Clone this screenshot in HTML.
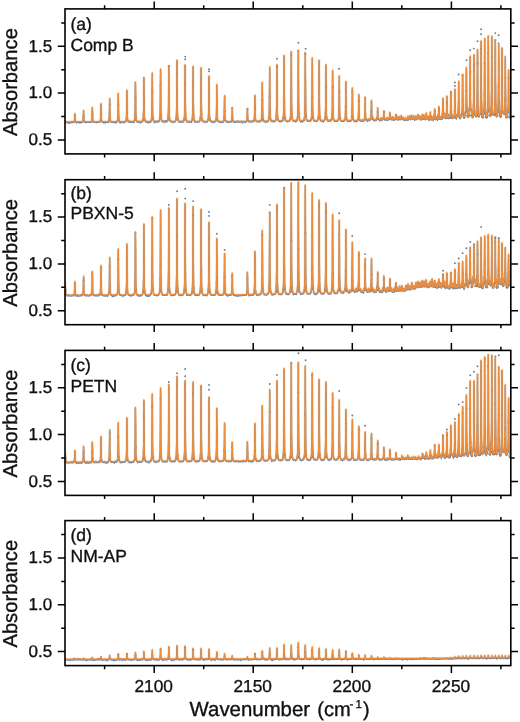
<!DOCTYPE html><html><head><meta charset="utf-8"><style>html,body{margin:0;padding:0;background:#fff;}svg{display:block;}text{font-family:"Liberation Sans",Arial,sans-serif;fill:#111;stroke:#111;stroke-width:0.35px;text-rendering:geometricPrecision;}</style></head><body>
<svg width="520" height="722" viewBox="0 0 520 722">
<defs>
<clipPath id="c0"><rect x="65" y="8.9" width="445.8" height="145"/></clipPath>
<clipPath id="c1"><rect x="65" y="179.7" width="445.8" height="145"/></clipPath>
<clipPath id="c2"><rect x="65" y="350.4" width="445.8" height="145"/></clipPath>
<clipPath id="c3"><rect x="65" y="520.6" width="445.8" height="145"/></clipPath>
</defs>
<g clip-path="url(#c0)" fill="none" stroke-linejoin="round">
<defs><path id="p0" d="M63 121.8L64.3 121.8L65.6 121.8L66.9 121.8L68.2 121.8L69.5 121.8L70.8 121.8L72.1 121.8L72.9 121.7L73.4 121.7L73.5 121.6L74 121.4L74.4 120.9L74.6 119.4L74.7 118L74.8 115.9L74.9 113.7L75 116.3L75.1 119.5L75.4 120.9L75.8 121.4L76 121.5L76.3 121.6L76.9 121.7L77.3 121.7L78.6 121.7L79.9 121.7L81.2 121.7L81.6 121.7L82.2 121.6L82.5 121.4L82.7 121.3L83.1 120.6L83.3 118.6L83.5 113.9L83.6 110.4L83.7 113.6L83.8 117.9L83.8 118.5L84.1 120.5L84.5 121.3L85 121.5L85.1 121.6L85.6 121.7L86.4 121.7L87.7 121.7L89 121.7L90.3 121.6L90.3 121.6L91 121.5L91.5 121.1L91.6 120.9L91.8 120.2L92.1 117.7L92.2 111.8L92.3 107.5L92.5 111.7L92.6 117.7L92.8 120.2L92.9 120.4L93.2 121.1L93.8 121.5L94.2 121.6L94.3 121.6L95.5 121.7L96.8 121.7L98.1 121.7L99 121.6L99.4 121.5L99.5 121.4L100 120.9L100.5 119.8L100.7 116.6L100.8 109.1L101 103.7L101 109.1L101.2 116.6L101.5 119.8L101.8 120.9L102 121.1L102.3 121.4L103 121.6L103.3 121.6L104.6 121.7L105.9 121.6L107.2 121.6L107.7 121.5L108.3 121.3L108.5 121.1L108.8 120.7L109.2 119.2L109.4 115L109.6 105.2L109.7 98.5L109.8 105.6L109.8 107.5L109.9 115.1L110.2 119.3L110.6 120.7L111.1 121.3L111.1 121.3L111.7 121.5L112.4 121.6L113.7 121.6L115 121.6L116.3 121.5L116.3 121.5L116.9 121.2L117.4 120.5L117.6 120L117.8 118.7L118.1 113.5L118.2 101.5L118.3 93.5L118.4 102.3L118.6 113.8L118.8 118.7L118.9 119.2L119.2 120.5L119.7 121.2L120.2 121.4L120.3 121.5L121.5 121.6L122.8 121.6L124.1 121.5L124.9 121.4L125.4 121.2L125.5 121.1L126 120.3L126.4 118.3L126.7 112.5L126.7 111.4L126.8 99L126.9 90.2L127 100.1L127.2 112.9L127.4 118.4L127.8 120.3L128 120.7L128.3 121.1L128.9 121.4L129.3 121.5L130.6 121.5L131.9 121.5L133.2 121.4L133.4 121.3L134.1 120.9L134.5 120.1L134.6 119.9L134.9 117.4L135.2 110.1L135.3 93.2L135.4 82.1L135.6 94.6L135.7 110.6L135.8 114.7L135.9 117.5L136.3 120L136.8 120.9L137.1 121.1L137.4 121.3L138.4 121.5L139.7 121.5L141 121.5L141.9 121.3L142.3 121L142.5 120.8L143 119.7L143.4 116.9L143.6 111.6L143.7 108.7L143.8 89.8L143.9 77.3L144 91.2L144.2 109.2L144.4 117L144.8 119.7L144.9 120L145.3 120.8L145.9 121.3L146.2 121.4L147.5 121.5L148.8 121.5L150.1 121.3L150.3 121.2L150.9 120.7L151.4 119.5L151.4 119.4L151.8 116.4L152 107.5L152.2 86.9L152.3 72.9L152.4 87.9L152.5 107.9L152.7 115L152.8 116.5L153.2 119.5L153.7 120.7L154 121.1L154.3 121.2L155.3 121.4L156.6 121.4L157.9 121.4L158.6 121.2L159.2 120.6L159.2 120.6L159.7 119.3L160.1 116L160.3 106.6L160.5 84.7L160.5 82.5L160.6 69.2L160.7 85L160.8 106.6L161.1 116.1L161.5 119.3L161.8 120.3L162 120.6L162.6 121.2L163.1 121.3L164.4 121.4L165.7 121.4L166.8 121.1L167 121L167.4 120.5L167.9 119.2L168.3 116.2L168.3 115.7L168.6 105.8L168.7 82.9L168.8 65.8L168.9 82L169.1 105.4L169.3 115.6L169.6 118.5L169.7 119.2L170.2 120.5L170.8 121.1L170.9 121.2L172.2 121.4L173.5 121.4L174.8 121.2L175 121.1L175.6 120.4L176.1 118.9L176.1 118.9L176.5 115L176.8 103.5L176.9 77.1L177 60.1L177.1 79.6L177.3 104.4L177.4 112.3L177.5 115.1L177.9 118.9L178.4 120.4L178.7 120.8L179 121.1L180 121.3L181.3 121.4L182.6 121.3L183.1 121.1L183.7 120.5L183.9 120.1L184.2 119.1L184.6 115.5L184.9 105.2L185 81.5L185.1 64.8L185.2 79.6L185.2 82L185.4 105.4L185.6 115.6L186 119.1L186.5 120.5L186.5 120.5L187.1 121.1L187.8 121.3L189.1 121.3L190.4 121.3L191.1 121.1L191.7 120.6L191.7 120.5L192.2 119.2L192.6 115.7L192.9 106L193 92L193 83.6L193.1 66.4L193.2 82L193.4 105.4L193.6 115.6L194 119.1L194.3 120L194.5 120.5L195.1 121.1L195.6 121.2L196.9 121.3L198.2 121.3L199.1 121.1L199.5 120.8L199.7 120.5L200.2 119.2L200.6 115.8L200.8 110L200.9 106L201 83.5L201.1 67.7L201.2 84L201.4 106.2L201.6 115.8L202 119.2L202.1 119.5L202.5 120.5L203.1 121.1L203.4 121.2L204.7 121.3L206 121.3L207 121.1L207.3 120.9L207.6 120.6L208.1 119.5L208.5 116.7L208.6 114.9L208.8 108.8L208.9 90.4L209 76L209.1 88.7L209.2 108.2L209.5 116.6L209.9 119.5L210.4 120.6L211 121.1L211.2 121.2L212.5 121.3L213.8 121.3L214.8 121.2L215.1 121L215.4 120.8L215.9 119.9L216.3 117.6L216.4 116.6L216.6 111L216.7 95.7L216.8 84.6L216.9 95.5L217.1 110.9L217.3 117.6L217.7 119.8L217.7 119.9L218.2 120.8L218.8 121.2L219 121.2L220.3 121.3L221.6 121.3L222.6 121.2L222.9 121.1L223.2 121L223.7 120.3L224.1 118.7L224.2 117.5L224.3 114L224.5 103.1L224.6 95.6L224.7 103.5L224.8 114.1L225.1 118.7L225.5 120.3L225.5 120.3L226 121L226.6 121.2L226.8 121.3L228.1 121.4L229.4 121.4L230.3 121.3L230.7 121.2L230.9 121.2L231.4 120.8L231.8 120L232 118.1L232 117.5L232.2 111.8L232.3 108.1L232.4 112.3L232.5 117.7L232.8 120L233.2 120.8L233.3 121L233.7 121.2L234.3 121.3L234.6 121.3L235.9 121.4L237.2 121.4L238.5 121.4L239.8 121.4L241.1 121.4L242.4 121.4L243.7 121.3L245 121.3L245.4 121.3L246 121.1L246.3 121L246.5 120.8L246.9 120L247.2 117.8L247.3 112.6L247.4 108.6L247.5 112.2L247.6 115L247.7 117.6L247.9 120L248.3 120.8L248.8 121.1L248.9 121.1L249.4 121.2L250.2 121.3L251.5 121.2L252.8 121.1L252.9 121.1L253.5 120.8L254 120.2L254.1 120L254.4 118.6L254.7 114L254.8 103.3L254.9 95.2L255 102.7L255.2 113.7L255.4 118.3L255.4 118.5L255.8 120.2L256.3 120.8L256.7 121L256.9 121.1L258 121.2L259.3 121.1L260.3 121L260.6 120.8L260.9 120.5L261.4 119.6L261.8 117.2L261.9 116.2L262.1 110.3L262.2 94.5L262.3 82.3L262.4 93.4L262.6 109.9L262.8 117.1L263.2 119.5L263.2 119.5L263.7 120.5L264.3 120.9L264.5 121L265.8 121.1L267.1 121L267.7 120.8L268.3 120.2L268.4 120L268.8 118.9L269.2 115.6L269.4 106.1L269.6 84.2L269.7 67L269.7 68.5L269.8 82.2L269.9 105.3L270.2 115.4L270.6 118.8L271 120.1L271.1 120.2L271.7 120.8L272.3 120.9L273.6 121L274.9 120.7L274.9 120.7L275.6 120.1L276.1 118.7L276.2 117.9L276.4 115.1L276.7 104.6L276.9 80.6L276.9 64.6L277.1 82.4L277.2 105.3L277.4 115.2L277.5 116L277.9 118.7L278.4 120.1L278.8 120.6L278.9 120.7L280.1 120.9L281.4 120.8L282.1 120.6L282.7 120L282.8 119.9L283.2 118.3L283.6 114.1L283.9 102.2L284 87L284.1 74.6L284.1 55.4L284.2 75.4L284.4 102.4L284.6 114.2L285.1 118.3L285.3 119.3L285.6 119.9L286.1 120.6L286.6 120.7L287.9 120.8L289.2 120.6L289.3 120.5L289.9 119.8L290.4 118.1L290.5 117.3L290.8 113.7L291 101.3L291.2 72.8L291.3 51.6L291.4 71.9L291.5 101L291.8 113.7L291.8 114.1L292.2 118L292.7 119.7L293.1 120.3L293.3 120.5L294.4 120.7L295.7 120.7L296.4 120.4L296.9 119.7L297 119.6L297.4 117.9L297.9 113.5L298.1 100.3L298.2 70.2L298.3 56.3L298.4 50.7L298.4 73L298.6 101.4L298.9 113.7L299.2 118L299.6 119.3L299.8 119.7L300.4 120.4L300.9 120.6L302.2 120.7L303.3 120.4L303.5 120.3L303.9 119.7L304.4 118L304.8 114.5L304.8 113.7L305.1 101.3L305.2 72.8L305.3 52.5L305.4 73.1L305.6 101.4L305.8 113.7L306.1 117.1L306.2 118L306.7 119.7L307.3 120.4L307.4 120.4L308.7 120.7L310 120.5L310.3 120.4L310.9 119.7L311.3 118.5L311.4 118.2L311.8 114.3L312 103.2L312.2 77.7L312.3 57.8L312.4 75.4L312.5 102.4L312.6 108.9L312.8 114.1L313.2 118.1L313.7 119.7L313.9 120.1L314.3 120.4L315.2 120.6L316.5 120.6L317.1 120.4L317.7 119.7L317.8 119.6L318.2 118.2L318.6 114.5L318.9 103.5L319 78.3L319.1 61.2L319.1 60.2L319.2 78.3L319.4 103.5L319.6 114.4L320 118.2L320.4 119.5L320.5 119.7L321.1 120.4L321.7 120.5L323 120.6L323.9 120.4L324.3 120.1L324.5 119.8L325 118.4L325.4 114.8L325.6 108.7L325.7 104.4L325.8 80.5L325.9 64.6L326 82.2L326.2 105L326.4 114.9L326.8 118.4L326.9 118.8L327.3 119.8L327.9 120.4L328.2 120.5L329.5 120.6L330.6 120.4L330.8 120.3L331.2 119.9L331.7 118.6L332.1 115.8L332.1 115.5L332.4 106.7L332.5 86.2L332.6 70.5L332.7 84.8L332.9 106.2L333.1 115.4L333.4 118.1L333.5 118.6L334 119.9L334.6 120.4L334.7 120.4L336 120.6L337.3 120.5L337.3 120.4L337.9 120L338.4 118.9L338.6 117.8L338.8 116.1L339 108L339.2 89.4L339.3 75.8L339.4 89.1L339.5 107.9L339.8 116.1L339.9 117.5L340.2 118.9L340.7 120L341.2 120.5L341.3 120.5L342.5 120.7L343.8 120.6L343.9 120.5L344.4 120.1L344.9 119.2L345.1 118.6L345.4 116.7L345.6 109.6L345.8 93.2L345.9 81.6L345.9 93.5L346.1 109.7L346.4 116.7L346.4 117.3L346.8 119.2L347.2 120.1L347.7 120.5L347.9 120.6L349 120.7L350.3 120.6L350.4 120.6L351 120.2L351.5 119.4L351.6 119L351.9 117.3L352.1 111.3L352.3 97.4L352.4 87.9L352.5 97.9L352.6 109.1L352.6 111.3L352.9 117.2L352.9 117.6L353.2 119.1L353.3 119.3L353.7 120L353.8 120.1L354.1 120.3L354.2 120.3L354.3 120.3L354.4 120.3L354.5 120.3L354.6 120.3L354.6 120.3L354.7 120.3L354.8 120.4L355.1 120.5L355.2 120.5L355.5 120.6L355.5 120.6L355.7 120.6L356 120.6L356.1 120.5L356.3 120.4L356.5 120.3L356.6 120.3L356.6 120.3L356.6 120.3L356.7 120.3L356.8 120.3L356.8 120.3L357.1 120.4L357.2 120.3L357.4 120.2L357.5 120.2L357.7 119.9L357.9 119.6L358 119.4L358.1 118.9L358.1 118.8L358.3 117.7L358.4 116.9L358.5 113.6L358.6 112.8L358.6 111.4L358.6 108.3L358.7 105.8L358.7 101.8L358.7 98.5L358.8 94.3L358.9 100.2L358.9 102.4L359.1 113.2L359.1 115.6L359.3 117.5L359.3 117.9L359.4 118.6L359.5 119.1L359.7 119.5L359.8 119.7L360 120L360.2 120L360.2 120L360.4 120L360.6 120L360.6 120L360.6 120L360.7 120L360.7 120L360.8 120L360.8 120.1L360.9 120.2L361.2 120.3L361.2 120.4L361.6 120.4L361.7 120.4L362 120.3L362.1 120.2L362.1 120.2L362.3 119.9L362.5 119.8L362.6 119.7L362.7 119.7L362.7 119.7L362.7 119.8L362.8 119.9L363.1 120.1L363.2 120.2L363.3 120.2L363.3 120.2L363.5 120.2L363.8 120.1L363.8 120L364 119.9L364.2 119.4L364.3 119.3L364.5 118.6L364.6 118L364.6 117.9L364.6 117.7L364.7 117.4L364.7 117.2L364.7 116.9L364.8 115.6L364.9 113.3L365 110.6L365.1 103.6L365.2 97L365.2 100.4L365.3 104.2L365.3 107L365.4 113.8L365.6 117.6L365.7 117.9L365.8 118.6L365.9 118.9L366.1 119.2L366.1 119.2L366.2 119.2L366.4 119L366.6 118.9L366.6 118.9L366.7 118.9L366.7 118.9L366.8 119L366.9 119.2L366.9 119.3L367.2 119.7L367.2 119.8L367.5 120.1L367.6 120.2L368 120.1L368.1 120.1L368.4 119.8L368.5 119.6L368.6 119.3L368.7 119.1L368.8 119L368.9 118.9L368.9 118.9L369 119L369.1 119.2L369.4 119.6L369.5 119.7L369.5 119.7L369.8 119.8L369.8 119.8L370 119.7L370.1 119.6L370.3 119.2L370.4 118.8L370.6 118.2L370.6 117.8L370.8 117.1L370.8 117L370.9 116.6L370.9 116.6L371 116.3L371 116.1L371.1 115.4L371.1 114.8L371.2 113.4L371.4 105.8L371.4 103.5L371.4 102.1L371.5 100.4L371.6 106.4L371.7 114.4L371.8 116.1L371.9 117.5L372 117.8L372.3 118.5L372.3 118.5L372.4 118.4L372.4 118.4L372.6 118.1L372.7 117.9L372.8 117.8L372.8 117.8L372.9 117.9L372.9 118L372.9 118L373.1 118.5L373.3 119.3L373.4 119.5L373.5 119.6L373.7 119.9L373.7 119.9L373.9 120L374.2 119.8L374.3 119.7L374.6 119.4L374.7 119.1L374.7 119.1L374.8 119.1L374.8 119.1L374.9 119.2L375 119.3L375.1 119.4L375.3 119.8L375.3 119.8L375.7 120L375.7 120L375.8 120L376.2 119.6L376.2 119.5L376.3 119.4L376.5 118.9L376.6 118.5L376.7 118.3L376.8 118.3L376.8 118.3L376.8 118.3L376.9 118.3L377 118.4L377.2 118.3L377.2 118.2L377.4 116.5L377.5 115.6L377.6 111.4L377.6 109.3L377.7 107.7L377.8 111.4L377.9 116.6L378 117.2L378.1 118.5L378.2 118.7L378.4 118.9L378.6 118.8L378.6 118.7L378.7 118.6L378.8 118.6L378.9 118.5L378.9 118.6L379 118.6L379 118.7L379.1 118.9L379.1 119L379.4 119.6L379.6 119.8L379.7 119.9L379.8 119.9L380.1 119.8L380.2 119.7L380.3 119.6L380.5 119.2L380.7 118.4L380.9 117.9L380.9 117.9L381 117.8L381 117.8L381.1 117.9L381.2 118.3L381.5 119.1L381.5 119.2L381.6 119.4L381.9 119.7L382.1 119.6L382.4 119.3L382.5 119.1L382.5 119L382.7 118.2L382.8 117.9L382.9 117.7L382.9 117.6L383 117.5L383 117.5L383.1 117.5L383.2 117.8L383.4 118L383.5 117.9L383.5 117.8L383.6 117L383.8 113.6L383.9 111L383.9 111L384 113.6L384 114.6L384.1 117.2L384.1 117.3L384.4 118.7L384.4 118.7L384.4 118.7L384.6 118.6L384.8 118.5L384.8 118.5L384.9 118.5L384.9 118.5L385 118.6L385 118.6L385.1 118.9L385.3 119.2L385.4 119.4L385.4 119.5L385.4 119.5L385.8 119.7L385.9 119.7L385.9 119.7L386.3 119.1L386.4 119L386.6 118L386.7 117.7L386.8 117.5L386.9 117.4L386.9 117.4L386.9 117.4L386.9 117.5L387.1 118L387.4 118.9L387.5 119.3L387.8 119.6L387.9 119.7L388 119.7L388 119.7L388.2 119.4L388.4 119.2L388.6 118.7L388.6 118.4L388.8 118L388.9 117.9L388.9 117.8L389 117.9L389 117.9L389.1 118L389.1 118.2L389.3 118.6L389.4 118.6L389.4 118.6L389.6 118.5L389.7 117.6L389.8 116.5L389.9 114.7L389.9 112.3L390.1 114.3L390.1 114.6L390.2 117.4L390.3 118L390.4 118.3L390.5 118.3L390.6 118.1L390.7 117.8L390.9 117.5L390.9 117.4L390.9 117.4L390.9 117.4L391 117.4L391.1 117.5L391.2 118L391.4 118.5L391.5 118.9L391.6 119.1L391.9 119.4L391.9 119.4L391.9 119.4L392.1 119.4L392.4 118.8L392.4 118.6L392.7 117.4L392.9 116.8L392.9 116.7L393 116.7L393.1 116.9L393.1 116.9L393.2 117.5L393.4 118.6L393.7 119.2L393.9 119.5L394 119.6L394.2 119.6L394.4 119.5L394.5 119.2L394.6 119.1L394.6 119L394.8 118.3L394.9 117.9L395 117.9L395.1 117.7L395.1 117.7L395.1 117.8L395.2 117.8L395.3 118.1L395.5 118.4L395.6 118.5L395.7 118L395.8 117.3L395.9 116L396 114.6L396 114.5L396.1 116.1L396.2 118.1L396.5 118.7L396.5 118.7L396.6 118.5L396.9 117.6L397 117.1L397.1 117.1L397.1 117L397.1 117L397.2 117.2L397.3 117.4L397.4 117.7L397.6 118.7L397.9 119.3L398 119.4L398 119.4L398.4 119.4L398.4 119.4L398.5 119.2L398.8 118.4L399 117.2L399.1 116.8L399.2 116.6L399.3 116.4L399.3 116.4L399.4 116.5L399.5 117.2L399.7 117.9L399.8 118.3L399.9 118.6L399.9 118.7L400.2 119L400.4 119L400.5 118.7L400.7 118.3L400.8 117.9L401 116.7L401 116.5L401.2 115.7L401.2 115.6L401.3 115.5L401.3 115.5L401.4 115.7L401.4 115.9L401.5 116.4L401.7 117.1L401.8 117.3L401.8 117.2L401.8 117.2L401.9 117.1L402 117.8L402.2 118.6L402.3 118.9L402.3 118.9L402.4 118.9L402.7 118.6L402.7 118.5L402.8 118.2L403 117.7L403.1 117.2L403.2 117.1L403.3 117.1L403.3 117.2L403.3 117.3L403.3 117.3L403.5 117.8L403.6 118.4L403.7 118.8L403.9 119.4L403.9 119.4L404.1 119.6L404.4 119.7L404.6 119.6L404.8 119.2L404.9 119L405.1 118.4L405.2 118.1L405.2 118L405.3 117.9L405.4 117.9L405.4 118L405.6 118.4L405.8 119.2L405.8 119.2L406 119.5L406.2 119.7L406.2 119.8L406.4 119.8L406.5 119.8L406.7 119.5L406.9 119.2L406.9 119.1L407.1 118.4L407.3 117.9L407.3 117.9L407.3 117.8L407.4 117.7L407.5 117.7L407.5 117.7L407.6 117.6L407.6 117.4L407.7 116.8L407.8 116.3L407.9 117L407.9 117.4L408.1 118.7L408.1 118.8L408.3 119.3L408.3 119.3L408.6 119.2L408.7 119L408.8 118.8L408.8 118.8L409 118.1L409.2 116.8L409.2 116.7L409.4 115.9L409.5 115.7L409.6 115.8L409.6 115.9L409.7 116.7L409.8 117.1L410 118L410.1 118.4L410.2 118.6L410.4 118.9L410.7 118.9L410.9 118.4L411.1 117.7L411.3 116.2L411.4 115.7L411.5 115.4L411.5 115.3L411.6 115.2L411.6 115.2L411.7 115.4L411.8 116.2L412.1 117.7L412.1 118.1L412.5 118.8L412.6 118.8L412.7 118.8L413 118.2L413.1 117.9L413.3 116.6L413.4 115.8L413.6 115.6L413.6 115.6L413.6 115.7L413.6 115.8L413.8 116.6L414 117.7L414.1 117.9L414.2 118.6L414.4 119L414.7 119L414.9 118.7L415.1 118.1L415.3 117.2L415.4 116.8L415.5 116.1L415.6 116L415.6 115.9L415.7 115.9L415.7 116L415.9 116.7L416.1 118L416.3 118.5L416.5 118.9L416.6 118.9L416.8 118.8L417 118.2L417.2 117.5L417.2 117.4L417.4 115.9L417.6 114.9L417.6 114.7L417.7 114.7L417.7 114.7L417.8 114.8L417.9 115.2L417.9 115.5L417.9 115.6L418.1 116.7L418.2 117L418.4 117.1L418.4 116.5L418.5 115.8L418.6 114.9L418.6 114.8L418.7 116.1L418.9 117.8L418.9 118.2L419.1 118.3L419.1 118.3L419.2 118.2L419.4 117.9L419.5 117.2L419.6 116.8L419.7 116.4L419.8 116.1L419.9 116L419.9 116.2L420 116.4L420.1 117L420.4 118.3L420.5 118.8L420.6 118.9L420.6 119.1L420.8 119.3L421.1 119.4L421.1 119.3L421.2 119.2L421.4 118.7L421.6 118.1L421.7 117.7L421.8 117.3L421.9 117.1L421.9 116.9L422 116.8L422.1 116.8L422.1 116.8L422.2 116.8L422.2 116.7L422.4 115.4L422.4 114.6L422.5 114.3L422.6 115.8L422.7 116.9L422.8 117.8L422.9 118.4L423 118.7L423.1 118.7L423.2 118.7L423.4 118.4L423.4 118.3L423.6 117.7L423.8 116.3L423.9 115.8L423.9 115.6L424 115.5L424.1 115.3L424.2 115.5L424.3 116L424.3 116.4L424.4 116.9L424.5 117.5L424.6 117.9L424.9 118.8L425 118.9L425 119L425.4 118.8L425.5 118.6L425.5 118.5L425.7 117.7L425.8 117.3L425.9 116.4L426 115.4L426.1 115L426.1 114.3L426.2 114.2L426.2 113.7L426.3 113.5L426.3 113.3L426.4 113L426.4 113.1L426.5 114.3L426.5 114.5L426.6 116.2L426.8 117.1L426.8 117.6L426.9 117.9L427 118.3L427.2 118.6L427.3 118.8L427.3 118.8L427.7 118.4L427.7 118.2L427.8 117.9L428 117L428.1 116.4L428.2 116.2L428.3 116.2L428.3 116.3L428.3 116.4L428.4 116.4L428.4 116.6L428.5 117.1L428.7 118.3L428.9 119L429 119L429.1 119.2L429.4 119.2L429.5 119.1L429.6 119L429.6 118.9L429.9 118.2L429.9 118L430.1 116.6L430.1 116.1L430.2 114.8L430.2 114.6L430.3 113.5L430.4 112.4L430.4 112L430.4 111.9L430.4 112.5L430.5 113.7L430.6 115.8L430.6 116.5L430.9 118.1L430.9 118.3L431 118.6L431.2 119.2L431.3 119.2L431.5 119.3L431.8 119L431.8 118.9L431.9 118.7L432.1 117.7L432.2 117.4L432.3 117.2L432.3 117.1L432.4 117L432.4 117L432.4 117L432.5 117.2L432.6 117.7L432.7 118L432.9 118.7L432.9 118.8L433.3 119.2L433.3 119.2L433.4 119.2L433.5 119.1L433.8 118.4L433.8 118.3L433.8 118.2L434.1 116.9L434.2 116.1L434.2 116L434.3 115.4L434.4 115L434.4 114.7L434.4 114.4L434.6 112.1L434.6 111.1L434.7 108.8L434.8 111.9L434.8 112.7L434.9 116.1L435.1 117.3L435.2 118.2L435.2 118.2L435.6 118.9L435.6 118.9L435.7 118.8L435.9 118.5L436.1 118L436.2 117.6L436.3 117.1L436.4 117.1L436.4 117L436.4 117L436.6 117.1L436.7 117.7L436.9 118.5L436.9 118.6L437 118.8L437.4 119.1L437.4 119L437.5 118.9L437.5 118.9L437.9 117.9L437.9 117.5L438 117L438.2 115.8L438.3 114.7L438.4 114.2L438.4 114.1L438.4 114L438.5 113.7L438.6 113.5L438.6 112.9L438.7 112.7L438.7 112.2L438.8 109.2L438.9 106.4L438.9 106.7L439 110.1L439.1 115.2L439.2 115.7L439.3 117.2L439.4 117.6L439.7 118.4L439.8 118.5L439.8 118.5L440 118.4L440.1 118.2L440.3 117.6L440.3 117.5L440.4 117.1L440.5 117L440.6 116.9L440.6 116.9L440.7 117L440.8 117.5L440.9 117.8L441 118.2L441.1 118.4L441.2 118.7L441.3 118.8L441.5 118.8L441.6 118.6L441.7 118.3L442 117.3L442.1 116.5L442.1 116.3L442.4 114L442.5 112.5L442.5 112.3L442.6 111.6L442.6 111.4L442.6 111.2L442.7 109.8L442.8 109.2L442.8 108.4L442.9 104.6L442.9 102.8L443 98.2L443.1 104L443.1 105.5L443.2 112L443.4 114.7L443.5 115.9L443.5 116L443.9 117.2L443.9 117.2L444 117.2L444.3 116.5L444.4 115.7L444.5 114.8L444.6 114.1L444.7 113.8L444.8 113.6L444.9 113.8L444.9 113.9L444.9 114.2L445 114.6L445 114.9L445.2 116.2L445.3 116.7L445.5 117.6L445.5 117.7L445.7 117.9L446 117.5L446 117.4L446.2 116.8L446.4 115.2L446.4 114.7L446.5 113.9L446.6 110.5L446.7 108.9L446.8 103.5L446.8 101.9L446.8 98.7L446.9 96.1L446.9 97.3L447 99.3L447 101.7L447 104.6L447.1 110L447.2 111.2L447.4 114.9L447.4 115.3L447.6 116.3L447.8 117.5L447.8 117.6L448.1 118L448.3 117.9L448.3 117.9L448.5 117.5L448.7 116.2L448.9 115.5L448.9 115.4L448.9 115.3L449 115.3L449.1 115.4L449.1 115.5L449.1 115.7L449.2 116.1L449.5 117.2L449.5 117.3L449.7 117.5L449.9 117.4L450 117.1L450.2 116L450.4 114.8L450.4 114.5L450.6 109.8L450.6 109.1L450.8 98.9L450.9 92.1L450.9 91.6L451 94.7L451 97.1L451 99.4L451.1 102.5L451.1 104.8L451.1 105.5L451.2 107.8L451.4 110.8L451.4 111.2L451.6 114.4L451.7 114.9L451.7 115.1L451.8 115.9L452 117.2L452.2 117.7L452.3 117.8L452.5 117.7L452.6 117.6L452.8 116.6L452.9 116.3L453 116L453 115.9L453.1 115.8L453.1 115.8L453.1 115.8L453.2 115.9L453.3 116.5L453.5 117.1L453.6 117.3L453.6 117.4L454 117L454 117L454.1 116.4L454.3 115.4L454.4 114.4L454.5 113.3L454.6 111.9L454.6 108.7L454.8 97.2L454.9 89.1L454.9 91.4L455 96.4L455.1 101.1L455.1 103.4L455.1 104L455.1 107.2L455.3 111.5L455.4 113.2L455.6 115L455.6 115.4L455.7 116.1L455.8 116.7L455.9 117.3L456.2 117.7L456.3 117.7L456.4 117.4L456.6 116.9L456.7 116.2L456.8 115.2L456.9 114.7L457 114.2L457.1 113.9L457.1 113.8L457.1 113.8L457.2 113.9L457.3 114.3L457.3 114.5L457.6 115.5L457.7 115.7L457.8 115.6L458 115L458.2 113.6L458.2 113.3L458.4 106.5L458.5 104L458.6 96L458.6 91.8L458.7 81.2L458.8 91.1L458.8 93.8L458.9 104.9L459 105.9L459.1 109.1L459.1 109.5L459.1 109.7L459.2 111L459.2 111.5L459.3 113.1L459.5 115L459.6 115.6L459.6 115.8L459.7 116.5L460 117.7L460.1 117.9L460.2 118L460.5 117.7L460.6 117.2L460.7 116.7L460.8 116L460.9 115.6L461 114.6L461.1 114.3L461.1 114.3L461.2 114.2L461.2 114.2L461.4 114.5L461.6 114.9L461.7 114.8L461.8 114.6L462 113.1L462.1 111.9L462.3 107.8L462.4 103.8L462.5 86.6L462.6 74.1L462.7 80.6L462.7 85.3L462.9 100.7L462.9 103.4L463.1 106L463.1 106.3L463.2 107L463.3 108.3L463.3 108.4L463.4 110.3L463.4 110.6L463.5 111.8L463.7 114L463.9 115.9L464 116.6L464.1 116.9L464.4 117.4L464.4 117.4L464.6 117.1L464.6 117L464.7 116.6L464.8 116.1L465 114.2L465 113.9L465.2 112.6L465.2 112.5L465.3 111.9L465.4 111.6L465.4 111.6L465.5 111.6L465.5 111.6L465.8 111L465.9 109.9L466 108.9L466 108L466.1 101.4L466.2 99L466.3 81.6L466.4 67.4L466.5 73.7L466.5 81.5L466.6 100.9L466.7 102.8L466.9 108.3L466.9 108.8L467.1 109.7L467.3 109.8L467.3 109.9L467.3 109.9L467.4 110.2L467.5 111L467.6 112.6L467.8 114.6L467.9 115.2L467.9 115.3L468.2 116.7L468.3 116.7L468.4 116.6L468.4 116.6L468.6 115.8L468.8 114.5L468.8 114.3L468.8 114.1L469 111.2L469.2 109.1L469.3 108.2L469.3 108L469.4 107.7L469.4 107.7L469.4 107.6L469.5 107.3L469.7 106.2L469.8 104.8L469.9 100.3L469.9 96.8L470 90.3L470.1 73.2L470.2 57.1L470.2 56.2L470.3 73.5L470.4 97.5L470.5 101.8L470.7 107.6L470.7 108L470.9 110L471.1 110.2L471.2 110.1L471.2 110L471.3 109.9L471.3 109.9L471.4 110.2L471.5 110.9L471.6 111.3L471.6 111.9L471.7 112.6L471.9 115.3L472 116L472.1 116.7L472.2 116.8L472.3 117L472.5 116.8L472.6 116.5L472.6 116.3L472.8 115.4L473.1 113.2L473.1 112.5L473.3 109.5L473.4 107.4L473.4 106.6L473.5 105.5L473.6 104.2L473.6 103.7L473.6 101L473.8 95L473.8 89.8L473.9 71.5L474 54.6L474.1 60.5L474.1 72.6L474.2 87.4L474.2 97.6L474.4 107.9L474.5 109.2L474.7 111.9L474.9 113.9L474.9 114.2L475.1 114.6L475.1 114.7L475.3 114.7L475.4 114.6L475.5 114.6L475.5 114.6L475.6 114.6L475.6 114.6L475.7 114.9L475.7 114.9L475.8 115.5L476 116.1L476.1 116.2L476.1 116.2L476.3 116L476.4 115.5L476.5 115.1L476.6 114.2L476.8 112.6L477 109.2L477 108.5L477.2 102.5L477.2 95.7L477.4 68.7L477.4 66.1L477.5 49.5L477.6 57.7L477.6 60.2L477.6 62.8L477.6 68L477.7 81.7L477.7 88.4L477.8 94.4L477.8 95.3L477.9 104.4L478 107.3L478.2 110.7L478.2 111L478.4 113.8L478.6 115.1L478.7 115.7L478.9 116.4L479 116.4L479.1 116.3L479.1 116.3L479.1 116.2L479.3 115.2L479.5 114.3L479.5 114.2L479.5 114.1L479.6 113.9L479.7 113.8L479.7 113.8L479.7 113.8L479.8 113.9L480.1 113.5L480.1 113.3L480.2 112.9L480.3 112.2L480.5 109.9L480.6 107.5L480.6 106.6L480.9 93.5L481 68.7L481 62.8L481 53.7L481.1 40.8L481.2 61.8L481.3 81.1L481.4 91L481.4 97.4L481.4 98.5L481.5 101.9L481.6 103.6L481.6 104.1L481.6 105L481.8 108.4L482 112.2L482 112.6L482.1 112.9L482.4 116.2L482.5 116.5L482.6 116.7L482.7 117L482.9 116.8L482.9 116.8L482.9 116.7L483.1 116L483.2 115.4L483.3 114.7L483.4 114.3L483.4 114.1L483.4 113.8L483.5 113.4L483.6 113.3L483.7 112.9L483.8 112.4L483.9 111.4L484 111L484.2 107.4L484.4 101.6L484.4 93.2L484.5 87.7L484.6 61.2L484.7 38.3L484.8 60.8L484.9 74.9L484.9 83.4L484.9 92.1L485.1 103.8L485.2 105.3L485.3 107L485.4 108.5L485.4 108.6L485.4 109.4L485.5 109.9L485.5 110.1L485.6 111.5L485.6 112L485.9 114.9L486 115.8L486.1 116.5L486.3 117.2L486.3 117.3L486.5 117.5L486.7 117.1L486.8 116.7L486.8 116.6L486.9 116L487.1 113.7L487.3 112.1L487.4 111.2L487.4 111.1L487.5 110.2L487.6 109.7L487.6 108.7L487.8 106.2L487.9 103L488.1 92.1L488.1 84.8L488.2 71.4L488.2 59.3L488.3 35.8L488.4 59.4L488.6 92.2L488.7 101.3L488.8 106.5L489.1 110.1L489.2 110.6L489.3 110.7L489.4 110.6L489.5 110.6L489.5 110.7L489.6 110.9L489.7 111.6L489.7 111.9L489.8 112.9L489.8 113L490.1 115.1L490.1 115.4L490.3 115.8L490.4 115.7L490.5 115.6L490.6 115L490.7 114.4L490.9 112.5L491 111.7L491 111L491.3 105.7L491.3 104.5L491.4 100.2L491.5 93.6L491.6 89.6L491.6 88.4L491.6 80.8L491.7 58.4L491.8 40.9L491.8 36.2L491.9 59.5L492 84.6L492 86.3L492.1 92L492.1 97.9L492.3 106.9L492.4 109.4L492.6 112.1L492.7 112.9L492.9 114L493 114.2L493.2 113.9L493.3 113.7L493.3 113.5L493.4 113.2L493.4 113.1L493.5 113.1L493.6 113.2L493.8 113.8L493.8 114L493.9 114.3L494 114.4L494.1 114.4L494.4 112.7L494.4 112.6L494.6 111.1L494.6 110.4L494.8 106.2L494.9 102.1L494.9 99.9L495.1 91.5L495.2 61.3L495.3 39.9L495.4 46.3L495.4 60L495.4 72.8L495.5 83.9L495.6 89L495.6 97.4L495.7 100.2L495.8 104.2L495.9 107.2L495.9 108.3L496.2 112.5L496.2 113L496.4 114L496.7 116L496.8 116.1L496.9 116.1L497.1 115.1L497.2 114.7L497.3 113.9L497.4 112.8L497.4 112.2L497.6 111.2L497.6 110.4L497.7 110.1L497.8 109.9L497.8 109.7L497.9 109.4L498.1 107.5L498.2 106.6L498.3 104.2L498.4 94.3L498.5 87.9L498.6 78.4L498.6 65.5L498.7 44.8L498.8 62.7L498.8 65.6L498.9 94.5L499.1 102L499.2 106.8L499.2 107L499.4 110L499.6 110.9L499.6 111L499.6 111.1L499.6 111.3L499.7 111.6L499.8 112.4L499.8 112.5L499.9 113.8L500 114.4L500.1 115.2L500.2 115.7L500.2 115.9L500.6 116.2L500.6 116.2L500.7 115.8L500.7 115.7L501.1 112.6L501.1 112.5L501.1 112.2L501.4 107.9L501.5 104.8L501.5 104.2L501.6 101.5L501.6 100.7L501.7 97.2L501.7 95.1L501.8 92.5L501.9 73.9L501.9 66.4L502 47.8L502.1 67.6L502.1 72.8L502.2 88.9L502.2 95.1L502.4 104.7L502.5 107.7L502.5 108.2L502.7 110.9L502.9 112.4L503 112.8L503.1 112.8L503.3 112.1L503.4 111.8L503.4 111.5L503.5 111L503.6 110.9L503.6 110.9L503.6 110.9L503.7 111.2L503.9 112.3L503.9 112.7L504 113.3L504.1 113.8L504.1 113.9L504.4 113.5L504.5 113L504.6 111.6L504.8 109.3L505 101.9L505.1 98.1L505.2 73.9L505.3 56.5L505.4 73.1L505.4 83.5L505.6 96.5L505.6 100.3L505.6 103L505.7 106.1L505.8 108.1L506.1 112.6L506.2 114.3L506.3 115.2L506.3 115.4L506.4 116.2L506.6 116.8L506.7 117.1L506.8 117.2L506.9 117L507.2 115.9L507.2 115.7L507.3 115.1L507.5 113.2L507.6 112.3L507.6 111.8L507.6 111.5L507.7 111L507.7 110.9L507.7 110.7L507.8 110.2L508 109.8L508.1 109.1L508.2 107L508.3 105.4L508.4 101.8L508.5 83.2L508.6 69.8L508.6 71.5L508.7 83.5L508.8 96L508.9 102.4L508.9 105.3L509.1 110.4L509.1 110.7L509.2 111.1L509.4 111.7L509.5 111.6L509.6 111.6L509.6 111.6L509.7 111.9L509.7 112.2L509.8 112.6L509.9 114.2L510 115L510.2 116.6L510.2 116.7L510.2 116.8L510.6 118.4L510.6 118.5L510.7 118.6L511.1 117.7L511.1 117.7L511.3 116.1L511.5 115.2L511.5 115.2L511.6 115.1L511.7 115.3L511.7 115.4L511.8 116.5L512.1 118.4L512.5 120.1L513 120.9L513.6 121.3"/></defs>
<use href="#p0" stroke="#f9cf9f" stroke-width="2.8" stroke-opacity="0.55"/>
<use href="#p0" stroke="#7587a6" stroke-width="1.4" stroke-opacity="1" transform="translate(0 0.7)"/>
<path d="M74.8 115.3h0M83.5 116.5h0M92.4 114.1h0M100.7 118.5h0M101.1 115h0M109.4 118.9h0M109.7 104.6h0M118.3 104.8h0M118.6 117.9h0M126.8 113h0M127.1 114.4h0M135 119h0M135.4 97.3h0M135.7 116.4h0M143.7 114.3h0M144 102.8h0M144.3 119h0M152 115.1h0M152.4 91.8h0M152.7 118.3h0M160.2 117.9h0M160.5 85.6h0M160.9 115h0M168.5 116.6h0M168.8 66h0M169.2 116.3h0M176.6 117h0M177 73.5h0M177.3 114.4h0M184.7 117.5h0M185 83.3h0M185.4 114.4h0M192.8 117.6h0M193.1 82.8h0M193.4 114.7h0M200.7 118h0M201 92.6h0M201.4 113.8h0M208.7 115.4h0M209.1 94h0M209.4 118.4h0M216.7 111.7h0M217 112.6h0M224.4 116.9h0M224.7 111.4h0M232.3 108.2h0M247.5 108.7h0M254.7 117.4h0M255 108.2h0M262.1 115.7h0M262.4 100.2h0M262.7 118.7h0M269.2 117.9h0M269.6 96.4h0M269.9 112.6h0M276.6 116.3h0M276.9 66h0M277.3 115.6h0M283.6 118h0M284 106.7h0M284.3 101.9h0M284.6 117.6h0M290.9 115.2h0M291.3 55h0M291.6 114h0M298 114.7h0M298.3 50.7h0M298.7 114.4h0M305 115.1h0M305.3 54.3h0M305.7 114.2h0M311.7 118.2h0M312.1 109.6h0M312.4 97h0M312.7 117.3h0M318.9 112.8h0M319.2 83.4h0M319.5 116.7h0M325.7 113.3h0M326 86.9h0M326.3 117h0M332.4 114.4h0M332.7 87.2h0M333 117.3h0M339 115h0M339.3 91.5h0M339.7 117.7h0M345.7 106.6h0M346.1 113.7h0M352 118.2h0M352.3 91.7h0M352.7 117.1h0M358.7 100.7h0M359.1 117.5h0M365 114.4h0M365.3 114.2h0M371 117.4h0M371.4 111.4h0M371.7 116.5h0M372 118.4h0M372.3 118h0M377.3 118.4h0M377.6 111.9h0M378 118.5h0M383.2 117.9h0M383.6 118h0M383.9 111.8h0M389.2 118.3h0M389.5 118.4h0M389.8 116.7h0M390.2 118.1h0M390.5 117.4h0M395.3 118.2h0M395.6 118.3h0M395.9 115h0M396.6 117.1h0M396.9 118.6h0M417.9 116.1h0M418.2 115.7h0M418.5 116.1h0M418.9 118.3h0M419.2 116.9h0M419.5 117.1h0M422.1 117.3h0M422.4 115.9h0M422.7 118.5h0M423.1 118.1h0M423.4 115.4h0M423.7 117.9h0M430.2 116.5h0M430.6 116.7h0M431.5 117.1h0M434.1 118.6h0M434.4 115.8h0M434.8 111.8h0M435.1 118.6h0M435.4 118.6h0M435.7 117h0M438.2 118.5h0M438.5 115.3h0M438.8 109.8h0M439.2 117.3h0M439.5 118.5h0M439.8 117.1h0M440.2 118.1h0M442.1 118.7h0M442.4 116.6h0M442.8 111h0M443.1 109.4h0M443.4 117h0M443.8 116.4h0M444.1 113.6h0M446.2 117.9h0M446.5 116.5h0M446.8 102.7h0M447.2 114.1h0M447.5 117.7h0M447.8 117.6h0M448.2 115.3h0M450.2 117.5h0M450.6 115.2h0M450.9 92h0M451.2 111.7h0M451.6 117h0M451.9 117.7h0M452.2 115.8h0M454 117h0M454.4 116.9h0M454.7 111.5h0M455 105.6h0M455.4 115.9h0M455.7 117.7h0M456 115.8h0M457.8 114.2h0M458.2 115.6h0M458.5 109.9h0M458.8 103.3h0M459.2 114.8h0M459.5 117.8h0M459.8 117.3h0M461.9 114.8h0M462.3 112.9h0M462.6 75.7h0M462.9 106.5h0M463.2 114h0M463.6 117.3h0M463.9 116.1h0M465.6 112.7h0M466 111.4h0M466.3 90.7h0M466.6 107.1h0M467 110.1h0M467.3 115.4h0M467.6 116.5h0M469.3 115.5h0M469.6 109h0M469.9 105.5h0M470.3 71.9h0M470.6 109.6h0M470.9 110.1h0M471.2 115.6h0M473.1 117h0M473.4 114h0M473.7 105h0M474 65.1h0M474.4 111.3h0M474.7 114.8h0M475 115.1h0M476.6 115.9h0M476.9 115h0M477.2 107.6h0M477.5 63.6h0M477.9 110.3h0M478.2 115.7h0M478.5 115.7h0M480.4 113.8h0M480.7 109.6h0M481.1 48.7h0M481.4 104.1h0M481.7 114h0M482.1 117h0M482.4 115h0M484 113.6h0M484.3 110.3h0M484.6 63.2h0M485 103.9h0M485.3 112.7h0M485.6 117.1h0M486 116.6h0M487.4 116.9h0M487.7 112.3h0M488 105.4h0M488.3 52.9h0M488.7 108.9h0M489 110.7h0M489.3 114.9h0M491.1 115h0M491.4 108.3h0M491.7 56.9h0M492.1 105.5h0M492.4 113.6h0M492.7 113.3h0M493.1 114.3h0M494.6 114.1h0M495 107.8h0M495.3 40.3h0M495.6 105.5h0M496 114.4h0M496.3 116h0M496.6 111.8h0M497.9 112.7h0M498.3 109.2h0M498.6 86h0M498.9 102.6h0M499.2 111.1h0M499.6 115.6h0M499.9 115.8h0M501.1 116.3h0M501.5 112.6h0M501.8 99.7h0M502.1 87.7h0M502.4 111.4h0M502.8 112.1h0M503.1 112.2h0M504.5 113h0M504.8 113h0M505.2 98h0M505.5 100.4h0M505.8 113.8h0M506.1 117.1h0M506.5 115.5h0M507.7 116.8h0M508 112.1h0M508.3 108.9h0M508.6 78.1h0M509 111.3h0M509.3 112.6h0M509.6 117.6h0" stroke="#6c788a" stroke-width="2" stroke-linecap="round"/>
<path d="M65.5 121.2h0M67.3 122.6h0M68.7 123.2h0M70 123.1h0M71.7 121.6h0M72.9 121.8h0M74.1 122h0M75.3 121.1h0M76.4 123.1h0M77.7 122.1h0M79.2 123.1h0M80.5 123.1h0M81.9 122.2h0M83.3 118.2h0M84.7 121.2h0M85.7 122.8h0M86.8 122.2h0M88.4 122.3h0M89.7 122.2h0M91.1 122.5h0M92.2 115.9h0M93.4 121.3h0M95 122.2h0M96.4 122.8h0M98.2 122h0M99.7 121.8h0M101.1 112h0M102.4 122h0M103.8 123.1h0M105.4 123h0M107.1 121.6h0M108.6 122.5h0M110.3 119.4h0M111.4 121.8h0M112.4 121.5h0M113.5 122.5h0M115.1 123h0M116.2 122.5h0M117.7 119.1h0M119.5 122.4h0M120.6 123h0M121.9 122.1h0M123.7 122.8h0M124.9 121.8h0M126.3 119.5h0M127.4 118.6h0M129 120.9h0M130.5 121.9h0M131.5 121.7h0M133 122h0M134 122.5h0M135.7 109h0M136.7 120.8h0M137.8 122.5h0M139 121.2h0M140.3 122.9h0M142 121.2h0M143.1 120.7h0M144.6 119.5h0M145.6 120.7h0M147.2 121.8h0M148.2 122.9h0M149.7 122.5h0M150.8 122.1h0M151.9 116.1h0M153.2 119.8h0M154.7 122.8h0M155.9 121.1h0M157.3 121.3h0M158.4 121h0M159.4 120h0M160.7 83.3h0M162.3 121h0M163.7 121.2h0M165 120.8h0M166.2 120.8h0M167.8 120.4h0M168.9 76.8h0M170.7 120.6h0M172.3 121.7h0M173.7 122.6h0M175 121.6h0M176.6 115.1h0M177.8 119.8h0M179.4 122h0M180.7 121.5h0M181.8 121h0M182.8 122.2h0M184 119.5h0M185.1 66.1h0M186.8 121.7h0M188 121.2h0M189.3 121.8h0M190.4 121.7h0M191.6 122.2h0M193.4 104.8h0M194.6 122.1h0M195.8 121.4h0M196.8 121.6h0M198.2 121.8h0M199.4 121.4h0M200.4 118.3h0M201.4 111.2h0M202.5 119.9h0M203.7 121.2h0M205.2 121.9h0M206.8 122h0M208.4 119.6h0M209.7 118.4h0M211.5 121h0M213 122.1h0M214.1 122.5h0M215.8 121h0M217.4 119.1h0M218.5 121.5h0M219.9 122.6h0M221.5 122.6h0M223 122.4h0M224.5 98.7h0M225.7 120.2h0M226.8 121.5h0M227.9 122.6h0M229.4 122.1h0M230.9 122.1h0M232.3 107.8h0M233.9 122.3h0M235.3 121.9h0M236.8 120.9h0M238.4 121.3h0M239.5 121.4h0M241.1 121.2h0M242.6 122.9h0M244 121.6h0M245.4 122.2h0M247 120.3h0M248.6 120.5h0M249.7 121.2h0M251.3 121.3h0M252.7 120.6h0M253.8 120.6h0M255.3 118.1h0M256.8 121.1h0M258.3 121.6h0M259.6 120.8h0M261.3 119.7h0M263.1 120.7h0M264.1 121.2h0M265.8 122.6h0M267.2 121h0M268.3 121.6h0M269.5 98.4h0M270.6 119.6h0M272.4 120.6h0M274 121.5h0M275.7 120.7h0M276.9 67.3h0M278.3 119.5h0M279.3 121.3h0M280.7 121h0M281.8 120.9h0M283 120.4h0M284 77.8h0M285.7 119.8h0M287.5 121.8h0M289.2 120.6h0M290.5 117.8h0M292.3 119.2h0M293.6 121h0M294.8 120.3h0M295.9 121.9h0M297.1 120.8h0M298.3 58.6h0M299.7 119.4h0M301 122.2h0M302.7 121.8h0M304.2 120.4h0M306 116.3h0M307.5 120h0M309.1 121h0M310.7 120.8h0M312 106.9h0M313.7 119.5h0M315.1 120.8h0M316.3 121.6h0M318.1 118.7h0M319.6 114.5h0M321.1 120.6h0M322.2 120.3h0M323.4 121.9h0M324.8 119.1h0M326.5 117.6h0M327.8 120h0M329 120.2h0M330.3 120.1h0M331.5 119.4h0M332.9 110.9h0M334.5 120.7h0M335.9 121.2h0M337.2 120.6h0M338.2 119.4h0M340 117.7h0M341.4 121.3h0M343.1 120.5h0M344.3 120.2h0M345.6 109.5h0M347.4 121.5h0M349.1 120.2h0M350.1 121.6h0M351.8 118.2h0M353.3 118.8h0M354.6 121.7h0M356.3 121.7h0M358 119.1h0M359.1 115.1h0M360.5 120.9h0M362.3 121h0M363.8 121.1h0M365.2 97.7h0M366.2 120.3h0M367.4 121.4h0M368.9 119h0M370 119.6h0M371.5 103.4h0M372.6 117.6h0M374 120.6h0M375.3 119.7h0M376.8 117.7h0M378.1 118.4h0M379.8 120.7h0M381.5 119.7h0M382.7 118.1h0M384.5 119.7h0M385.7 119.2h0M387.1 119h0M388.5 118.9h0M390 114.5h0M391.2 117.4h0M392.5 118.9h0M394 119.4h0M395.6 119.4h0M397 116.9h0M398.8 118.4h0M400.5 118.7h0M401.7 118.1h0M402.9 119.4h0M404.3 119.5h0M405.5 118.4h0M407 120.4h0M408.1 119.2h0M409.3 118h0M410.4 118.5h0M411.4 115.7h0M413.2 118.7h0M414.8 120.6h0M416.5 119h0M417.6 116.2h0M419.2 117.6h0M420.8 119.6h0M422.1 117h0M423.2 118.1h0M424.4 117.3h0M426.2 113.6h0M428 117h0M429.3 120.5h0M430.9 118.7h0M432 118.9h0M433.2 120.7h0M434.4 115.1h0M436.1 117.4h0M437.5 120.2h0M439.1 112.3h0M440.1 117.8h0M441.8 118h0M443.4 116.6h0M444.7 113.7h0M446.5 115.2h0M447.7 117.9h0M448.9 115.3h0M449.9 118.3h0M451.7 115.5h0M453.4 116.3h0M454.6 110.9h0M456.4 119.1h0M457.7 115.6h0M459 108.2h0M460.8 116h0M462.4 100.3h0M464.1 118h0M465.6 111.7h0M466.8 107.5h0M468.4 116.1h0M469.6 108.2h0M470.8 108.7h0M471.8 115h0M473.1 114.4h0M474.8 114.6h0M476 115.7h0M477.1 106.9h0M478.6 115.9h0M479.8 114.2h0M481.3 88.7h0M482.9 118h0M484.5 92.5h0M486.1 116.7h0M487.6 109.7h0M489.2 110.4h0M490.4 115.7h0M491.5 96.6h0M493 114.2h0M494.3 115.3h0M495.7 98.8h0M497.3 114.5h0M499.1 104.4h0M500.5 117.6h0M502.2 84.7h0M503.2 112.6h0M504.3 113.7h0M506.1 113.6h0M507.8 110.4h0M509.5 112h0M510.7 119.7h0" stroke="#6d85aa" stroke-width="1.5" stroke-linecap="round"/>
<use href="#p0" stroke="#eb8d3e" stroke-width="1.3" stroke-opacity="1"/>
<path d="M185.2 56.6h0M185.2 59.3h0M209 69.3h0M209 71.4h0M276.9 58.8h0M298.5 42.8h0M305.6 48.8h0M339 68.8h0M454.9 82.5h0M454.9 86h0M458.7 74.5h0M466.5 60.2h0M470.2 50.3h0M473.9 48.6h0M477.5 41.3h0M481.1 29.3h0M481.1 34.2h0M495.3 33.1h0M498.6 35.2h0M498.6 43.5h0" stroke="#6b7a90" stroke-width="1.9" stroke-linecap="round"/>
</g>
<rect x="65" y="8.9" width="445.8" height="145" fill="none" stroke="#000" stroke-width="1.6"/>
<path d="M104.6 153.9v3.6M104.6 8.9v-3.6M154.2 153.9v7.4M154.2 8.9v-7.4M203.7 153.9v3.6M203.7 8.9v-3.6M253.2 153.9v7.4M253.2 8.9v-7.4M302.8 153.9v3.6M302.8 8.9v-3.6M352.3 153.9v7.4M352.3 8.9v-7.4M401.8 153.9v3.6M401.8 8.9v-3.6M451.4 153.9v7.4M451.4 8.9v-7.4M500.9 153.9v3.6M500.9 8.9v-3.6M65 139.9h-7.2M510.8 139.9h7.2M65 116.5h-3.8M510.8 116.5h3.8M65 93.1h-7.2M510.8 93.1h7.2M65 69.7h-3.8M510.8 69.7h3.8M65 46.3h-7.2M510.8 46.3h7.2M65 22.9h-3.8M510.8 22.9h3.8" stroke="#000" stroke-width="1.5" fill="none"/>
<text x="52.1" y="145.1" font-size="17" text-anchor="end">0.5</text>
<text x="52.1" y="98.3" font-size="17" text-anchor="end">1.0</text>
<text x="52.1" y="51.5" font-size="17" text-anchor="end">1.5</text>
<text transform="translate(16.8 82) rotate(-90)" font-size="20.2" text-anchor="middle">Absorbance</text>
<text x="70.5" y="29.9" font-size="17.5">(a)</text>
<text x="70.5" y="50.5" font-size="17.5">Comp B</text>
<g clip-path="url(#c1)" fill="none" stroke-linejoin="round">
<defs><path id="p1" d="M63 295.1L63.3 295.1L63.9 295L64.3 294.8L64.4 294.7L64.8 294L65.1 292L65.2 287.4L65.3 283.8L65.4 287L65.6 291.9L65.6 292L65.8 294L66.2 294.7L66.7 295L66.9 295L67.3 295.1L68.2 295.2L69.5 295.2L70.8 295.2L72.1 295.1L72.9 295.1L73.4 295L73.5 294.9L74 294.6L74.4 293.7L74.6 291.2L74.7 288.8L74.8 285.4L74.9 281.6L75 285.9L75.1 291.4L75.4 293.8L75.8 294.6L76 294.8L76.3 294.9L76.9 295.1L77.3 295.1L78.6 295.1L79.9 295.1L81.2 295.1L81.6 295L82.2 294.8L82.5 294.6L82.7 294.4L83.1 293.2L83.3 289.8L83.5 282.1L83.6 276.2L83.7 281.6L83.8 288.6L83.8 289.6L84.1 293.1L84.5 294.3L85 294.8L85.1 294.9L85.6 295L86.4 295.1L87.7 295.1L89 295.1L90.3 295L90.3 295L91 294.7L91.5 294.1L91.6 293.8L91.8 292.6L92.1 288.4L92.2 278.6L92.3 271.4L92.5 278.4L92.6 288.3L92.8 292.6L92.9 293L93.2 294.1L93.8 294.7L94.2 294.9L94.3 294.9L95.5 295L96.8 295.1L98.1 295L99 294.9L99.4 294.7L99.5 294.6L100 293.9L100.5 292L100.7 286.7L100.8 274.4L101 265.6L101 274.4L101.2 286.7L101.5 292L101.8 293.8L102 294.1L102.3 294.6L103 294.9L103.3 295L104.6 295L105.9 295L107.2 294.9L107.7 294.8L108.3 294.4L108.5 294.1L108.8 293.5L109.2 291.1L109.4 284.2L109.6 268.2L109.7 257.3L109.8 268.9L109.8 271.9L109.9 284.4L110.2 291.1L110.6 293.5L111.1 294.4L111.1 294.4L111.7 294.8L112.4 294.9L113.7 295L115 295L116.3 294.8L116.3 294.7L116.9 294.2L117.4 293.1L117.6 292.4L117.8 290.2L118.1 281.6L118.2 262L118.3 248.9L118.4 263.3L118.6 282.1L118.8 290.3L118.9 291L119.2 293.1L119.7 294.2L120.2 294.7L120.3 294.7L121.5 294.9L122.8 294.9L124.1 294.9L124.9 294.7L125.4 294.3L125.5 294.1L126 292.8L126.4 289.6L126.7 280.1L126.7 278.4L126.8 258.3L126.9 243.9L127 260.1L127.2 280.8L127.4 289.7L127.8 292.9L128 293.4L128.3 294.1L128.9 294.7L129.3 294.8L130.6 294.9L131.9 294.9L133.2 294.7L133.4 294.6L134.1 293.9L134.5 292.6L134.6 292.3L134.9 288.3L135.2 276.7L135.3 249.9L135.4 232.3L135.6 252.1L135.7 277.5L135.8 284L135.9 288.5L136.3 292.4L136.8 293.9L137.1 294.3L137.4 294.6L138.4 294.8L139.7 294.8L141 294.8L141.9 294.5L142.3 294.1L142.5 293.7L143 291.9L143.4 287.4L143.6 278.9L143.7 274.3L143.8 244L143.9 223.9L144 246.2L144.2 275.1L144.4 287.6L144.8 292L144.9 292.5L145.3 293.7L145.9 294.5L146.2 294.6L147.5 294.8L148.8 294.8L150.1 294.5L150.3 294.4L150.9 293.6L151.4 291.6L151.4 291.5L151.8 286.7L152 272.4L152.2 239.5L152.3 217L152.4 241.1L152.5 273L152.7 284.4L152.8 286.8L153.2 291.7L153.7 293.6L154 294.1L154.3 294.4L155.3 294.7L156.6 294.8L157.9 294.6L158.6 294.3L159.2 293.4L159.2 293.4L159.7 291.3L160.1 286L160.3 270.6L160.5 235.2L160.5 231.6L160.6 210L160.7 235.6L160.8 270.8L161.1 286L161.5 291.3L161.8 292.8L162 293.4L162.6 294.3L163.1 294.6L164.4 294.7L165.7 294.7L166.8 294.3L167 294.1L167.4 293.4L167.9 291.2L168.3 286.6L168.3 285.8L168.6 270.3L168.7 234.5L168.8 207.7L168.9 233L169.1 269.7L169.3 285.7L169.6 290.1L169.7 291.2L170.2 293.3L170.8 294.3L170.9 294.3L172.2 294.7L173.5 294.7L174.8 294.4L175 294.2L175.6 293.2L176.1 290.8L176.1 290.8L176.5 284.6L176.8 266.6L176.9 225.3L177 198.6L177.1 229.2L177.3 268.1L177.4 280.5L177.5 284.9L177.9 290.8L178.4 293.2L178.7 293.8L179 294.2L180 294.6L181.3 294.6L182.6 294.5L183.1 294.2L183.7 293.2L183.9 292.6L184.2 291L184.6 285.2L184.9 268.6L185 230.3L185.1 203.3L185.2 227.2L185.2 231L185.4 268.9L185.6 285.3L186 291L186.5 293.2L186.5 293.2L187.1 294.2L187.8 294.5L189.1 294.6L190.4 294.5L191.1 294.2L191.7 293.4L191.7 293.3L192.2 291.1L192.6 285.7L192.9 270.1L193 247.4L193 234.1L193.1 206.4L193.2 231.5L193.4 269.1L193.6 285.5L194 291.1L194.3 292.5L194.5 293.3L195.1 294.2L195.6 294.5L196.9 294.6L198.2 294.6L199.1 294.2L199.5 293.8L199.7 293.3L200.2 291.2L200.6 285.8L200.8 276.5L200.9 270.2L201 234.2L201.1 209.1L201.2 235.2L201.4 270.5L201.6 285.9L202 291.2L202.1 291.8L202.5 293.3L203.1 294.2L203.4 294.4L204.7 294.6L206 294.6L207 294.3L207.3 294L207.6 293.5L208.1 291.8L208.5 287.3L208.6 284.4L208.8 274.5L208.9 245.2L209 222.2L209.1 242.5L209.2 273.6L209.5 287.1L209.9 291.7L210.4 293.5L211 294.3L211.2 294.4L212.5 294.6L213.8 294.6L214.8 294.4L215.1 294.2L215.4 293.8L215.9 292.4L216.3 288.9L216.4 287.4L216.6 278.8L216.7 255.5L216.8 238.5L216.9 255.1L217.1 278.7L217.3 288.9L217.7 292.3L217.7 292.4L218.2 293.8L218.8 294.4L219 294.5L220.3 294.7L221.6 294.7L222.6 294.5L222.9 294.3L223.2 294.1L223.7 293L224.1 290.4L224.2 288.5L224.3 282.9L224.5 265.5L224.6 253.5L224.7 266.2L224.8 283.1L225.1 290.5L225.5 293.1L225.5 293.1L226 294.1L226.6 294.5L226.8 294.6L228.1 294.7L229.4 294.7L230.3 294.6L230.7 294.5L230.9 294.4L231.4 293.9L231.8 292.5L232 289.4L232 288.5L232.2 279.2L232.3 273.1L232.4 279.9L232.5 288.7L232.8 292.5L233.2 293.9L233.3 294.1L233.7 294.4L234.3 294.6L234.6 294.7L235.9 294.8L237.2 294.8L238.5 294.8L239.8 294.8L241.1 294.8L242.4 294.7L243.7 294.7L245 294.6L245.4 294.6L246 294.3L246.3 294.1L246.5 293.7L246.9 292.3L247.2 288.4L247.3 279.2L247.4 272.1L247.5 278.5L247.6 283.5L247.7 288.1L247.9 292.3L248.3 293.7L248.8 294.2L248.9 294.3L249.4 294.5L250.2 294.5L251.5 294.5L252.8 294.3L252.9 294.3L253.5 293.8L254 292.8L254.1 292.5L254.4 290.1L254.7 282.4L254.8 264.8L254.9 251.3L255 263.7L255.2 282L255.4 289.7L255.4 290L255.8 292.7L256.3 293.8L256.7 294.1L256.9 294.2L258 294.4L259.3 294.3L260.3 294L260.6 293.8L260.9 293.4L261.4 291.8L261.8 287.8L261.9 286.2L262.1 276.5L262.2 250.4L262.3 230.4L262.4 248.6L262.6 275.8L262.8 287.7L263.2 291.6L263.2 291.7L263.7 293.3L264.3 294L264.5 294L265.8 294.2L267.1 294.1L267.7 293.8L268.3 292.9L268.4 292.6L268.8 290.9L269.2 285.9L269.4 271.5L269.6 238.5L269.7 212.6L269.7 214.7L269.8 235.4L269.9 270.4L270.2 285.6L270.6 290.8L271 292.7L271.1 292.9L271.7 293.7L272.3 294L273.6 294L274.9 293.7L274.9 293.6L275.6 292.7L276.1 290.4L276.2 289.1L276.4 284.7L276.7 268L276.9 229.7L276.9 204.4L277.1 232.6L277.2 269.1L277.4 284.9L277.5 286.1L277.9 290.4L278.4 292.6L278.8 293.4L278.9 293.6L280.1 293.9L281.4 293.8L282.1 293.4L282.7 292.4L282.8 292.3L283.2 289.7L283.6 283L283.9 263.7L284 239.3L284.1 219.4L284.1 188.5L284.2 220.7L284.4 264.2L284.6 283.1L285.1 289.7L285.3 291.3L285.6 292.2L286.1 293.3L286.6 293.6L287.9 293.8L289.2 293.3L289.3 293.3L289.9 292.1L290.4 289.3L290.5 288.1L290.8 282.4L291 262.5L291.2 216.7L291.3 182.8L291.4 215.3L291.5 262L291.8 282.3L291.8 283L292.2 289.3L292.7 292L293.1 293L293.3 293.2L294.4 293.6L295.7 293.5L296.4 293.2L296.9 291.9L297 291.8L297.4 289.2L297.9 282L298.1 261.1L298.2 213L298.3 190.9L298.4 181.9L298.4 217.5L298.6 262.7L298.9 282.3L299.2 289.2L299.6 291.4L299.8 291.9L300.4 293.1L300.9 293.4L302.2 293.5L303.3 293.1L303.5 292.9L303.9 291.9L304.4 289.2L304.8 283.7L304.8 282.4L305.1 262.7L305.2 217.4L305.3 185.1L305.4 217.8L305.6 262.9L305.8 282.4L306.1 287.8L306.2 289.2L306.7 291.9L307.3 293L307.4 293.1L308.7 293.5L310 293.2L310.3 293.1L310.9 292L311.3 290L311.4 289.5L311.8 283.3L312 265.6L312.2 224.8L312.3 192.9L312.4 221.1L312.5 264.2L312.6 274.7L312.8 283L313.2 289.4L313.7 291.9L313.9 292.5L314.3 293L315.2 293.4L316.5 293.3L317.1 293L317.7 292L317.8 291.8L318.2 289.7L318.6 283.8L318.9 266.9L319 228L319.1 201.6L319.1 200L319.2 227.9L319.4 266.9L319.6 283.8L320 289.7L320.4 291.6L320.5 292L321.1 293L321.7 293.2L323 293.3L323.9 293L324.3 292.4L324.5 292L325 289.7L325.4 284L325.6 274L325.7 267.2L325.8 228.6L325.9 203L326 231.4L326.2 268.2L326.4 284.2L326.8 289.8L326.9 290.3L327.3 292L327.9 292.9L328.2 293.1L329.5 293.2L330.6 292.9L330.8 292.8L331.2 292.1L331.7 290.2L332.1 285.7L332.1 285.3L332.4 271.3L332.5 239.1L332.6 214.5L332.7 237L332.9 270.5L333.1 285L333.4 289.1L333.5 289.9L333.8 291.3L334 291.9L334.4 292.6L334.6 292.8L334.7 292.8L334.9 292.9L335.3 292.9L335.6 292.8L335.7 292.7L335.8 292.7L335.9 292.7L336 292.8L336.1 292.8L336.3 292.9L336.5 292.9L336.7 292.9L337 292.7L337.2 292.6L337.3 292.5L337.3 292.5L337.4 292.3L337.7 291.7L337.8 291.3L337.9 291.2L337.9 291L338 290.9L338 290.8L338.2 290.4L338.4 289.7L338.4 289.4L338.6 288.1L338.6 288L338.8 285.4L338.8 283.8L339 272.3L339.1 262.1L339.2 242.1L339.3 220.1L339.3 229.6L339.4 241.5L339.5 268.1L339.5 271.8L339.7 284L339.8 284.7L339.9 286.7L339.9 286.8L339.9 287.1L340 287.7L340 287.8L340.1 288.6L340.2 289.2L340.2 289.6L340.5 290.9L340.6 291.3L340.7 291.5L340.9 291.9L341.1 292.1L341.2 292.2L341.3 292.2L341.4 292.1L341.5 292L341.8 291.6L341.9 291.4L342 291.4L342 291.4L342 291.4L342.1 291.4L342.2 291.7L342.5 292.2L342.6 292.3L342.9 292.5L343.1 292.5L343.4 292.3L343.5 292.1L343.8 291.6L343.8 291.5L343.9 291.4L343.9 291.3L344 291.2L344 291.2L344 291.2L344.1 291.1L344.3 291.2L344.4 291.2L344.5 291.1L344.6 291L344.9 290.1L344.9 289.9L345.1 289.1L345.1 288.9L345.4 285.6L345.4 284.1L345.5 282.1L345.6 273.8L345.7 255L345.8 247.6L345.9 229.3L345.9 230.4L345.9 233.3L345.9 247.7L346 252.5L346 260.9L346.1 269.9L346.1 273.1L346.2 280.9L346.4 284.9L346.4 285.9L346.5 287L346.5 287.3L346.8 289.5L346.9 290.1L347 290.5L347.2 291L347.4 291L347.4 291L347.6 290.6L347.7 290.5L347.8 290.4L347.9 290.4L347.9 290.4L348 290.5L348 290.5L348 290.5L348.1 290.9L348.4 291.6L348.6 292L348.8 292.1L349 292.1L349.1 292.1L349.3 291.9L349.5 291.4L349.8 290.5L349.9 290.1L349.9 290.1L350 289.9L350 289.9L350.1 290L350.3 290.4L350.3 290.6L350.4 290.7L350.5 291.1L350.6 291.3L350.9 291.3L351 291.3L351.1 291L351.4 289.9L351.5 289.6L351.5 289.3L351.6 288.6L351.8 286.9L351.9 285.3L351.9 284.5L352 281.8L352 281.4L352.1 276.9L352.1 276.2L352.1 272.7L352.2 258L352.3 256L352.4 242.1L352.5 257.5L352.5 265.1L352.6 278L352.8 284.7L352.9 287.1L352.9 287.7L353.2 290.1L353.3 290.2L353.4 290.5L353.6 290.7L353.8 290.6L353.9 290.3L354 290.2L354.1 290.1L354.1 290.1L354.2 290.1L354.2 290.2L354.2 290.2L354.4 290.5L354.4 290.6L354.6 291.3L354.8 291.7L355.1 291.8L355.3 291.6L355.5 291.3L355.6 291.2L355.7 290.5L356 289.1L356.1 288.3L356.1 288.3L356.2 288.2L356.2 288.1L356.3 288.3L356.5 289L356.7 290.2L356.8 290.5L356.8 290.5L357.1 291L357.3 291L357.4 290.8L357.6 290.1L357.7 289.8L357.9 288.6L358 288.2L358.1 287L358.1 286.9L358.2 286.1L358.2 285.9L358.3 285.4L358.3 285.2L358.3 284.9L358.5 282.7L358.6 279.1L358.7 262.9L358.7 261.3L358.8 251.8L358.9 264.2L358.9 270.3L359.1 280.6L359.1 283.5L359.3 287.7L359.4 288.7L359.4 288.9L359.6 289.6L359.7 289.7L359.8 289.6L360.1 288.9L360.2 288.5L360.2 288.5L360.2 288.4L360.3 288.4L360.4 288.4L360.4 288.6L360.6 289.3L360.7 290L360.8 290.5L360.8 290.6L360.9 291L361.2 291.7L361.4 291.8L361.7 291.6L361.9 291.5L362 291.1L362.1 290.8L362.2 290.4L362.3 290.4L362.4 290.4L362.4 290.4L362.4 290.4L362.6 290.8L362.9 291.4L363 291.7L363.2 291.8L363.2 291.8L363.3 291.8L363.5 291.6L363.8 291L363.8 291L363.9 290.5L364.1 289.1L364.3 288.3L364.3 288.2L364.4 287.9L364.4 287.8L364.5 287.5L364.5 287.5L364.6 287.2L364.6 287L364.7 286.9L364.9 283L364.9 281.7L365.1 268L365.1 263.9L365.2 258.5L365.3 268.9L365.3 271.5L365.4 282.6L365.6 287.6L365.7 288.4L365.8 289.2L365.9 289.6L366 289.6L366.1 289.6L366.2 289.3L366.4 289L366.4 289L366.5 289L366.5 289L366.6 289.1L366.6 289.2L366.8 289.8L367 290.9L367.1 291.2L367.2 291.3L367.2 291.3L367.4 291.5L367.6 291.5L367.9 291L368 290.6L368.3 289.3L368.4 288.6L368.5 288.5L368.5 288.5L368.6 288.6L368.7 288.8L368.8 289.3L369 290.5L369.3 291.3L369.4 291.5L369.5 291.5L369.8 291.4L369.8 291.4L369.9 291.1L370.1 290.7L370.2 290.3L370.4 289L370.5 288.4L370.6 288.1L370.7 287.7L370.7 287.6L370.8 287.4L370.9 287L371 286.8L371.1 285.3L371.2 283.6L371.2 281.6L371.3 277.9L371.4 268.1L371.5 258.5L371.6 268.7L371.7 282.3L371.8 284.7L372 287.9L372.1 288.5L372.2 288.7L372.4 288.5L372.4 288.4L372.4 288.3L372.6 287.9L372.7 287.9L372.7 287.9L372.8 288.2L372.9 288.6L372.9 288.6L372.9 289L373.2 290.4L373.5 291.4L373.5 291.4L373.6 291.6L373.7 291.7L374 291.8L374.1 291.7L374.4 291.2L374.6 290.3L374.7 290.1L374.8 289.8L374.9 289.7L375 289.8L375 289.9L375.1 290.1L375.1 290.3L375.4 291.1L375.6 291.6L375.7 291.7L375.8 291.7L376.1 291.4L376.3 291.1L376.3 291L376.6 290L376.8 288.3L376.9 287.8L376.9 287.2L377.1 286.8L377.1 286.7L377.1 286.5L377.2 286.5L377.3 286.2L377.4 284.5L377.6 280.6L377.6 277.3L377.7 273.1L377.7 272L377.8 277.9L377.9 285.9L378.2 289.1L378.2 289.3L378.4 289.7L378.6 289.5L378.6 289.4L378.8 288.5L378.9 288.1L379 287.9L379.1 287.8L379.1 287.8L379.1 287.9L379.2 288.1L379.3 288.9L379.6 290.3L379.7 290.7L379.7 290.9L380 291.5L380.2 291.6L380.2 291.6L380.5 291.4L380.6 291.2L380.8 290.5L381 290.1L381.1 290L381.2 290.1L381.2 290.2L381.3 290.5L381.5 291.1L381.6 291.3L381.8 291.7L381.9 291.8L382 291.8L382.3 291.6L382.5 291.3L382.7 290.6L382.8 290L382.9 289.2L383 289.1L383.1 288.5L383.1 288.4L383.2 288L383.2 287.9L383.3 287.9L383.4 287.8L383.4 287.7L383.6 286.2L383.7 284L383.8 280.5L383.9 276.1L383.9 276L384 280.6L384.1 286.7L384.1 286.9L384.1 287.2L384.4 289.9L384.4 289.9L384.6 290.2L384.8 290L384.8 289.9L385 289L385.1 288.4L385.2 288.3L385.2 288.3L385.3 288.3L385.4 288.5L385.4 288.7L385.4 288.8L385.5 289.2L385.8 290.5L385.9 290.9L386 291.2L386.1 291.4L386.5 291.3L386.6 291L386.7 290.9L386.9 290.1L387.2 288.5L387.2 288L387.3 287.7L387.4 287.5L387.5 287.7L387.7 288.5L387.9 289.9L387.9 290.1L388 290.2L388.3 290.8L388.4 290.8L388.6 290.7L388.8 289.9L389.1 288.5L389.1 288.4L389.2 287.5L389.3 287.2L389.3 287.1L389.4 287L389.4 287L389.4 287L389.6 287L389.7 286.3L389.8 283.4L389.9 282.1L389.9 278.6L390 278.6L390.1 282.2L390.2 287.7L390.2 288.1L390.4 290L390.5 290.1L390.6 290.3L390.7 290.3L390.9 290L390.9 290L391.1 289L391.3 288.4L391.3 288.3L391.4 288.3L391.4 288.3L391.5 288.5L391.5 288.7L391.6 289.2L391.9 290.5L391.9 290.6L391.9 290.8L392.1 291.2L392.3 291.4L392.6 291.5L392.8 291.3L393 290.6L393.2 289.7L393.3 289.4L393.4 288.9L393.4 288.7L393.5 288.5L393.6 288.5L393.6 288.6L393.8 289.2L394 290.3L394 290.4L394.2 290.8L394.4 291.1L394.5 291.1L394.6 291L394.7 290.9L394.9 290.2L395.1 289.4L395.1 289.3L395.3 287.5L395.5 286.4L395.5 286.2L395.5 286.1L395.6 285.9L395.6 285.8L395.7 285.7L395.7 285.6L395.8 285.3L395.8 285.2L395.9 284.2L396 283.2L396.1 285L396.1 285.6L396.2 288.1L396.2 288.7L396.5 290.2L396.5 290.2L396.7 290.5L396.9 290.4L397 290.2L397.1 289.8L397.1 289.7L397.3 288.5L397.4 288.3L397.5 287.8L397.6 287.6L397.6 287.6L397.6 287.6L397.7 287.8L397.8 288.5L398 289.3L398.1 289.9L398.2 290.4L398.4 290.7L398.5 290.7L398.7 290.6L399 289.9L399.1 289.2L399.4 287.3L399.5 286.3L399.6 286.1L399.6 286L399.7 286.1L399.7 286.3L399.9 287.3L399.9 287.6L400.1 289.1L400.3 289.9L400.5 290.3L400.5 290.4L400.8 290.3L401 290L401 289.9L401 289.9L401.2 288.9L401.4 287.6L401.5 287.1L401.6 286L401.7 285.8L401.7 285.6L401.8 285.6L401.8 285.7L401.8 285.7L401.9 286.1L402 286.6L402 287L402.2 288.4L402.2 288.8L402.3 289.2L402.4 289.5L402.4 289.8L402.6 290.3L402.8 290.5L402.9 290.5L403.1 290.2L403.3 289.9L403.3 289.7L403.5 289L403.6 288.6L403.7 288.4L403.7 288.2L403.8 288.2L403.9 288.4L403.9 288.4L403.9 288.6L404 288.9L404.3 289.8L404.5 290.3L404.7 290.4L404.9 290.2L405 290.1L405.2 289.6L405.4 288.6L405.6 286.8L405.8 285.8L405.8 285.8L405.9 285.5L406 285.7L406 285.9L406.1 286.6L406.2 287.2L406.4 288.3L406.6 289.2L406.8 289.4L407.1 289.3L407.3 288.8L407.5 287.5L407.8 285.3L407.9 284.3L407.9 284.1L407.9 284L408 283.8L408.1 284.1L408.2 285.2L408.5 287.3L408.5 287.5L408.8 288.6L408.9 288.8L409 288.9L409.4 288.2L409.4 288.1L409.7 286.7L409.8 285.9L409.9 285.8L409.9 285.7L410 285.8L410 285.9L410.1 286.1L410.2 286.6L410.4 287.9L410.5 288L410.8 288.5L411 288.3L411.3 286.7L411.4 286.5L411.4 286.1L411.6 284L411.8 282.7L411.8 282.6L411.9 282.4L411.9 282.6L412 282.7L412.1 284L412.4 286.4L412.4 286.6L412.7 288L412.8 288.1L412.9 288.3L413.3 287.7L413.3 287.6L413.5 286.3L413.7 285.6L413.8 285.5L413.9 285.6L413.9 285.7L413.9 285.8L414 286.2L414 286.4L414.3 287.7L414.5 288.3L414.7 288.5L415 288.2L415.2 287.6L415.3 287.1L415.4 286.4L415.7 284.2L415.8 283.1L415.8 282.9L415.8 282.8L415.9 282.6L416 282.8L416.2 283.9L416.4 285.9L416.4 286L416.6 286.7L416.8 287.1L416.9 287L417.2 286.2L417.3 285.5L417.3 285.4L417.6 283L417.7 281.9L417.7 281.7L417.8 281.4L417.9 281.5L417.9 281.6L417.9 281.7L417.9 281.7L418.1 282.9L418.1 283.1L418.3 285L418.4 285.1L418.5 285.3L418.5 285.3L418.6 285.3L418.7 286L418.7 286.2L418.9 286.8L419 286.9L419.1 286.9L419.2 286.6L419.2 286.6L419.4 285.6L419.5 285.2L419.7 283.6L419.8 282.5L419.8 282.4L419.9 282.3L419.9 282.1L420 282.2L420 282.3L420.2 283.4L420.4 285.3L420.5 285.4L420.5 285.6L420.6 286.1L420.8 286.5L421 286.4L421.1 286.1L421.3 284.8L421.4 284.7L421.6 282.4L421.6 282.3L421.8 280.9L421.8 280.7L421.9 280.6L421.9 280.6L421.9 280.8L422 280.9L422 281.2L422.1 282.1L422.2 283.5L422.4 284.2L422.4 284.4L422.5 284.8L422.5 284.8L422.6 285.4L422.8 286L422.8 286.1L423 286.2L423 286.2L423.1 286L423.3 285.4L423.4 284.6L423.4 284.6L423.6 282.4L423.8 281.2L423.9 281L423.9 281L423.9 281L424 281.3L424.1 281.9L424.1 282.5L424.4 284.7L424.4 284.8L424.5 285.4L424.7 286.1L424.8 286.3L425.2 286.2L425.3 285.8L425.6 284.1L425.7 283L425.8 281.5L425.9 280.8L426 280L426.1 279.7L426.2 280L426.2 280.6L426.3 281.5L426.6 284.2L426.9 286L427 286.5L427 286.5L427.4 286.9L427.5 286.7L427.8 285.9L428 284.4L428.1 283.9L428.1 283.6L428.2 283.4L428.3 283.5L428.4 283.7L428.5 284.5L428.8 286L428.9 286.4L429.1 286.9L429.4 286.7L429.6 285.9L429.6 285.7L429.8 285L430 282.8L430.1 281.6L430.2 281.3L430.4 281.5L430.5 282.7L430.8 284.7L430.9 285.5L431.1 285.9L431.2 285.8L431.6 283.7L431.9 280.8L432.1 279.2L432.1 278.9L432.1 278.9L432.2 279L432.2 279.3L432.4 280.9L432.6 283.9L432.7 284.4L432.7 284.6L433.1 286.2L433.2 286.5L433.3 286.4L433.5 286.1L433.6 285.9L433.6 285.5L433.8 284.4L433.9 283.8L434 282.8L434.1 282.5L434.1 282.5L434.1 282.4L434.2 282.5L434.2 282.5L434.4 283L434.4 283.1L434.6 281.9L434.6 281.4L434.7 280.8L434.7 281L434.8 282.8L434.9 285.4L435 286L435.2 286.6L435.2 286.6L435.5 286.3L435.6 286.1L435.6 286L435.9 284.5L436 283.7L436.1 283.5L436.1 283.5L436.1 283.5L436.2 283.7L436.3 284.1L436.4 284.7L436.6 286.4L436.7 286.8L436.9 287.4L436.9 287.4L437 287.6L437.4 287.4L437.4 287.3L437.5 287.1L437.5 287L437.8 285.5L438 283.5L438 283.2L438.1 282.3L438.2 281.8L438.3 281.4L438.3 281.4L438.4 281.5L438.4 281.5L438.5 282.1L438.6 282.3L438.7 282.1L438.8 281L438.8 280.5L438.9 279L438.9 279.6L439 281.5L439.1 284.9L439.2 285.2L439.4 286.4L439.4 286.5L439.7 286.3L439.8 285.9L439.8 285.7L440 284.7L440.1 284L440.2 283.1L440.2 283.1L440.3 283L440.3 282.9L440.3 282.9L440.4 283.2L440.6 284.3L440.8 286.2L440.9 286.3L440.9 286.5L441 286.9L441.2 287.4L441.3 287.4L441.4 287.4L441.6 286.8L441.7 286.1L441.8 286.1L442 284.1L442.1 283.3L442.1 283L442.2 282.6L442.3 282.5L442.4 282.6L442.4 282.7L442.5 283L442.6 283.1L442.8 282.3L442.9 277.8L443 274.4L443 274.5L443.1 278.3L443.1 280.6L443.2 283.5L443.5 285.6L443.5 285.6L443.6 285.7L443.9 284.7L443.9 284.7L444.2 282.5L444.2 281.7L444.3 281.3L444.4 281L444.4 281L444.5 281.4L444.6 281.9L444.7 282.9L444.9 285.4L444.9 285.5L445 286.2L445.2 287.1L445.2 287.2L445.3 287.5L445.5 287.7L445.7 287.5L445.8 287.2L446 286.4L446.1 285.9L446.3 283.7L446.4 282.9L446.4 282.8L446.5 282.2L446.5 281.9L446.5 281.6L446.6 281.2L446.6 280.1L446.7 279.8L446.8 275.7L446.8 274.8L446.9 272.7L447 277.1L447.1 280.6L447.1 282.6L447.1 283.2L447.4 286.3L447.5 286.6L447.6 287.2L447.8 287.4L448 287.2L448 287.1L448.3 286.1L448.3 286L448.4 285.5L448.5 285.4L448.6 285.5L448.6 285.5L448.6 285.6L448.8 286.4L448.9 287L449 287.6L449.1 287.9L449.2 288.1L449.4 288.3L449.5 288.3L449.7 288L449.9 287L450 286.6L450.1 286L450.3 283.5L450.4 282.8L450.5 281.8L450.5 281.3L450.6 280.6L450.6 280.1L450.6 279.8L450.7 279L450.8 275.4L450.8 273.7L450.9 272.5L451 276.9L451.1 281.2L451.1 283L451.2 284.5L451.4 286.1L451.5 286.6L451.7 287.1L451.7 287.1L451.8 287.1L452 286.8L452.1 286.2L452.3 285.1L452.4 284.5L452.5 283.5L452.6 283.3L452.6 283.3L452.7 283.4L452.7 283.5L452.9 284.7L452.9 284.8L453 285.7L453.1 286.6L453.3 287.4L453.5 287.8L453.5 287.9L453.8 287.6L454 286.9L454 286.7L454.2 285.6L454.3 284.6L454.4 283.4L454.4 282.7L454.6 280.2L454.6 279.5L454.6 279L454.7 277.6L454.8 273L454.8 270.7L454.9 269.1L454.9 270.9L455 274.3L455.1 281.7L455.2 283L455.4 285.8L455.4 286.1L455.6 287.1L455.8 287.7L455.9 287.9L456.1 287.9L456.3 287.5L456.3 287.3L456.6 286L456.7 285.3L456.7 285.1L456.8 284.9L456.9 284.9L456.9 285.1L457 285.4L457.1 285.8L457.3 286.9L457.3 287L457.6 287.5L457.7 287.4L457.8 287.2L458.1 285.8L458.2 285.1L458.2 284.6L458.4 280.1L458.5 276.6L458.6 270.3L458.7 263.2L458.8 266.2L458.8 268.5L458.8 271.3L458.9 275.2L458.9 275.8L458.9 276.1L459 277.8L459.1 279.5L459.2 280.7L459.3 281.8L459.5 284.7L459.5 284.9L459.5 285.1L459.6 285.6L459.9 287.3L460 287.6L460.1 287.6L460.4 287L460.4 286.9L460.6 286L460.7 285.3L460.7 285.2L460.8 284.6L460.8 284.4L460.9 284.1L461 284.1L461 284.2L461 284.3L461.2 285L461.2 285.1L461.4 286.3L461.6 286.6L461.7 286.6L461.8 286.3L462.1 284.8L462.3 280L462.4 279.7L462.5 269.1L462.6 261.4L462.7 267.6L462.8 271.6L462.9 276.3L462.9 277.5L462.9 278.3L463 279.2L463.1 280.1L463.1 280.5L463.2 282.5L463.4 284.4L463.5 285.4L463.7 286.6L463.9 287.7L464 287.9L464.2 288L464.4 287.6L464.6 286.8L464.6 286.6L464.7 285.9L464.8 284.8L465 283.7L465 283.5L465.1 283.3L465.1 283.2L465.2 283.2L465.3 283.8L465.5 284.4L465.6 284.5L465.6 284.5L465.9 283.2L466 282.4L466 281.9L466.1 277.4L466.3 264.7L466.4 255.4L466.5 260.1L466.5 263.6L466.6 268.7L466.6 274.6L466.8 277.2L466.9 277.5L466.9 277.6L467 277.9L467.1 278L467.1 278.2L467.1 278.9L467.3 281L467.6 284.3L467.6 285L467.8 286.2L467.9 286.8L468.1 286.9L468.2 286.8L468.4 286.1L468.4 285.8L468.5 285.2L468.6 284.6L468.8 282.5L468.8 282.2L468.9 280.7L469 280.1L469.1 280L469.1 280L469.2 280.2L469.3 280.7L469.3 280.8L469.5 281.5L469.7 280.9L469.8 279.9L469.9 276.8L469.9 275.5L469.9 274.4L470.1 258.6L470.2 247.2L470.3 255.3L470.3 258.5L470.4 272.8L470.4 274L470.7 279.7L470.7 279.9L470.9 280L471 279.7L471.1 279.7L471.1 279.7L471.2 279.9L471.2 280L471.2 280L471.3 280.6L471.4 282.3L471.6 284.3L471.7 285.1L471.8 286L472 286.8L472.1 286.9L472.2 286.9L472.3 286.6L472.5 285.7L472.6 285.1L472.6 284.9L472.7 283.8L473 280.1L473.1 277.9L473.1 277.8L473.2 277L473.2 276.8L473.2 276.6L473.3 276.4L473.5 276.5L473.5 276.5L473.7 273.5L473.8 271.7L473.8 268.4L473.9 263.4L473.9 256.3L474 245.1L474.1 257L474.1 258.6L474.2 273.5L474.4 277.7L474.5 280.4L474.6 281.2L474.8 281.3L474.9 280.6L475 279.9L475.1 279.3L475.1 279.1L475.2 279L475.2 279L475.2 279.1L475.4 279.7L475.4 280.2L475.5 281.5L475.8 284.4L475.8 284.5L476 285.8L476.1 285.9L476.1 285.9L476.3 285.7L476.4 285.1L476.6 283.5L476.6 283L476.7 282.9L476.9 279.1L477 277.2L477.1 275.9L477.2 273L477.2 269L477.3 268.4L477.4 252.7L477.4 251.1L477.5 241.2L477.6 254.5L477.7 264L477.7 268.6L477.8 272.8L477.9 277.9L478 281.7L478.1 282.6L478.4 285.3L478.4 285.5L478.6 286.1L478.8 286.3L478.9 285.9L479 285.6L479.1 285.2L479.1 285L479.2 285L479.2 284.9L479.4 285L479.4 285.3L479.5 285.7L479.7 286.4L479.8 286.5L480 286.4L480.1 285.9L480.2 285.6L480.3 285L480.5 282.9L480.6 281.5L480.6 280.5L480.9 272L480.9 266.2L481 251.7L481.1 237.2L481.2 243.1L481.2 250.5L481.2 259L481.3 266.1L481.4 269.4L481.4 272.8L481.5 275.9L481.5 276.5L481.6 278.8L481.7 280L481.9 283.8L482 284.8L482.1 285.6L482.3 286.9L482.5 287.5L482.6 287.7L482.7 287.6L482.8 287.5L482.9 287.1L483 286.7L483.1 285.9L483.2 284.7L483.3 284.2L483.4 283.4L483.4 283.3L483.5 282.8L483.6 282.6L483.7 282.6L483.7 282.6L483.8 282.6L484 282.3L484.2 280.4L484.3 279.1L484.4 275L484.4 271.4L484.6 250.7L484.7 235.8L484.8 244.2L484.8 250.3L484.9 264.9L484.9 270.5L485.2 278L485.2 278.4L485.4 279.1L485.5 279L485.5 279L485.6 279L485.6 279L485.7 279.3L485.8 280.2L485.8 280.6L485.9 282.1L486.1 284.4L486.2 285.1L486.3 286.1L486.4 286.7L486.6 287.1L486.7 287.1L486.8 287L486.9 286.6L486.9 286.6L487.1 285.7L487.3 283.3L487.4 282.1L487.6 279.4L487.7 277.4L487.7 276.7L487.8 275L487.8 274.9L487.9 272.8L488.1 267.2L488.1 266.5L488.1 263.1L488.2 248.2L488.3 234.5L488.3 234.8L488.4 249.6L488.5 266.9L488.6 270.6L488.7 278.2L488.8 280.2L489 282.7L489.2 283.6L489.2 283.6L489.4 283.5L489.4 283.4L489.7 281.9L489.7 281.6L489.8 280.9L489.8 280.9L489.9 280.7L489.9 280.7L490 281.1L490.2 282.4L490.3 283.7L490.4 284.5L490.4 284.5L490.5 284.9L490.7 285.2L490.8 284.9L490.9 284.6L491 283.9L491.3 280.2L491.3 280L491.4 277.7L491.6 270.1L491.6 258.7L491.7 249.8L491.8 235.4L491.9 249L491.9 250.9L492 264.3L492.1 268.9L492.1 274.7L492.3 279.5L492.4 281.5L492.6 284.7L492.7 285.1L492.8 285.9L493.1 287.3L493.2 287.4L493.3 287.4L493.6 286.7L493.8 284.9L493.9 284L493.9 283.7L494.1 283.1L494.1 282.9L494.2 283L494.3 283.1L494.4 283.2L494.6 283L494.6 282.8L494.8 280.9L494.8 280.4L494.9 277.3L495.1 272L495.2 251.8L495.3 237.2L495.3 239L495.4 251.5L495.4 260.5L495.6 271.4L495.7 278.4L495.8 279.4L495.9 280.1L496 280.4L496.1 280.5L496.1 280.7L496.2 280.8L496.2 281L496.2 281.2L496.3 281.9L496.5 283.6L496.7 285.7L496.7 285.9L496.8 286.2L497.1 287.3L497.2 287.3L497.3 287.1L497.3 287L497.6 285.1L497.7 284.9L497.8 283.3L497.9 281.9L498.1 279.8L498.2 278.4L498.2 277.8L498.2 277.4L498.3 276.9L498.3 276.3L498.4 272.6L498.4 270.4L498.5 266.4L498.6 252.1L498.7 241.7L498.7 238.9L498.8 252.9L498.9 266.8L498.9 272.3L499.1 277.7L499.2 280.9L499.4 282.8L499.6 283.3L499.6 283.3L499.8 282.7L499.8 282.7L500 280.9L500 280.4L500.1 279.8L500.2 279.2L500.2 279L500.3 278.7L500.3 278.7L500.4 279.1L500.5 280.6L500.6 281.3L500.7 282.4L500.8 283.2L500.9 283.8L501.1 284L501.2 283.7L501.4 282.1L501.5 281L501.7 275.9L501.8 272.6L501.8 266.7L501.9 255.4L502 242.9L502.1 248.8L502.1 253.3L502.2 266.3L502.2 268.1L502.3 270.1L502.3 271.2L502.4 273.7L502.4 274.3L502.5 276.3L502.6 277.8L502.8 282.2L502.9 283.1L502.9 283.2L503.2 285.5L503.3 285.7L503.4 285.8L503.4 285.8L503.7 284.7L503.7 284.5L503.8 283.9L503.9 282.6L504 281.1L504 280.5L504.2 278.5L504.3 277.7L504.3 277.6L504.4 277.6L504.4 277.7L504.5 278.5L504.8 279.3L504.8 279.3L505 276.1L505.1 273.9L505.2 260L505.2 258.5L505.3 247.3L505.4 258.8L505.5 271.3L505.6 274.8L505.7 279.9L505.8 281.6L505.9 282.3L506.1 282.5L506.2 282.5L506.3 282.4L506.3 282.4L506.3 282.4L506.4 282.6L506.5 283.1L506.6 283.9L506.6 284.4L506.7 284.8L506.9 286.2L506.9 286.3L507.2 287L507.3 286.9L507.4 286.6L507.6 285.6L507.7 284.7L507.8 283.6L507.8 283.3L508.1 279.2L508.1 278.5L508.2 275.8L508.2 275.6L508.3 273L508.4 271.9L508.4 269.6L508.4 268.3L508.5 261.5L508.6 255.1L508.6 254.4L508.7 263.7L508.8 274.8L508.8 275.4L508.9 276.5L508.9 278.6L509.1 282.9L509.2 284L509.3 284.6L509.5 284.9L509.7 284.3L509.7 284.2L510 282L510 281.8L510.1 280.7L510.2 280.5L510.2 280.5L510.2 280.5L510.3 280.9L510.3 281L510.5 282.8L510.6 284.4L510.7 285.9L510.8 286.7L511.1 288.4L511.3 288.7L511.5 288.6L511.6 288.2L511.7 287.8L512 286.3L512.1 285.4L512.2 285.2L512.2 285.2L512.3 285.5L512.5 286.7L512.7 288.7L513.1 290.4L513.6 291.3"/></defs>
<use href="#p1" stroke="#f9cf9f" stroke-width="2.8" stroke-opacity="0.55"/>
<use href="#p1" stroke="#7587a6" stroke-width="1.4" stroke-opacity="1" transform="translate(0 0.7)"/>
<path d="M65.4 290.2h0M74.7 291.1h0M75.1 292.3h0M83.6 280.6h0M92.3 273.6h0M100.7 290.3h0M101.1 282.4h0M109.3 292.3h0M109.6 266.6h0M110 290.6h0M118.1 289.7h0M118.4 259.5h0M118.7 291.7h0M126.5 291.5h0M126.9 261.3h0M127.2 288.5h0M135.1 289.5h0M135.4 232.6h0M135.8 289.1h0M143.4 291.9h0M143.7 281.5h0M144 270.4h0M144.4 291.1h0M152 287.5h0M152.3 218.1h0M152.6 288.2h0M160.1 291.3h0M160.4 279.2h0M160.7 264.4h0M161 290.2h0M168.4 289.9h0M168.7 261.4h0M169 279.5h0M169.4 291.2h0M176.4 291.3h0M176.7 282.1h0M177.1 236.1h0M177.4 288.4h0M184.6 290.2h0M185 268.7h0M185.3 274.5h0M185.6 290.6h0M192.5 292h0M192.8 285.5h0M193.2 215.4h0M193.5 287.8h0M200.6 290.8h0M200.9 275.3h0M201.3 271.1h0M201.6 290.5h0M208.6 290.2h0M208.9 257.3h0M209.2 284.2h0M209.6 292h0M216.3 292.3h0M216.6 283.1h0M217 277.5h0M217.3 291.8h0M224.2 292.3h0M224.5 276.8h0M224.8 288.1h0M232.3 276.2h0M247.4 278.3h0M247.7 291.9h0M254.6 289.8h0M255 258.3h0M255.3 291.2h0M262 289.2h0M262.3 235h0M262.6 287.9h0M269.3 287h0M269.7 212.5h0M270 286.8h0M270.3 291.9h0M276.3 291.7h0M276.6 286.7h0M276.9 208.4h0M277.3 285.2h0M277.6 291.4h0M283.7 288.8h0M284 265.6h0M284.3 269.5h0M284.7 289.1h0M290.7 289.7h0M291 277.2h0M291.4 240.3h0M291.7 287.1h0M292 291.5h0M297.8 289.3h0M298.1 274.7h0M298.5 249.3h0M298.8 287.4h0M299.1 291.5h0M304.6 291.3h0M304.9 286.8h0M305.3 233.2h0M305.6 278.7h0M305.9 289.7h0M311.8 288.9h0M312.1 268.7h0M312.4 268.2h0M312.8 288.8h0M318.4 291.1h0M318.8 286h0M319.1 205.6h0M319.4 284.2h0M319.8 290.7h0M325.3 290.7h0M325.6 284h0M325.9 212.1h0M326.3 286.4h0M326.6 291.1h0M332.1 289.7h0M332.5 274.5h0M332.8 272.8h0M333.1 289.4h0M338.6 290.6h0M338.9 287.5h0M339.2 234.2h0M339.6 284.1h0M339.9 290h0M345.4 289.1h0M345.7 270.8h0M346 278.8h0M346.4 289.4h0M346.7 291h0M347 290.4h0M351.9 288.9h0M352.2 276.5h0M352.5 280.9h0M352.9 290h0M353.2 290.6h0M353.5 290.3h0M357.8 291h0M358.2 289.6h0M358.5 285.4h0M358.8 255.6h0M359.2 288.6h0M359.5 289.4h0M359.8 288.8h0M364.6 289.1h0M364.9 286.7h0M365.2 265.3h0M365.5 289.2h0M365.9 289.1h0M366.2 290.5h0M370.6 291h0M370.9 288.4h0M371.2 285.8h0M371.6 274.6h0M371.9 288.7h0M372.2 288h0M372.5 290.8h0M377 290h0M377.3 286.6h0M377.7 274.3h0M378 289.3h0M378.3 288.9h0M378.7 288.8h0M383.2 290.6h0M383.5 288h0M383.8 279.4h0M384.1 289.8h0M384.5 289.5h0M384.8 288.8h0M389 290.8h0M389.4 289h0M389.7 287.1h0M390 283.8h0M390.4 290.3h0M390.7 288.7h0M391 289.8h0M395.3 290.5h0M395.6 286.9h0M396 283.3h0M396.3 290.3h0M396.6 290h0M396.9 287.6h0M397.3 290.1h0M433.7 286.3h0M434.1 285.6h0M434.4 282.4h0M434.7 281h0M435 286.7h0M435.4 284.9h0M435.7 284.7h0M438.1 286.7h0M438.4 282.2h0M438.8 282.2h0M439.1 285.7h0M439.4 286h0M439.8 282.9h0M440.1 286.4h0M442.3 285.1h0M442.7 282.8h0M443 274.5h0M443.3 285.7h0M443.6 283.3h0M444 282.6h0M444.3 287.1h0M446 287.6h0M446.4 286.4h0M446.7 281.5h0M447 281.4h0M447.3 287.2h0M447.7 286.5h0M448 286.1h0M450.2 287.7h0M450.6 283.7h0M450.9 272.7h0M451.2 286.2h0M451.5 286.9h0M451.9 283.5h0M452.2 286.2h0M454.1 287.9h0M454.5 285.9h0M454.8 277.2h0M455.1 284.2h0M455.4 287.8h0M455.8 287.2h0M456.1 285h0M457.7 285.7h0M458.1 287.5h0M458.4 285.3h0M458.7 263.6h0M459 281.9h0M459.4 287h0M459.7 287.2h0M461.7 284.7h0M462 286.6h0M462.4 282.9h0M462.7 273.6h0M463 283.6h0M463.4 287.6h0M463.7 287.5h0M465.6 283.5h0M465.9 284.5h0M466.2 279.5h0M466.5 274.5h0M466.9 279.5h0M467.2 285.9h0M467.5 286.6h0M469.3 283.6h0M469.6 280.4h0M470 279.8h0M470.3 263.7h0M470.6 280.1h0M470.9 282.4h0M471.3 286.7h0M473.3 283.2h0M473.6 276.4h0M473.9 262.3h0M474.2 279.1h0M474.6 280.2h0M474.9 281.6h0M475.2 285.9h0M476.6 285.6h0M476.9 284.4h0M477.2 276.1h0M477.6 254.2h0M477.9 283.7h0M478.2 286.3h0M478.5 284.9h0M480.4 286.6h0M480.7 283.8h0M481 255h0M481.4 277.1h0M481.7 285.5h0M482 287.7h0M482.3 285.2h0M483.8 285h0M484.1 282.6h0M484.5 277.9h0M484.8 261.6h0M485.1 279.1h0M485.5 282.7h0M485.8 287h0M487.3 287.1h0M487.7 284.2h0M488 275.3h0M488.3 237.6h0M488.7 281.5h0M489 283.3h0M489.3 280.9h0M491 284.8h0M491.3 283.9h0M491.7 269.5h0M492 272.6h0M492.3 284.7h0M492.6 287.4h0M493 285.2h0M494.3 285.7h0M494.7 283h0M495 280.9h0M495.3 242.3h0M495.7 280.1h0M496 283.2h0M496.3 287.2h0M497.9 286.9h0M498.2 282h0M498.6 270.1h0M498.9 275.4h0M499.2 283.3h0M499.5 279.7h0M499.9 281.9h0M501.3 283.1h0M501.6 282.9h0M501.9 258.1h0M502.3 274.6h0M502.6 284h0M502.9 285.6h0M503.3 279.9h0M504.5 281.5h0M504.8 278.4h0M505.2 272.2h0M505.5 278.3h0M505.8 282.5h0M506.2 285h0M506.5 286.9h0M507.8 287h0M508.1 284.1h0M508.4 273.6h0M508.8 276.6h0M509.1 284.8h0M509.4 282.2h0M509.7 283.1h0" stroke="#6c788a" stroke-width="2" stroke-linecap="round"/>
<path d="M65.5 289h0M66.9 294.7h0M68.4 294.8h0M69.9 295.3h0M71.2 296h0M72.3 294.9h0M74.1 294.6h0M75.7 295.9h0M77.1 294.8h0M78.2 296.5h0M79.3 295.6h0M80.7 294.8h0M82.1 294.6h0M83.5 278.6h0M84.8 294.5h0M86.1 294.9h0M87.3 295h0M88.9 295.6h0M90.7 294.3h0M92.4 275.5h0M94 295.5h0M95.6 295h0M97.2 294.8h0M98.4 294.5h0M99.7 294.9h0M101 267.1h0M102 294.9h0M103.2 295.6h0M104.8 296h0M105.9 295h0M107.4 296.5h0M108.4 295h0M110 287h0M111.2 295.7h0M112.6 296.4h0M113.6 296.4h0M114.9 295.2h0M116 294.8h0M117.6 293.3h0M118.7 287.9h0M119.8 294.2h0M121 295h0M122.8 296.5h0M124.4 295.3h0M125.8 294.7h0M127.5 292.2h0M129.1 294.5h0M130.6 296.1h0M132.2 294.5h0M133.8 294.5h0M134.9 291h0M136.4 293.7h0M137.5 295.8h0M139.3 296.2h0M140.9 296h0M142.5 294.4h0M143.9 227.7h0M145.5 295.4h0M146.7 296.2h0M148.2 296.3h0M149.3 296.3h0M150.9 293.5h0M152.6 275.3h0M153.7 294h0M154.9 295.1h0M156.6 295.7h0M158.2 294.8h0M159.8 291.4h0M161.4 291.8h0M163 294.8h0M164.1 295.5h0M165.8 294.8h0M167.2 295h0M168.9 214.2h0M170.3 292.9h0M171.4 295.7h0M172.7 295.4h0M174.1 294.7h0M175.2 294.1h0M176.9 228.3h0M178.1 291.8h0M179.4 295.4h0M180.7 295.5h0M182.4 294.2h0M183.9 292.1h0M185.6 283.4h0M186.8 295.3h0M188.1 294.5h0M189.8 295.4h0M191.5 294.1h0M192.9 271.2h0M194.3 294h0M195.4 295.6h0M196.6 295.2h0M197.6 294.4h0M199.3 294.4h0M201 243.2h0M202.3 292.2h0M203.7 295.8h0M205.1 294.9h0M206.9 295.8h0M208.4 288.7h0M209.9 292.1h0M211.7 294.8h0M213.2 295.4h0M214.5 295.1h0M216 293.3h0M217.4 290.5h0M219.2 294.1h0M220.9 295.6h0M222.3 295h0M223.9 293.3h0M225.5 294.2h0M226.5 294.6h0M227.6 296.2h0M229.4 294.4h0M230.8 295.1h0M231.9 292h0M233.5 295.1h0M234.7 295.8h0M235.9 295.4h0M237.3 296.3h0M238.8 295.9h0M240.3 295h0M242.1 295.7h0M243.6 294.7h0M244.8 295.3h0M246.4 295.1h0M247.7 288.5h0M249.1 295.7h0M250.3 295.6h0M251.4 294.6h0M252.4 294.5h0M253.7 295h0M255.5 290.8h0M256.8 295.6h0M257.9 294.5h0M259.3 294h0M260.5 294.2h0M261.8 290.2h0M263 289.9h0M264.7 294.5h0M266.4 295h0M268 293.5h0M269.1 287.8h0M270.5 291.1h0M272 295h0M273.3 294.2h0M275 294.1h0M276.2 289.5h0M277.4 285.7h0M278.5 294.1h0M279.9 294.1h0M281.7 293.7h0M282.9 291.4h0M284.3 245.3h0M285.9 293.3h0M287.5 293.4h0M288.7 294.4h0M290.5 288.7h0M292.1 289.3h0M293.4 294.8h0M295 293.8h0M296.3 294.4h0M297.6 287.6h0M299.3 290h0M300.7 294.2h0M302.4 293.2h0M303.7 292.1h0M305 272.8h0M306.7 292.6h0M308.2 293.7h0M309.6 293.4h0M311.3 291.2h0M313 287.1h0M314.5 294.2h0M315.9 294.8h0M317.6 293.3h0M319.3 248.4h0M321 292.5h0M322.5 294.3h0M324 292.8h0M325.1 289.8h0M326.7 289.3h0M327.9 292.8h0M329 294.1h0M330.8 294h0M332.1 287.5h0M333.1 286.2h0M334.4 292h0M335.9 292.4h0M337.1 292.2h0M338.5 289.9h0M340.1 288.2h0M341.8 291.3h0M342.9 293.3h0M344.2 291.3h0M345.7 264.4h0M347.3 290.9h0M349 293.3h0M350.4 290.3h0M352 280.1h0M353.4 290.9h0M354.5 291.7h0M356.1 289.4h0M357.4 291.4h0M358.9 256.8h0M360.5 290.7h0M362.2 292.1h0M363.5 293.2h0M364.5 287.9h0M365.6 288.3h0M367.2 292.2h0M368.5 288.6h0M369.7 291.8h0M370.9 286.9h0M372.5 288.6h0M373.8 291.6h0M375.4 291.1h0M376.6 290.2h0M378.2 290.8h0M379.8 292.6h0M381.5 292.2h0M383.1 287.9h0M384.3 288.8h0M385.9 292.1h0M387.5 287.5h0M388.7 290h0M390.2 290h0M391.5 288.1h0M392.6 291.6h0M394.3 292.2h0M395.7 285.3h0M396.8 290.2h0M398.4 291.1h0M400.2 290.8h0M401.8 286.2h0M403.5 288.7h0M404.6 291h0M406 285.7h0M407.2 288.4h0M408.9 289.8h0M410.7 290h0M412 284.3h0M413.3 288.6h0M415 287.9h0M416 282.7h0M417.5 284.2h0M418.5 286.6h0M420.1 283.3h0M421.2 287.2h0M422.6 284.9h0M423.8 281.8h0M425.6 284.8h0M427.1 286.5h0M428.3 284.8h0M429.6 285.7h0M431 285.5h0M432.2 279.4h0M433.7 286.1h0M435.2 287h0M436.3 285.1h0M437.3 287.9h0M438.7 283.2h0M440.2 283.1h0M441.7 287h0M443.1 279h0M444.8 285.7h0M445.9 286.8h0M447.7 287.2h0M449 288.7h0M450.7 280.4h0M452.3 284.9h0M453.3 289.1h0M455 271.8h0M456 287.9h0M457.8 287.2h0M459.3 283.6h0M460.8 286h0M462 285.2h0M463 280.6h0M464.1 289.5h0M465.7 284.2h0M467.3 281.1h0M468.7 282.7h0M470.4 268.5h0M472.1 286.3h0M473.8 270.6h0M475.4 281.2h0M476.9 279.4h0M478.6 285.7h0M479.6 286.8h0M480.8 272.5h0M481.9 284.2h0M482.9 288.5h0M484.5 264.5h0M485.6 279.9h0M486.8 287.3h0M487.9 275.2h0M489.3 283.8h0M490.4 285.4h0M492.1 271.3h0M493.1 287.5h0M494.4 284.2h0M495.5 268.4h0M497.3 288.2h0M498.3 275.7h0M499.4 283.7h0M500.9 284.1h0M502.2 267.2h0M503.7 285.3h0M505.5 267.2h0M507.1 288.3h0M508.8 271.1h0M509.8 284.7h0" stroke="#6d85aa" stroke-width="1.5" stroke-linecap="round"/>
<use href="#p1" stroke="#eb8d3e" stroke-width="1.3" stroke-opacity="1"/>
<path d="M168.8 204.9h0M177.1 191.3h0M185.2 188.8h0M185.2 198.6h0M193.1 201.1h0M209 212h0M209 215.9h0M216.9 233.8h0M224.6 249.9h0M269.8 204.9h0M284.2 187.8h0M339.2 213.3h0M352.3 235.9h0M365 254.1h0M443 270.8h0M454.9 263.3h0M458.7 258.5h0M462.6 253.3h0M466.4 248.3h0M470.3 241.9h0M474 244.3h0M481.2 226.9h0M495.4 237.5h0M498.8 238h0" stroke="#6b7a90" stroke-width="1.9" stroke-linecap="round"/>
</g>
<rect x="65" y="179.7" width="445.8" height="145" fill="none" stroke="#000" stroke-width="1.6"/>
<path d="M104.6 324.7v3.6M104.6 179.7v-3.6M154.2 324.7v7.4M154.2 179.7v-7.4M203.7 324.7v3.6M203.7 179.7v-3.6M253.2 324.7v7.4M253.2 179.7v-7.4M302.8 324.7v3.6M302.8 179.7v-3.6M352.3 324.7v7.4M352.3 179.7v-7.4M401.8 324.7v3.6M401.8 179.7v-3.6M451.4 324.7v7.4M451.4 179.7v-7.4M500.9 324.7v3.6M500.9 179.7v-3.6M65 310.7h-7.2M510.8 310.7h7.2M65 287.3h-3.8M510.8 287.3h3.8M65 263.9h-7.2M510.8 263.9h7.2M65 240.5h-3.8M510.8 240.5h3.8M65 217.1h-7.2M510.8 217.1h7.2M65 193.7h-3.8M510.8 193.7h3.8" stroke="#000" stroke-width="1.5" fill="none"/>
<text x="52.1" y="315.9" font-size="17" text-anchor="end">0.5</text>
<text x="52.1" y="269.1" font-size="17" text-anchor="end">1.0</text>
<text x="52.1" y="222.3" font-size="17" text-anchor="end">1.5</text>
<text transform="translate(16.8 252.8) rotate(-90)" font-size="20.2" text-anchor="middle">Absorbance</text>
<text x="70.5" y="198.9" font-size="17.5">(b)</text>
<text x="70.5" y="219.3" font-size="17.5">PBXN-5</text>
<g clip-path="url(#c2)" fill="none" stroke-linejoin="round">
<defs><path id="p2" d="M63 462.2L63.3 462.1L63.9 462.1L64.3 461.9L64.4 461.8L64.8 461.3L65.1 459.9L65.2 456.5L65.3 453.8L65.4 456.1L65.6 459.7L65.6 459.9L65.8 461.3L66.2 461.8L66.7 462L66.9 462.1L67.3 462.1L68.2 462.1L69.5 462.1L70.8 462.1L72.1 462.1L72.9 462.1L73.4 461.9L73.5 461.9L74 461.6L74.4 460.9L74.6 458.7L74.7 456.6L74.8 453.7L74.9 450.4L75 454.1L75.1 458.9L75.4 460.9L75.8 461.6L76 461.8L76.3 461.9L76.9 462L77.3 462L78.6 462.1L79.9 462L81.2 462L81.6 462L82.2 461.8L82.5 461.6L82.7 461.4L83.1 460.4L83.3 457.6L83.5 451.1L83.6 446.2L83.7 450.7L83.8 456.6L83.8 457.4L84.1 460.4L84.5 461.4L85 461.8L85.1 461.8L85.6 461.9L86.4 462L87.7 462L89 462L90.3 461.9L90.3 461.9L91 461.6L91.5 461.1L91.6 460.9L91.8 459.9L92.1 456.3L92.2 448L92.3 442L92.5 447.9L92.6 456.3L92.8 459.9L92.9 460.2L93.2 461.1L93.8 461.6L94.2 461.8L94.3 461.8L95.5 461.9L96.8 461.9L98.1 461.9L99 461.8L99.4 461.6L99.5 461.5L100 460.9L100.5 459.3L100.7 454.7L100.8 444.2L101 436.6L101 444.2L101.2 454.7L101.5 459.3L101.8 460.8L102 461.1L102.3 461.5L103 461.7L103.3 461.8L104.6 461.8L105.9 461.8L107.2 461.7L107.7 461.6L108.3 461.3L108.5 461L108.8 460.5L109.2 458.5L109.4 452.6L109.6 439.1L109.7 429.8L109.8 439.7L109.8 442.2L109.9 452.8L110.2 458.5L110.6 460.5L111.1 461.3L111.1 461.3L111.7 461.6L112.4 461.7L113.7 461.7L115 461.7L116.3 461.5L116.3 461.5L116.9 461.1L117.4 460.1L117.6 459.5L117.8 457.6L118.1 450.4L118.2 433.8L118.3 422.7L118.4 434.9L118.6 450.8L118.8 457.7L118.9 458.3L119.2 460.1L119.7 461.1L120.2 461.4L120.3 461.5L121.5 461.6L122.8 461.7L124.1 461.6L124.9 461.4L125.4 461.1L125.5 460.9L126 459.8L126.4 457L126.7 448.9L126.7 447.4L126.8 430.1L126.9 417.7L127 431.6L127.2 449.4L127.4 457.1L127.8 459.9L128 460.3L128.3 460.9L128.9 461.4L129.3 461.5L130.6 461.6L131.9 461.6L133.2 461.4L133.4 461.3L134.1 460.7L134.5 459.5L134.6 459.3L134.9 455.9L135.2 445.8L135.3 422.6L135.4 407.3L135.6 424.5L135.7 446.5L135.8 452.1L135.9 456L136.3 459.4L136.8 460.7L137.1 461L137.4 461.2L138.4 461.5L139.7 461.5L141 461.4L141.9 461.2L142.3 460.8L142.5 460.5L143 459L143.4 455L143.6 447.7L143.7 443.7L143.8 417.4L143.9 400L144 419.3L144.2 444.3L144.4 455.2L144.8 459L144.9 459.4L145.3 460.5L145.9 461.1L146.2 461.3L147.5 461.4L148.8 461.4L150.1 461.1L150.3 461L150.9 460.3L151.4 458.6L151.4 458.5L151.8 454.4L152 442L152.2 413.4L152.3 393.9L152.4 414.8L152.5 442.5L152.7 452.4L152.8 454.5L153.2 458.7L153.7 460.3L154 460.8L154.3 461L155.3 461.3L156.6 461.3L157.9 461.2L158.6 460.9L159.2 460.1L159.2 460.1L159.7 458.3L160.1 453.7L160.3 440.4L160.5 409.7L160.5 406.6L160.6 387.9L160.7 410L160.8 440.5L161.1 453.7L161.5 458.3L161.8 459.6L162 460.1L162.6 460.9L163.1 461.1L164.4 461.2L165.7 461.2L166.8 460.9L167 460.7L167.4 460L167.9 458.1L168.3 454L168.3 453.4L168.6 439.7L168.7 408.1L168.8 384.5L168.9 406.8L169.1 439.2L169.3 453.3L169.6 457.2L169.7 458.1L170.2 460L170.8 460.8L170.9 460.9L172.2 461.1L173.5 461.1L174.8 460.9L175 460.7L175.6 459.8L176.1 457.8L176.1 457.7L176.5 452.3L176.8 436.4L176.9 399.9L177 376.3L177.1 403.3L177.3 437.6L177.4 448.6L177.5 452.5L177.9 457.7L178.4 459.8L178.7 460.4L179 460.7L180 461L181.3 461.1L182.6 460.9L183.1 460.7L183.7 459.8L183.9 459.3L184.2 457.8L184.6 452.8L184.9 438.1L185 404.4L185.1 380.6L185.2 401.7L185.2 405L185.4 438.3L185.6 452.8L186 457.8L186.5 459.8L186.5 459.8L187.1 460.7L187.8 460.9L189.1 461L190.4 460.9L191.1 460.6L191.7 459.9L191.7 459.8L192.2 457.9L192.6 453L192.9 439L193 418.7L193 406.8L193.1 382L193.2 404.5L193.4 438.2L193.6 452.8L194 457.8L194.3 459.1L194.5 459.8L195.1 460.6L195.6 460.8L196.9 461L198.2 460.9L199.1 460.6L199.5 460.2L199.7 459.8L200.2 457.9L200.6 453.2L200.8 445L200.9 439.4L201 407.6L201.1 385.4L201.2 408.4L201.4 439.7L201.6 453.2L202 457.9L202.1 458.4L202.5 459.8L203.1 460.6L203.4 460.7L204.7 460.9L206 460.9L207 460.6L207.3 460.4L207.6 460L208.1 458.4L208.5 454.4L208.6 451.9L208.8 443.2L208.9 417.3L209 397.1L209.1 414.9L209.2 442.3L209.5 454.3L209.9 458.3L210.4 459.9L211 460.6L211.2 460.7L212.5 460.9L213.8 460.9L214.8 460.7L215.1 460.5L215.4 460.1L215.9 458.8L216.3 455.5L216.4 454.1L216.6 446L216.7 424.1L216.8 408.1L216.9 423.7L217.1 445.8L217.3 455.5L217.7 458.7L217.7 458.8L218.2 460.1L218.8 460.7L219 460.7L220.3 460.9L221.6 460.9L222.6 460.7L222.9 460.6L223.2 460.3L223.7 459.4L224.1 457L224.2 455.2L224.3 450L224.5 434L224.6 422.9L224.7 434.6L224.8 450.2L225.1 457L225.5 459.4L225.5 459.4L226 460.3L226.6 460.7L226.8 460.8L228.1 460.9L229.4 460.9L230.3 460.8L230.7 460.7L230.9 460.6L231.4 460.1L231.8 458.9L232 456.2L232 455.4L232.2 447.4L232.3 442.1L232.4 448L232.5 455.7L232.8 459L233.2 460.1L233.3 460.3L233.7 460.6L234.3 460.8L234.6 460.8L235.9 460.9L237.2 460.9L238.5 460.9L239.8 460.9L241.1 460.9L242.4 460.8L243.7 460.8L245 460.7L245.4 460.7L246 460.5L246.3 460.3L246.5 460L246.9 458.8L247.2 455.4L247.3 447.6L247.4 441.6L247.5 447.1L247.6 451.3L247.7 455.2L247.9 458.7L248.3 459.9L248.8 460.4L248.9 460.4L249.4 460.6L250.2 460.6L251.5 460.6L252.8 460.5L252.9 460.4L253.5 460L254 459.1L254.1 458.8L254.4 456.8L254.7 450.2L254.8 435.1L254.9 423.5L255 434.1L255.2 449.9L255.4 456.5L255.4 456.7L255.8 459L256.3 460L256.7 460.3L256.9 460.3L258 460.5L259.3 460.4L260.3 460.2L260.6 460L260.9 459.6L261.4 458.2L261.8 454.8L261.9 453.4L262.1 445.1L262.2 422.8L262.3 405.6L262.4 421.2L262.6 444.6L262.8 454.7L263.2 458L263.2 458.2L263.7 459.5L264.3 460.1L264.5 460.2L265.8 460.3L267.1 460.2L267.7 459.9L268.3 459.2L268.4 458.9L268.8 457.4L269.2 453.1L269.4 440.6L269.6 411.9L269.7 389.4L269.7 391.2L269.8 409.2L269.9 439.6L270.2 452.8L270.6 457.4L271 459L271.1 459.1L271.7 459.9L272.3 460.1L273.6 460.1L274.9 459.8L274.9 459.8L275.6 458.9L276.1 456.9L276.2 455.7L276.4 451.8L276.7 437.1L276.9 403.1L276.9 380.6L277.1 405.6L277.2 438L277.4 452L277.5 453.1L277.9 456.9L278.4 458.9L278.8 459.6L278.9 459.7L280.1 460L281.4 459.9L282.1 459.6L282.7 458.7L282.8 458.6L283.2 456.3L283.6 450.5L283.9 433.8L284 412.6L284.1 395.3L284.1 368.5L284.2 396.4L284.4 434.2L284.6 450.6L285.1 456.3L285.3 457.7L285.6 458.5L286.1 459.5L286.6 459.7L287.9 459.8L289.2 459.5L289.3 459.4L289.9 458.4L290.4 456L290.5 454.9L290.8 449.9L291 432.5L291.2 392.4L291.3 362.7L291.4 391.2L291.5 432L291.8 449.8L291.8 450.4L292.2 455.9L292.7 458.3L293.1 459.1L293.3 459.3L294.4 459.7L295.7 459.6L296.4 459.3L296.9 458.2L297 458.1L297.4 455.8L297.9 449.5L298.1 431.3L298.2 389.3L298.3 369.9L298.4 362.1L298.4 393.2L298.6 432.7L298.9 449.8L299.2 455.8L299.6 457.7L299.8 458.2L300.4 459.2L300.9 459.5L302.2 459.6L303.3 459.2L303.5 459L303.9 458.2L304.4 455.9L304.8 451.1L304.8 450L305.1 432.9L305.2 393.7L305.3 365.8L305.4 394.1L305.6 433.1L305.8 450L306.1 454.6L306.2 455.9L306.7 458.2L307.3 459.2L307.4 459.2L308.7 459.5L310 459.3L310.3 459.2L310.9 458.2L311.3 456.5L311.4 456.1L311.8 450.8L312 435.5L312.2 400.4L312.3 373L312.4 397.2L312.5 434.4L312.6 443.3L312.8 450.5L313.2 456L313.7 458.2L313.9 458.7L314.3 459.1L315.2 459.4L316.5 459.4L317.1 459.1L317.7 458.3L317.8 458L318.2 456.3L318.6 451.2L318.9 436.7L319 403.3L319.1 380.7L319.1 379.3L319.2 403.3L319.4 436.7L319.6 451.2L320 456.2L320.4 457.9L320.5 458.2L321.1 459.1L321.7 459.3L323 459.3L323.9 459L324.3 458.6L324.5 458.2L325 456.3L325.4 451.4L325.6 442.9L325.7 437L325.8 404L325.9 382L326 406.3L326.2 437.9L326.4 451.5L326.8 456.3L326.9 456.8L327.3 458.2L327.9 459L328.2 459.1L329.5 459.3L330.6 459L330.8 458.9L331.2 458.3L331.7 456.7L332.1 453L332.1 452.6L332.4 440.8L332.5 413.6L332.6 392.8L332.7 411.8L332.9 440.1L333.1 452.5L333.4 455.9L333.5 456.7L334 458.3L334.6 459.1L334.7 459.1L336 459.3L337.3 459.1L337.3 459.1L337.9 458.5L338.4 457L338.6 455.5L338.8 453.3L339 442.6L339.2 417.9L339.3 399.9L339.4 417.5L339.5 442.5L339.8 453.3L339.9 455.1L340.2 457L340.7 458.5L341.2 459.1L341.3 459.1L342.5 459.4L343.8 459.2L343.9 459.2L344.4 458.7L344.9 457.4L345.1 456.7L345.4 454.3L345.6 445.2L345.8 424.1L345.9 409.3L345.9 424.5L346.1 445.3L346.4 454.3L346.4 455L346.8 457.5L347.2 458.7L347.7 459.2L347.9 459.2L349 459.4L350.3 459.3L350.4 459.3L351 458.9L351.5 457.9L351.6 457.4L351.9 455.3L352.1 448L352.3 431L352.4 419.3L352.5 431.7L352.6 448.2L352.9 455.4L352.9 455.9L353.3 457.9L353.8 458.9L354.2 459.3L354.4 459.3L355.5 459.5L356.8 459.4L357.4 459L357.9 458.2L358.1 457.5L358.3 456.1L358.6 450L358.7 435.8L358.8 426.2L358.9 436.5L359.1 450.2L359.3 456.1L359.4 457L359.7 458.2L360.2 459L360.7 459.4L360.8 459.4L362 459.5L363.2 459.4L363.3 459.3L363.8 459.1L364.3 458.4L364.6 457.1L364.7 456.6L364.9 451.5L365.1 439.9L365.2 432L365.3 440.5L365.4 451.8L365.7 456.7L365.9 457.9L366.1 458.4L366.6 458.9L367 459.2L367.2 459.3L367.2 459.3L367.6 459.4L368.1 459.4L368.5 459.3L368.5 459.3L368.7 459.2L368.9 459.2L369 459.1L369.1 459.2L369.2 459.2L369.5 459.2L369.5 459.2L369.8 459.2L369.9 459.2L370.1 459L370.4 458.7L370.6 458.3L370.9 457.1L371 456.6L371 456.5L371.1 455L371.2 451.9L371.4 440.9L371.5 433.3L371.5 433.8L371.6 441.3L371.7 452.1L372 456.8L372 456.9L372.4 458.3L372.4 458.3L372.4 458.3L372.6 458.6L372.8 458.7L372.9 458.7L372.9 458.7L373 458.8L373 458.8L373.1 459L373.4 459.2L373.5 459.2L373.6 459.3L373.7 459.3L373.8 459.3L374.1 459.3L374.3 459.3L374.5 459.1L374.8 458.9L374.9 458.8L374.9 458.8L375 458.8L375 458.8L375.1 458.8L375.3 458.9L375.5 459.1L375.6 459.1L375.7 459.1L375.9 459.1L376.1 459.1L376.3 458.9L376.4 458.8L376.5 458.7L376.8 458.2L376.8 458.1L376.9 457.9L377 457.6L377 457.6L377 457.5L377.1 457.3L377.2 456.9L377.2 456.6L377.4 453.8L377.5 452L377.6 446L377.6 443.6L377.7 440.4L377.8 446.1L377.9 452.2L377.9 454L378.1 456.9L378.2 457.4L378.4 458.1L378.5 458.3L378.6 458.4L378.8 458.4L378.9 458.4L378.9 458.4L379 458.5L379 458.5L379.1 458.5L379.1 458.5L379.1 458.6L379.3 458.8L379.5 459.1L379.7 459.2L379.7 459.2L379.9 459.3L380.2 459.3L380.2 459.3L380.4 459.3L380.6 459.2L380.8 459.1L381 459L381 459L381 459L381.1 459L381.2 459L381.3 459.1L381.5 459.2L381.6 459.2L381.6 459.2L381.9 459.2L382 459.2L382.1 459.2L382.5 458.9L382.5 458.9L382.5 458.9L382.8 458.4L382.8 458.4L382.9 458.2L383 458.1L383 458L383.1 458L383.1 458L383.3 457.8L383.4 457.7L383.5 456.9L383.6 455.7L383.7 453L383.8 450.8L383.9 447.1L383.9 448.2L384 450.7L384.1 455.6L384.1 455.8L384.2 457.1L384.4 458L384.4 458.1L384.6 458.4L384.8 458.5L384.9 458.5L385 458.4L385.1 458.4L385.2 458.5L385.3 458.6L385.3 458.6L385.4 458.7L385.4 458.7L385.6 459L385.9 459.2L385.9 459.2L386 459.2L386.4 459.2L386.5 459.1L386.7 459L386.8 458.9L387 458.5L387.1 458.4L387.2 458.3L387.3 458.3L387.3 458.3L387.4 458.3L387.5 458.5L387.8 458.9L387.9 459L387.9 459L388 459L388.2 459.1L388.4 459.1L388.6 459.1L388.7 459L388.8 458.9L389 458.6L389.1 458.5L389.2 458.3L389.3 458.2L389.3 458.1L389.3 458.1L389.4 458.1L389.4 458L389.4 457.9L389.5 457.6L389.7 456.3L389.8 454.8L389.9 452.4L389.9 449.3L390.1 452.1L390.2 456L390.2 456.4L390.4 458.2L390.6 458.4L390.7 458.5L390.9 458.5L391.1 458.3L391.2 458.1L391.3 458.1L391.3 458.1L391.4 458.1L391.4 458.2L391.6 458.4L391.9 458.8L391.9 458.9L391.9 458.9L391.9 459L392.2 459.2L392.4 459.2L392.8 459.1L392.8 459.1L393.1 458.9L393.2 458.8L393.2 458.8L393.3 458.7L393.4 458.7L393.4 458.7L393.4 458.8L393.6 458.9L393.8 459.1L394 459.2L394 459.2L394.2 459.2L394.5 459.2L394.5 459.2L394.6 459.2L394.7 459.1L394.9 458.9L395.1 458.6L395.1 458.6L395.3 458.3L395.3 458.3L395.4 458.2L395.5 458.1L395.5 458L395.6 457.7L395.7 457L395.8 456.1L395.9 454.8L395.9 454.2L396 452.3L396.1 454.4L396.2 457.3L396.3 457.6L396.5 458.5L396.6 458.6L396.8 458.7L396.9 458.6L397 458.6L397.1 458.4L397.2 458.2L397.4 458L397.4 458L397.5 457.9L397.5 457.9L397.6 458L397.7 458.2L398 458.7L398.1 458.8L398.4 459L398.4 459L398.6 459L398.9 458.8L399 458.8L399.2 458.4L399.4 458.1L399.4 458.1L399.5 458.1L399.5 458.1L399.6 458.1L399.7 458.3L399.7 458.3L399.9 458.7L400 458.7L400 458.8L400.4 459L400.5 459L400.9 458.8L400.9 458.7L401 458.6L401 458.6L401.2 458.3L401.3 458.1L401.4 458L401.4 457.9L401.5 457.9L401.5 457.8L401.7 457.5L401.8 456.3L401.9 455.4L402 455.9L402 456.5L402.2 458L402.3 458.4L402.3 458.5L402.4 458.6L402.5 458.6L402.8 458.4L402.9 458.3L403.1 457.7L403.3 457.4L403.3 457.4L403.4 457.3L403.4 457.4L403.4 457.4L403.5 457.4L403.6 457.7L403.6 457.8L403.9 458.4L403.9 458.4L404 458.6L404.3 458.8L404.5 458.8L404.8 458.6L404.9 458.4L404.9 458.4L405.2 457.8L405.3 457.4L405.4 457.4L405.4 457.4L405.4 457.4L405.5 457.4L405.7 457.7L405.8 458.1L405.9 458.3L406 458.5L406.2 458.6L406.3 458.7L406.4 458.7L406.5 458.7L406.8 458.3L406.9 458.1L406.9 458.1L407.2 457.4L407.3 456.9L407.3 456.9L407.4 456.7L407.4 456.7L407.5 456.6L407.5 456.6L407.5 456.6L407.6 456.5L407.7 456L407.7 455.7L407.8 455.2L407.9 456.3L407.9 456.4L408.1 457.7L408.1 457.9L408.3 458.4L408.3 458.5L408.6 458.6L408.7 458.6L408.8 458.5L408.8 458.5L409 458.2L409.2 457.7L409.3 457.6L409.4 457.3L409.4 457.2L409.5 457.2L409.5 457.2L409.6 457.3L409.8 457.6L409.8 457.8L410 458.3L410.1 458.4L410.1 458.5L410.4 458.7L410.6 458.7L410.9 458.5L411 458.3L411.3 457.6L411.4 457.3L411.4 457.3L411.5 457.2L411.5 457.2L411.5 457.2L411.6 457.3L411.8 457.6L412 458.2L412.1 458.3L412.4 458.6L412.6 458.5L412.7 458.4L412.9 458L413 457.9L413.2 457.1L413.4 456.6L413.5 456.5L413.5 456.5L413.6 456.6L413.7 457L414 457.9L414 458L414.2 458.4L414.4 458.6L414.7 458.7L414.9 458.5L415.1 458.2L415.3 457.7L415.3 457.6L415.5 457.2L415.6 457.1L415.7 457.2L415.8 457.6L416.1 458.3L416.3 458.6L416.5 458.8L416.6 458.9L416.8 458.9L417 458.8L417.2 458.5L417.2 458.5L417.4 458L417.6 457.7L417.7 457.6L417.7 457.6L417.8 457.7L417.9 457.8L417.9 457.8L418.1 458L418.2 458.1L418.3 458L418.4 457.8L418.5 456.8L418.6 456L418.6 456L418.7 456.8L418.8 457.5L418.9 457.9L419.1 458.2L419.1 458.2L419.2 458.1L419.2 458.1L419.4 457.7L419.5 457.6L419.6 457.4L419.7 457.4L419.8 457.5L419.8 457.6L419.9 457.9L420 458L420.2 458.4L420.4 458.8L420.5 458.8L420.6 458.9L420.6 458.9L420.9 458.9L421.1 458.8L421.1 458.7L421.3 458.4L421.6 457.8L421.6 457.7L421.7 457.5L421.7 457.4L421.8 457.3L421.8 457.3L421.9 457.3L421.9 457.2L422 457.2L422.1 457.2L422.2 456.8L422.3 456.1L422.4 455L422.5 454L422.5 453.7L422.6 455.1L422.7 456.9L422.8 457L423 457.7L423 457.7L423.1 457.7L423.2 457.6L423.4 457.3L423.4 457.2L423.6 456.4L423.8 455.9L423.8 455.8L423.9 455.8L423.9 455.8L424 456L424 456.1L424.1 456.5L424.4 457.5L424.4 457.7L424.5 457.9L424.6 458.1L424.8 458.3L425 458.3L425.1 458.2L425.3 458L425.5 457.3L425.7 456.4L425.8 456.1L425.9 455.6L425.9 455.4L426 455.1L426 455.1L426.1 454.8L426.1 454.6L426.2 453.9L426.3 453.2L426.4 452.1L426.5 453.9L426.6 455.6L426.6 456.4L426.9 457.6L427 457.8L427.1 457.9L427.3 458L427.4 457.9L427.5 457.8L427.7 457.3L427.8 457.2L427.9 457L428 457L428 457L428.1 457.1L428.1 457.1L428.2 457.5L428.3 457.6L428.4 457.9L428.5 458.1L428.7 458.4L428.9 458.5L429 458.5L429.2 458.3L429.4 458L429.5 457.8L429.6 457.4L429.9 456.3L429.9 456.1L430 455.6L430 455.5L430.1 454.8L430.1 454.4L430.2 453.8L430.2 453.5L430.3 451.8L430.4 450.5L430.4 450L430.5 452.4L430.6 454.9L430.6 455.7L430.8 457.1L430.9 457.4L431 457.7L431.3 458L431.3 458L431.5 458L431.7 457.7L431.8 457.5L432 457L432.1 456.6L432.1 456.6L432.2 456.5L432.2 456.5L432.3 456.6L432.3 456.7L432.4 456.8L432.5 457.1L432.7 457.8L432.7 457.8L432.9 458.1L433.1 458.2L433.3 458.1L433.4 457.9L433.5 457.8L433.6 457.5L433.8 456.8L433.8 456.6L434.1 455.1L434.2 454.3L434.2 454.2L434.2 454L434.3 453.2L434.4 452.2L434.4 452.1L434.5 451.4L434.6 448.3L434.6 447.9L434.7 445L434.8 448.7L434.8 450.5L434.9 453.8L435.1 455.6L435.2 456.2L435.2 456.4L435.6 457.1L435.6 457.1L435.7 457L436 456.4L436.1 456L436.2 455.3L436.3 454.8L436.4 454.6L436.5 454.4L436.5 454.4L436.6 454.6L436.7 455.1L436.7 455.3L436.9 456.2L437 456.6L437.1 457L437.4 457.4L437.4 457.4L437.5 457.3L437.6 457.2L437.9 456.3L438 455.8L438.2 454L438.4 452.7L438.4 452.7L438.5 452.1L438.5 452.1L438.6 451.4L438.6 450.9L438.7 450.1L438.8 448.9L438.8 447.2L438.9 444.5L439 448.2L439 448.7L439.1 453.2L439.4 455.7L439.5 456L439.8 456.1L439.9 455.9L439.9 455.9L440 455.6L440.2 454.9L440.3 454.3L440.3 454.3L440.4 454.2L440.5 454.4L440.5 454.4L440.7 455.2L440.9 456.5L440.9 456.5L441 456.8L441.3 457.3L441.3 457.3L441.4 457.2L441.6 456.9L441.8 456.1L442.1 454.5L442.1 454.2L442.2 453.5L442.3 452.9L442.3 452.8L442.4 452.6L442.5 452.3L442.6 452.1L442.6 451.8L442.8 449.4L442.8 447.2L442.9 441.1L442.9 438.6L443 435.1L443.1 441.5L443.2 448.9L443.2 450.4L443.4 453.7L443.5 454.2L443.7 455L443.8 455L443.9 454.9L444.1 454.4L444.2 454L444.3 453.9L444.3 453.9L444.4 454.1L444.4 454.2L444.6 455.1L444.8 456.5L444.9 456.8L444.9 456.9L445 457.1L445.2 457.4L445.2 457.4L445.4 457.3L445.5 457.2L445.7 456.5L445.8 456.1L446 455.1L446.1 454.5L446.2 453.5L446.3 452.8L446.4 452.3L446.4 452.1L446.5 451.8L446.5 451.4L446.6 450.3L446.6 448.5L446.8 438.8L446.8 435.8L446.9 431.8L447 439.2L447.1 444.6L447.1 449.5L447.2 451.9L447.4 454.2L447.6 455.2L447.7 455.6L447.8 455.7L448 455.7L448.2 455.1L448.3 454.8L448.3 454.7L448.4 454.7L448.5 454.6L448.6 454.9L448.6 455L448.7 455.6L448.9 456.5L449 456.7L449.1 457.1L449.2 457.2L449.4 457.2L449.5 457.1L449.7 456.6L449.9 455.9L450 455.1L450.1 454.4L450.3 451.7L450.4 450.9L450.5 449.9L450.5 449.4L450.5 449.2L450.6 447.1L450.6 444.9L450.7 442.9L450.8 433.3L450.8 428.7L450.9 425.1L451 434.2L451.1 443.2L451.1 444L451.1 446.8L451.4 452.8L451.5 453.6L451.6 454.3L451.7 454.7L451.8 454.9L452 454.9L452 454.9L452.2 454.1L452.3 453.9L452.4 453.6L452.5 453.6L452.5 453.6L452.6 453.8L452.6 453.9L452.8 454.7L452.9 455.6L453 456.1L453.1 456.3L453.4 456.7L453.5 456.5L453.6 456.4L453.9 454.9L454 454.5L454 454.2L454.2 452.1L454.3 451L454.4 450.3L454.4 449.7L454.5 448.9L454.5 448.2L454.6 447L454.6 444L454.7 440.4L454.8 431.1L454.9 421.8L455 426.4L455 431.9L455.1 445.9L455.4 451.8L455.4 452.4L455.5 453L455.6 454L455.8 454.8L455.9 454.8L456.1 454.8L456.3 454.6L456.3 454.6L456.4 454.7L456.5 454.9L456.6 455.6L456.7 456L456.9 456.5L456.9 456.6L457.1 456.8L457.3 456.7L457.3 456.6L457.6 455.7L457.8 454.4L457.8 454.1L458 452.5L458.2 448.8L458.2 448.6L458.4 444.6L458.4 440.5L458.5 439.9L458.6 431.8L458.6 430.5L458.6 424.8L458.7 414L458.7 414.2L458.8 426L458.9 442.8L459 443.5L459.1 450.1L459.2 451L459.4 453L459.5 454L459.6 454.6L459.6 454.8L459.9 455.4L460.1 455.5L460.1 455.4L460.3 454.8L460.4 454.3L460.5 454.3L460.6 454.2L460.6 454.2L460.6 454.3L460.7 454.4L460.7 454.5L460.8 454.9L461.1 455.7L461.2 455.8L461.3 455.8L461.4 455.3L461.7 454.1L461.8 453.5L461.9 451.8L462.1 449.4L462.2 447.8L462.4 439.6L462.4 432.8L462.5 420.1L462.6 410.8L462.6 408.1L462.6 406.3L462.6 409.1L462.7 413.9L462.7 419.5L462.8 430.7L462.9 438.7L462.9 442.9L463.1 448.6L463.2 449.9L463.2 451L463.4 452.8L463.5 453.6L463.6 454.1L463.7 454.9L464 455.4L464.1 455.3L464.1 455.2L464.4 454.2L464.4 454.1L464.5 453.5L464.6 453.3L464.6 453.2L464.7 453.2L464.7 453.2L464.7 453.3L464.7 453.3L464.9 453.7L465 454L465.1 454.1L465.3 453.7L465.5 452.8L465.5 452.5L465.8 449.4L465.9 447.9L466 445.1L466 443.5L466.1 436.5L466.2 428.1L466.3 412.2L466.4 394.8L466.5 404.1L466.5 410.9L466.6 430.9L466.6 432.8L466.6 433.7L466.7 436L466.7 438.4L466.8 442.6L466.9 444.9L467 446.6L467.2 451L467.3 451.7L467.3 452L467.6 454.7L467.8 455.4L467.8 455.4L468.1 455.6L468.2 455.5L468.2 455.4L468.4 454.5L468.4 454.4L468.6 453.5L468.6 453.4L468.7 453.1L468.7 453.1L468.8 453L468.8 453L468.9 452.9L469.2 452.5L469.3 452L469.3 451.8L469.6 448.9L469.7 446.5L469.8 444L469.9 437.5L469.9 432.8L470.1 408.3L470.1 402.5L470.2 382.1L470.2 380.8L470.3 401.9L470.4 429L470.4 431.3L470.6 440.4L470.7 443.8L470.7 444.4L470.8 446.2L470.9 449L471.1 451.4L471.2 452.3L471.2 452.5L471.3 453.3L471.6 455.2L471.6 455.2L471.8 455.7L472 455.5L472.1 455.3L472.2 454.8L472.2 454.6L472.4 452.8L472.5 452.1L472.6 451.4L472.6 451.2L472.7 450.8L472.8 450.5L472.8 450.4L472.9 450.4L473.1 450.2L473.2 449.9L473.4 448.3L473.5 445.9L473.6 443.6L473.8 432.6L473.8 425.8L473.9 413.5L473.9 402.4L474 380.8L474.1 396.2L474.1 402.2L474.2 432L474.3 433L474.5 444.6L474.5 444.9L474.7 447.2L474.7 447.4L474.8 448.4L474.9 449.6L474.9 449.8L474.9 450.1L475 451.4L475.1 452.5L475.3 454L475.4 454.9L475.5 455.3L475.5 455.4L475.7 455.9L476 455.6L476 455.6L476.1 455.2L476.2 454.9L476.4 453.2L476.4 453L476.6 450.6L476.6 450.2L476.8 448.3L476.8 447.9L476.9 446.3L477 444.3L477 443.8L477.1 439.3L477.2 430L477.4 403.8L477.4 397.5L477.5 374.1L477.6 397.9L477.7 423.6L477.8 431.1L477.8 434.4L478 446L478.1 448.2L478.3 450.7L478.4 451.7L478.5 452.2L478.8 452.8L478.9 452.9L478.9 452.9L478.9 452.9L479 453.1L479.1 453.4L479.2 454.1L479.5 454.9L479.5 454.9L479.7 454.8L479.9 454L480 453.1L480.2 451.4L480.3 450L480.4 448.4L480.4 447.8L480.6 443.2L480.7 439.7L480.8 427.8L480.9 425.1L480.9 409.6L481 394.5L481 387.2L481 375.9L481.1 360.4L481.2 380.3L481.2 388L481.4 426.6L481.4 435.4L481.6 443.7L481.6 444.4L481.8 449.5L482 451.5L482.1 452.3L482.3 453.6L482.5 453.9L482.5 453.9L482.7 453.5L482.7 453.4L482.9 452.8L482.9 452.8L482.9 452.7L483 452.6L483.1 452.6L483.1 452.7L483.1 452.7L483.2 452.9L483.3 453L483.5 452.9L483.8 451.5L483.8 451.1L483.9 450.3L484.2 443.9L484.2 442L484.4 433.9L484.4 425.7L484.6 385.7L484.6 366.4L484.7 356.9L484.8 384.2L484.9 413.8L484.9 422.2L485 425.8L485.1 431.8L485.1 436.1L485.1 436.9L485.2 438.8L485.2 440.4L485.4 444.5L485.5 446.8L485.6 448.7L485.6 449.5L485.7 450.6L486.1 453.5L486.1 453.8L486.2 454.2L486.3 454.3L486.6 453.7L486.6 453.3L486.7 452.8L486.8 451.8L486.9 451L486.9 450.7L487 449.3L487.1 448.5L487.1 448.4L487.2 448L487.2 448L487.4 447.7L487.4 447.6L487.6 446.1L487.8 442.8L487.8 441.4L488 427.9L488.1 425.1L488.1 415.9L488.2 384.1L488.3 354.6L488.3 360.9L488.4 383.9L488.5 421.5L488.6 424.7L488.7 440L488.8 442L489 445.2L489.1 446.4L489.1 446.5L489.2 447L489.2 447.1L489.2 447.3L489.3 448.4L489.4 449.1L489.5 450.3L489.7 452.6L489.7 452.9L489.8 453.4L489.8 453.5L490.1 454.3L490.3 454L490.3 453.9L490.4 453.5L490.6 451.5L490.7 450.7L490.7 450.5L490.9 447.5L491 446.1L491.1 442.9L491.2 440.6L491.2 440.2L491.3 438.6L491.3 438L491.4 434.5L491.5 430.9L491.6 422.6L491.7 383.4L491.7 375.4L491.8 355.1L491.9 384.6L492 416.3L492 418.4L492.1 425.5L492.1 433.8L492.3 444L492.5 448.9L492.6 450.3L492.7 451.2L492.9 452.6L493.2 453.1L493.2 453.1L493.2 453.1L493.3 453.1L493.3 453.1L493.4 453.2L493.5 453.4L493.7 453.9L493.8 454.2L493.9 454.2L493.9 454.2L494 454L494.3 452.3L494.4 451.5L494.5 450.2L494.6 448.8L494.8 443.9L494.8 443.6L494.9 438.9L495.1 425.6L495.2 400.7L495.2 386.2L495.3 358.2L495.3 358.6L495.4 374.1L495.4 385.6L495.4 389.4L495.5 417.7L495.6 424.5L495.7 435.8L495.8 443L495.9 446L495.9 446.3L496 447.6L496.2 451.1L496.3 452.2L496.5 453.3L496.7 454L496.8 453.9L496.9 453.8L497.1 452.4L497.2 451.8L497.3 451.3L497.3 451.1L497.4 450.8L497.4 450.7L497.5 450.6L497.5 450.5L497.6 450.5L497.8 450.1L497.9 449.8L498.1 446.6L498.2 444.9L498.3 442.6L498.4 429L498.5 420.8L498.6 392.6L498.6 381.7L498.7 366.6L498.8 381.6L498.8 392.5L498.9 428.6L499 436.5L499.2 444L499.3 445.7L499.4 447.1L499.4 447.8L499.5 448.9L499.6 449.7L499.6 450L499.7 450.7L499.8 451.7L499.8 451.9L500 453.7L500 454L500.1 454.4L500.3 455.1L500.4 455.2L500.6 454.9L500.7 454.5L500.8 454L500.9 452.9L501.1 451.1L501.2 449.8L501.4 444.6L501.5 442.8L501.5 441.7L501.6 439.2L501.7 433.1L501.8 427.1L501.8 421.3L501.9 393.8L501.9 380.6L502 370.1L502.1 394.8L502.2 419.5L502.2 429.2L502.4 441.1L502.5 444.8L502.6 446.9L502.7 448.5L502.9 450.4L503.1 451L503.3 450.4L503.3 450.2L503.4 449.9L503.5 449.5L503.6 449.4L503.6 449.4L503.7 449.7L503.7 449.7L503.8 450.7L503.9 451.1L504 451.6L504.1 451.9L504.2 452L504.4 451.3L504.5 450.7L504.7 448.7L504.8 446.2L505 438.3L505 437.6L505.1 433.2L505.1 430.9L505.2 404.9L505.3 384.7L505.3 385.7L505.4 404L505.5 420.1L505.5 426.5L505.6 431.2L505.6 433.1L505.6 434.8L505.7 439.7L505.8 444.5L505.8 445.1L506.1 450.1L506.1 450.6L506.2 451.7L506.3 452.7L506.5 453.9L506.6 454.5L506.6 454.6L506.7 454.8L507 454.5L507 454.3L507.2 453.1L507.3 452.6L507.3 452.3L507.4 451.4L507.4 451.2L507.5 450.8L507.6 450.5L507.6 450.4L507.6 450.4L507.7 450.3L507.8 450.2L508 448.9L508 448.6L508.1 447.8L508.4 437.8L508.4 431.3L508.5 414.6L508.5 405.5L508.6 398L508.7 414.5L508.9 437.5L508.9 441L508.9 441.5L508.9 443L509.1 447.2L509.2 448.3L509.3 449.4L509.4 450.1L509.4 450.2L509.5 450.8L509.5 450.8L509.5 451.1L509.7 452.8L509.9 455.1L510 455.6L510 455.7L510.2 456.6L510.3 457L510.5 457.3L510.6 457.2L510.8 456.7L510.9 456.4L511.2 454.9L511.3 454L511.4 453.9L511.4 453.9L511.5 454.1L511.5 454.2L511.7 455.2L511.9 457L512.3 458.6L512.8 459.4L513.4 459.8"/></defs>
<use href="#p2" stroke="#f9cf9f" stroke-width="2.8" stroke-opacity="0.55"/>
<use href="#p2" stroke="#7587a6" stroke-width="1.4" stroke-opacity="1" transform="translate(0 0.7)"/>
<path d="M65.4 458.3h0M74.7 459h0M75 459.4h0M83.5 452.5h0M92.3 451.8h0M92.6 459h0M100.7 457.6h0M101.1 451.7h0M109.3 459.3h0M109.7 432.4h0M110 458.5h0M117.9 459.1h0M118.3 436.7h0M118.6 456.7h0M126.8 448.5h0M127.1 452.3h0M134.9 459.1h0M135.3 448.9h0M135.6 447h0M135.9 458.9h0M143.3 459.1h0M143.7 451.4h0M144 435.5h0M144.3 457.9h0M152 453.9h0M152.3 406.7h0M152.7 456.4h0M160.2 455.8h0M160.6 398.6h0M160.9 453.4h0M168.4 457.2h0M168.7 434.8h0M169 446.8h0M169.4 458h0M176.4 458.6h0M176.7 452.3h0M177 385.8h0M177.4 454.6h0M184.8 454.7h0M185.1 386h0M185.4 453h0M185.7 458.7h0M192.8 455.1h0M193.1 393.2h0M193.4 452.6h0M193.8 458.6h0M200.8 453.9h0M201.1 386.5h0M201.4 454.6h0M208.6 457.2h0M208.9 431h0M209.2 451.2h0M209.6 458.5h0M216.6 453.8h0M216.9 430.3h0M217.2 457.5h0M224.4 450.4h0M224.8 452.3h0M232.2 447h0M247.2 457.5h0M247.6 453.2h0M254.8 451.4h0M255.1 451.3h0M261.9 457.3h0M262.2 437.7h0M262.6 451.4h0M269.1 457.9h0M269.4 451.5h0M269.7 412.2h0M270.1 455.4h0M276.5 455.8h0M276.8 431.1h0M277.2 445.8h0M277.5 456.9h0M283.6 456.1h0M284 441.3h0M284.3 431.6h0M284.6 455.3h0M290.6 457.3h0M290.9 451.4h0M291.3 363.1h0M291.6 451h0M291.9 457.1h0M297.7 456.5h0M298.1 447.8h0M298.4 392.6h0M298.7 453.1h0M299.1 457.5h0M304.9 454h0M305.2 414.1h0M305.6 445.6h0M305.9 456.2h0M311.6 457.1h0M311.9 451.4h0M312.3 374.8h0M312.6 452.3h0M312.9 457.3h0M318.6 456.6h0M318.9 447.9h0M319.2 418.5h0M319.5 454.6h0M325.3 457h0M325.6 451.1h0M325.9 393.8h0M326.3 453.6h0M332.3 451.8h0M332.7 407.7h0M333 454.6h0M338.8 456.5h0M339.1 443.4h0M339.4 445.7h0M339.8 456.7h0M345.6 453.5h0M345.9 423.5h0M346.2 456h0M352 456.8h0M352.3 433.4h0M352.6 454.4h0M358.5 456.1h0M358.8 429.8h0M359.2 457h0M365 449.5h0M365.4 454.5h0M371.4 438.5h0M371.8 456.5h0M377.4 456.8h0M377.7 443.7h0M383.9 451.7h0M389.9 453.4h0M422.1 457.2h0M422.5 453.9h0M423.1 456.6h0M423.5 456.5h0M425.9 457.3h0M426.2 455h0M426.5 455.6h0M430.2 455.1h0M430.5 455.3h0M431.5 456.5h0M434.4 454.9h0M434.7 445.2h0M435 456.4h0M435.3 457h0M435.7 454.8h0M436 456.1h0M438 457.4h0M438.4 455.8h0M438.7 451.8h0M439 451.8h0M439.3 456.2h0M439.7 454.7h0M440 455.7h0M442.3 455.7h0M442.7 452.5h0M443 435.4h0M443.3 454.4h0M443.6 454.4h0M444 455.4h0M444.3 457.4h0M446.2 456.5h0M446.5 453h0M446.9 434.9h0M447.2 454.1h0M447.5 455.7h0M447.9 454.7h0M448.2 456.9h0M450 457.2h0M450.3 455.6h0M450.6 449.9h0M451 435.4h0M451.3 454h0M451.6 454.6h0M452 454.2h0M454.1 456.4h0M454.4 453.3h0M454.8 444h0M455.1 448.1h0M455.4 454.6h0M455.7 454.6h0M456.1 456.5h0M458 455.6h0M458.4 450.3h0M458.7 415.4h0M459 451.3h0M459.3 455.2h0M459.7 454.7h0M460 455.2h0M461.6 455.6h0M462 454.8h0M462.3 449.1h0M462.6 413h0M463 450.6h0M463.3 455h0M463.6 454.6h0M465.7 454h0M466 450.2h0M466.4 408.2h0M466.7 444h0M467 453.2h0M467.3 455.7h0M467.7 453.9h0M469.5 452.9h0M469.8 449.7h0M470.1 409.5h0M470.5 442.1h0M470.8 452.3h0M471.1 455.6h0M471.4 454.1h0M473.3 450.5h0M473.6 448.9h0M473.9 413h0M474.2 442.3h0M474.6 450.9h0M474.9 455.5h0M475.2 455.3h0M476.7 454.7h0M477 448.7h0M477.4 425.9h0M477.7 438.6h0M478 451.5h0M478.4 452.9h0M478.7 454.9h0M480.1 454.9h0M480.5 452.8h0M480.8 443h0M481.1 371.1h0M481.5 447.2h0M481.8 453.3h0M482.1 453.1h0M484 452.6h0M484.4 446h0M484.7 359.1h0M485 439.7h0M485.3 451.2h0M485.7 454.3h0M486 451h0M487.3 452.7h0M487.7 447.9h0M488 442.6h0M488.3 366.4h0M488.7 444.2h0M489 449.8h0M489.3 454.2h0M491.1 452.1h0M491.4 442.7h0M491.7 390.7h0M492.1 441.2h0M492.4 451.8h0M492.7 453.1h0M493 454.2h0M494.5 453.9h0M494.9 448.8h0M495.2 404.5h0M495.5 438.3h0M495.9 451.6h0M496.2 453.9h0M496.5 450.9h0M497.8 451.6h0M498.1 450.2h0M498.5 440h0M498.8 415h0M499.1 447.7h0M499.5 453.6h0M499.8 455.1h0M501.2 454.4h0M501.6 448.3h0M501.9 414.3h0M502.2 439.9h0M502.6 450.6h0M502.9 449.6h0M503.2 451.7h0M504.4 450.9h0M504.8 451.1h0M505.1 439.2h0M505.4 428.6h0M505.8 450.1h0M506.1 454.6h0M506.4 453.3h0M507.9 451.8h0M508.2 449.7h0M508.5 422.6h0M508.8 445.4h0M509.2 451.4h0M509.5 456.2h0M509.8 457.2h0" stroke="#6c788a" stroke-width="2" stroke-linecap="round"/>
<path d="M65.5 457.5h0M67.2 462.4h0M68.9 462.6h0M70.5 462.2h0M72 461.6h0M73.4 461.5h0M75.1 458.3h0M76.4 463.5h0M78.2 463.6h0M79.2 463h0M80.8 462.8h0M81.8 463.3h0M83.2 460.6h0M84.8 461.7h0M85.8 463.4h0M87.1 461.5h0M88.2 463.6h0M89.8 461.8h0M90.9 463.1h0M92.4 444.9h0M93.5 461.8h0M95.3 461.3h0M96.6 461.4h0M98.4 461.5h0M100.2 461.8h0M101.7 460.1h0M103.3 462.3h0M104.7 461.5h0M106.1 463h0M107.2 463.1h0M108.5 460.9h0M109.7 434.8h0M111.3 462.1h0M113 462.3h0M114.4 463.3h0M115.6 461.1h0M116.8 461.3h0M117.9 456.8h0M118.9 460.1h0M120.3 462.8h0M121.9 462.7h0M123.5 461.7h0M125.1 461.2h0M126.5 456.1h0M128.1 460.4h0M129.4 462.7h0M131.1 463.1h0M132.2 461.4h0M133.2 462.4h0M134.8 458.2h0M136.5 460.3h0M137.9 462.8h0M139.4 462.3h0M140.9 461.9h0M142.5 461.1h0M143.6 447.4h0M144.9 459.9h0M146.4 461.5h0M147.7 461.7h0M149 462.9h0M150.1 460.6h0M151.7 456.7h0M153 458.2h0M154.3 461h0M155.3 462.6h0M157.1 461.3h0M158.4 461.1h0M159.5 460.6h0M161.2 455h0M162.4 461.6h0M164 461.7h0M165.3 461.1h0M166.9 462.1h0M168.6 431.4h0M170.1 461.3h0M171.7 461.5h0M172.8 460.7h0M174.4 460.6h0M176 459h0M177.4 450.4h0M179.2 461.6h0M180.2 461.8h0M181.6 461h0M183.3 461.5h0M184.4 456h0M185.7 455.1h0M186.9 460.9h0M188.6 460.8h0M190.2 461.1h0M191.9 460.8h0M193.2 389.7h0M194.3 459.3h0M195.8 461.7h0M197.1 460.5h0M198.2 461.6h0M199.3 460.5h0M200.8 447.5h0M202.2 458.8h0M203.7 460.8h0M205.3 460.7h0M206.5 461.2h0M208.2 457.4h0M209.4 450.5h0M210.6 460.3h0M211.9 461.9h0M213.2 461.4h0M214.5 461.9h0M216.2 457.2h0M218 459.5h0M219.7 461.4h0M221.3 461.1h0M222.5 460.4h0M224.2 454.9h0M225.8 460.4h0M227.2 460.7h0M228.3 461h0M229.9 461.5h0M230.9 461.6h0M232.2 442.9h0M233.4 460.3h0M235.1 461.5h0M236.4 460.8h0M237.6 460.9h0M238.9 462h0M240.5 461.8h0M242.2 461.7h0M243.3 460.3h0M244.4 460.7h0M245.9 461.8h0M247.3 449h0M248.5 461.7h0M250.1 460.8h0M251.2 462.2h0M252.4 461.8h0M253.5 460.9h0M254.7 446.2h0M256 459.1h0M257.1 461.6h0M258.9 461.3h0M260.5 460.1h0M261.7 456.2h0M263.5 458.5h0M265 460.4h0M266.1 460.6h0M267.9 459.7h0M269 456.6h0M270.5 457.5h0M271.7 461.2h0M272.7 459.9h0M273.9 460.6h0M275.3 460h0M276.9 387.9h0M278.3 458.2h0M279.9 459.4h0M281.2 459.6h0M282.7 459.9h0M283.8 445h0M285.5 459.2h0M286.5 460.6h0M288.2 460.1h0M289.3 460.2h0M290.6 453.8h0M291.7 446.8h0M292.8 458.9h0M294.2 460.3h0M295.6 460.8h0M296.6 459.1h0M298.4 367.8h0M300.1 460.1h0M301.5 460.7h0M303 459.1h0M304.2 456.9h0M305.9 451.8h0M307.2 459.6h0M308.3 460.5h0M309.9 460.5h0M311.7 453.1h0M312.8 451.9h0M314.3 459.4h0M315.6 459.2h0M317.3 459.4h0M318.9 430.3h0M320.2 457.6h0M321.8 460.7h0M323.1 460.3h0M324.4 459.8h0M326 397.9h0M327.3 458.1h0M329 460.4h0M330.2 458.8h0M331.4 459.5h0M332.4 437.2h0M333.8 458.5h0M335.3 459.6h0M336.7 458.9h0M338.4 456.3h0M339.6 446.4h0M341.1 460.2h0M342.6 460.8h0M343.7 458.7h0M344.9 458.9h0M346 430.7h0M347.6 458.8h0M349 460.8h0M350.6 459.5h0M352 452.7h0M353.8 460h0M355.3 459.5h0M356.9 459.8h0M358.5 450.9h0M360.2 460h0M361.6 460.1h0M363.2 459.9h0M365 445.2h0M366.7 460h0M368.1 460.7h0M369.2 459.3h0M370.8 458.7h0M372.1 459.2h0M373.6 458.8h0M374.7 458.5h0M376.2 459.1h0M377.4 455.4h0M378.5 459.6h0M380.1 459.9h0M381.5 459.2h0M383 458.3h0M384.7 460h0M386.3 460.4h0M387.4 458h0M388.7 458.7h0M390 451.7h0M391.7 460.1h0M392.8 459h0M393.9 459.1h0M394.9 459.4h0M396.1 457h0M397.6 458.7h0M398.8 459.9h0M400.4 460h0M401.8 457.5h0M403 457.6h0M404.4 459.6h0M405.5 458.7h0M407.2 458.5h0M408.9 458.9h0M410 458.3h0M411.6 458.8h0M412.7 457.9h0M414 458.1h0M415.5 456.9h0M417.1 458.7h0M418.9 458h0M420.1 458.1h0M421.9 457.9h0M423.5 456.3h0M425 459.3h0M426.8 458.6h0M427.8 457.3h0M429.6 457.9h0M431.4 458h0M432.4 458.4h0M433.6 458.1h0M434.9 453.8h0M436.7 456.4h0M438.4 452.9h0M440 454.9h0M441.4 458.7h0M442.6 452.2h0M444 454.4h0M445.6 457.8h0M446.7 449.1h0M447.7 456.6h0M449 456.6h0M450.1 456.1h0M451.7 455.1h0M453.3 458.2h0M455.1 442.3h0M456.3 455.1h0M458.1 451.7h0M459.6 456h0M461 456.1h0M462.6 408.2h0M464.3 454h0M465.8 451.1h0M466.9 445.5h0M468.2 455.2h0M469.5 450.1h0M470.9 447.8h0M472 456.6h0M473.1 450.2h0M474.7 449.2h0M476.4 452.6h0M477.4 389.8h0M478.9 453.1h0M479.9 454.2h0M481.1 361.5h0M482.9 452.7h0M484 450.2h0M485 431.1h0M486.4 455.8h0M487.7 445.9h0M489 445.4h0M490.4 454.7h0M491.6 412.3h0M492.8 451.3h0M494.3 453.1h0M496 447.7h0M497.6 451.4h0M498.9 418.1h0M500.4 456.2h0M501.8 426.6h0M503.3 451.1h0M504.6 448.8h0M506 449.8h0M507.7 451.8h0M509.2 448.3h0M510.4 457.9h0" stroke="#6d85aa" stroke-width="1.5" stroke-linecap="round"/>
<use href="#p2" stroke="#eb8d3e" stroke-width="1.3" stroke-opacity="1"/>
<path d="M168.8 382h0M177.1 373.3h0M185.2 369h0M185.2 376.3h0M209 384.9h0M209 389.7h0M269.8 384h0M276.9 374.9h0M298.5 353.2h0M305.6 360.3h0M339.2 391h0M352.3 415.5h0M365 425.7h0M446.9 429.5h0M454.9 418.9h0M458.7 404.5h0M462.6 402.3h0M466.4 387.9h0M470.3 375.3h0M474 371.8h0M477.5 366.2h0M495.4 356.5h0M498.8 355.2h0" stroke="#6b7a90" stroke-width="1.9" stroke-linecap="round"/>
</g>
<rect x="65" y="350.4" width="445.8" height="145" fill="none" stroke="#000" stroke-width="1.6"/>
<path d="M104.6 495.4v3.6M104.6 350.4v-3.6M154.2 495.4v7.4M154.2 350.4v-7.4M203.7 495.4v3.6M203.7 350.4v-3.6M253.2 495.4v7.4M253.2 350.4v-7.4M302.8 495.4v3.6M302.8 350.4v-3.6M352.3 495.4v7.4M352.3 350.4v-7.4M401.8 495.4v3.6M401.8 350.4v-3.6M451.4 495.4v7.4M451.4 350.4v-7.4M500.9 495.4v3.6M500.9 350.4v-3.6M65 481.4h-7.2M510.8 481.4h7.2M65 458h-3.8M510.8 458h3.8M65 434.6h-7.2M510.8 434.6h7.2M65 411.2h-3.8M510.8 411.2h3.8M65 387.8h-7.2M510.8 387.8h7.2M65 364.4h-3.8M510.8 364.4h3.8" stroke="#000" stroke-width="1.5" fill="none"/>
<text x="52.1" y="486.6" font-size="17" text-anchor="end">0.5</text>
<text x="52.1" y="439.8" font-size="17" text-anchor="end">1.0</text>
<text x="52.1" y="393" font-size="17" text-anchor="end">1.5</text>
<text transform="translate(16.8 423.5) rotate(-90)" font-size="20.2" text-anchor="middle">Absorbance</text>
<text x="70.5" y="371.4" font-size="17.5">(c)</text>
<text x="70.5" y="391.8" font-size="17.5">PETN</text>
<g clip-path="url(#c3)" fill="none" stroke-linejoin="round">
<defs><path id="p3" d="M63 659.2L64.3 659.2L65.6 659.2L66.9 659.2L68.2 659.2L69.5 659.2L70.8 659.2L72.1 659.2L72.9 659.2L73.4 659.2L73.5 659.2L74 659.2L74.4 659.1L74.6 659L74.7 658.9L74.8 658.7L74.9 658.5L75 658.7L75.1 659L75.4 659.1L75.8 659.2L76 659.2L76.3 659.2L76.9 659.2L77.3 659.2L78.6 659.2L79.9 659.2L81.2 659.2L81.6 659.2L82.2 659.2L82.5 659.1L82.7 659.1L83.1 659.1L83.3 658.9L83.5 658.5L83.6 658.2L83.7 658.5L83.8 658.8L83.8 658.9L84.1 659.1L84.5 659.1L85 659.2L85.1 659.2L85.6 659.2L86.4 659.2L87.7 659.2L89 659.2L90.3 659.1L90.3 659.1L91 659.1L91.5 659.1L91.6 659.1L91.8 659L92.1 658.6L92.2 657.9L92.3 657.3L92.5 657.8L92.6 658.6L92.8 659L92.9 659L93.2 659.1L93.8 659.1L94.2 659.1L94.3 659.1L95.5 659.1L96.8 659.1L98.1 659.1L99 659.1L99.4 659.1L99.5 659.1L100 659L100.5 658.9L100.7 658.4L100.8 657.4L101 656.6L101 657.4L101.2 658.4L101.5 658.9L101.8 659L102 659.1L102.3 659.1L103 659.1L103.3 659.1L104.6 659.1L105.9 659.1L107.2 659.1L107.7 659.1L108.3 659.1L108.5 659L108.8 659L109.2 658.7L109.4 658L109.6 656.3L109.7 655.1L109.8 656.3L109.8 656.7L109.9 658L110.2 658.7L110.6 659L111.1 659.1L111.1 659.1L111.7 659.1L112.4 659.1L113.7 659.1L115 659.1L116.3 659.1L116.3 659.1L116.9 659L117.4 658.9L117.6 658.8L117.8 658.6L118.1 657.7L118.2 655.6L118.3 654.2L118.4 655.7L118.6 657.7L118.8 658.6L118.9 658.7L119.2 658.9L119.7 659L120.2 659.1L120.3 659.1L121.5 659.1L122.8 659.1L124.1 659.1L124.9 659.1L125.4 659L125.5 659L126 658.9L126.4 658.5L126.7 657.5L126.7 657.3L126.8 655.1L126.9 653.6L127 655.3L127.2 657.6L127.4 658.5L127.8 658.9L128 658.9L128.3 659L128.9 659.1L129.3 659.1L130.6 659.1L131.9 659.1L133.2 659.1L133.4 659L134.1 659L134.5 658.8L134.6 658.8L134.9 658.4L135.2 657.1L135.3 654.2L135.4 652.3L135.6 654.4L135.7 657.2L135.8 657.9L135.9 658.4L136.3 658.8L136.8 659L137.1 659L137.4 659L138.4 659.1L139.7 659.1L141 659.1L141.9 659L142.3 659L142.5 658.9L143 658.7L143.4 658.3L143.6 657.3L143.7 656.8L143.8 653.5L143.9 651.3L144 653.7L144.2 656.9L144.4 658.3L144.8 658.7L144.9 658.8L145.3 658.9L145.9 659L146.2 659L147.5 659.1L148.8 659L150.1 659L150.3 659L150.9 658.9L151.4 658.7L151.4 658.7L151.8 658.1L152 656.4L152.2 652.5L152.3 649.8L152.4 652.7L152.5 656.5L152.7 657.8L152.8 658.1L153.2 658.7L153.7 658.9L154 659L154.3 659L155.3 659L156.6 659L157.9 659L158.6 659L159.2 658.9L159.2 658.9L159.7 658.6L160.1 657.9L160.3 656L160.5 651.6L160.5 651.2L160.6 648.5L160.7 651.7L160.8 656L161.1 657.9L161.5 658.6L161.8 658.8L162 658.9L162.6 659L163.1 659L164.4 659L165.7 659L166.8 659L167 658.9L167.4 658.8L167.9 658.5L168.3 657.8L168.3 657.7L168.6 655.5L168.7 650.4L168.8 646.6L168.9 650.2L169.1 655.4L169.3 657.7L169.6 658.4L169.7 658.5L170.2 658.8L170.8 658.9L170.9 659L172.2 659L173.5 659L174.8 659L175 658.9L175.6 658.8L176.1 658.5L176.1 658.5L176.5 657.6L176.8 655.1L176.9 649.3L177 645.6L177.1 649.9L177.3 655.3L177.4 657L177.5 657.6L177.9 658.5L178.4 658.8L178.7 658.9L179 658.9L180 659L181.3 659L182.6 659L183.1 658.9L183.7 658.8L183.9 658.7L184.2 658.5L184.6 657.6L184.9 655.3L185 649.8L185.1 646L185.2 649.4L185.2 649.9L185.4 655.3L185.6 657.6L186 658.5L186.5 658.8L186.5 658.8L187.1 658.9L187.8 659L189.1 659L190.4 659L191.1 658.9L191.7 658.8L191.7 658.8L192.2 658.6L192.6 657.9L192.9 656.1L193 653.4L193 651.8L193.1 648.5L193.2 651.5L193.4 655.9L193.6 657.9L194 658.5L194.3 658.7L194.5 658.8L195.1 658.9L195.6 658.9L196.9 659L198.2 659L199.1 658.9L199.5 658.9L199.7 658.8L200.2 658.5L200.6 657.9L200.8 656.8L200.9 656L201 651.6L201.1 648.5L201.2 651.7L201.4 656L201.6 657.9L202 658.5L202.1 658.6L202.5 658.8L203.1 658.9L203.4 658.9L204.7 659L206 658.9L207 658.9L207.3 658.9L207.6 658.8L208.1 658.6L208.5 657.9L208.6 657.5L208.8 656.2L208.9 652.1L209 648.9L209.1 651.7L209.2 656L209.5 657.9L209.9 658.5L210.4 658.8L211 658.9L211.2 658.9L212.5 658.9L213.8 658.9L214.8 658.9L215.1 658.9L215.4 658.8L215.9 658.7L216.3 658.2L216.4 658L216.6 656.9L216.7 654L216.8 651.8L216.9 653.9L217.1 656.9L217.3 658.2L217.7 658.6L217.7 658.7L218.2 658.8L218.8 658.9L219 658.9L220.3 658.9L221.6 658.9L222.6 658.9L222.9 658.9L223.2 658.9L223.7 658.7L224.1 658.4L224.2 658.2L224.3 657.4L224.5 655.2L224.6 653.7L224.7 655.3L224.8 657.5L225.1 658.4L225.5 658.7L225.5 658.7L226 658.9L226.6 658.9L226.8 658.9L228.1 658.9L229.4 658.9L230.3 658.9L230.7 658.9L230.9 658.9L231.4 658.8L231.8 658.6L232 658.1L232 658L232.2 656.5L232.3 655.6L232.4 656.7L232.5 658L232.8 658.6L233.2 658.8L233.3 658.8L233.7 658.9L234.3 658.9L234.6 658.9L235.9 658.9L237.2 658.9L238.5 658.9L239.8 658.9L241.1 658.9L242.4 658.9L243.7 658.9L245 658.9L245.4 658.9L246 658.9L246.3 658.9L246.5 658.8L246.9 658.7L247.2 658.3L247.3 657.3L247.4 656.6L247.5 657.3L247.6 657.8L247.7 658.2L247.9 658.7L248.3 658.8L248.8 658.9L248.9 658.9L249.4 658.9L250.2 658.9L251.5 658.9L252.8 658.9L252.9 658.9L253.5 658.8L254 658.7L254.1 658.7L254.4 658.4L254.7 657.4L254.8 655.3L254.9 653.7L255 655.2L255.2 657.4L255.4 658.3L255.4 658.4L255.8 658.7L256.3 658.8L256.7 658.9L256.9 658.9L258 658.9L259.3 658.9L260.3 658.8L260.6 658.8L260.9 658.8L261.4 658.6L261.8 658.1L261.9 657.8L262.1 656.6L262.2 653.3L262.3 650.8L262.4 653.1L262.6 656.5L262.8 658L263.2 658.5L263.2 658.5L263.7 658.7L264.3 658.8L264.5 658.8L265.8 658.9L267.1 658.8L267.7 658.8L268.3 658.7L268.4 658.6L268.8 658.4L269.2 657.7L269.4 655.8L269.6 651.4L269.7 647.9L269.7 648.2L269.8 651L269.9 655.7L270.2 657.7L270.6 658.4L271 658.7L271.1 658.7L271.7 658.8L272.3 658.8L273.6 658.8L274.9 658.8L274.9 658.8L275.6 658.7L276.1 658.4L276.2 658.2L276.4 657.7L276.7 655.7L276.9 651L276.9 647.9L277.1 651.3L277.2 655.8L277.4 657.7L277.5 657.9L277.9 658.4L278.4 658.7L278.8 658.8L278.9 658.8L280.1 658.8L281.4 658.8L282.1 658.8L282.7 658.6L282.8 658.6L283.2 658.2L283.6 657.3L283.9 654.7L284 651.4L284.1 648.7L284.1 644.5L284.2 648.9L284.4 654.8L284.6 657.4L285.1 658.2L285.3 658.5L285.6 658.6L286.1 658.8L286.6 658.8L287.9 658.8L289.2 658.8L289.3 658.7L289.9 658.6L290.4 658.3L290.5 658.1L290.8 657.4L291 654.9L291.2 649.2L291.3 645L291.4 649L291.5 654.9L291.8 657.4L291.8 657.5L292.2 658.3L292.7 658.6L293.1 658.7L293.3 658.7L294.4 658.8L295.7 658.8L296.4 658.7L296.9 658.5L297 658.5L297.4 658.1L297.9 657.1L298.1 654.1L298.2 647.2L298.3 644L298.4 642.7L298.4 647.8L298.6 654.3L298.9 657.2L299.2 658.2L299.6 658.5L299.8 658.5L300.4 658.7L300.9 658.8L302.2 658.8L303.3 658.7L303.5 658.7L303.9 658.6L304.4 658.2L304.8 657.5L304.8 657.4L305.1 654.9L305.2 649.1L305.3 645L305.4 649.2L305.6 654.9L305.8 657.4L306.1 658.1L306.2 658.2L306.7 658.6L307.3 658.7L307.4 658.7L308.7 658.8L310 658.8L310.3 658.7L310.9 658.6L311.3 658.4L311.4 658.3L311.8 657.6L312 655.5L312.2 650.7L312.3 647L312.4 650.3L312.5 655.4L312.6 656.6L312.8 657.6L313.2 658.3L313.7 658.6L313.9 658.7L314.3 658.7L315.2 658.8L316.5 658.8L317.1 658.7L317.7 658.6L317.8 658.6L318.2 658.3L318.6 657.7L318.9 655.7L319 651.2L319.1 648.1L319.1 647.9L319.2 651.2L319.4 655.7L319.6 657.7L320 658.3L320.4 658.6L320.5 658.6L321.1 658.7L321.7 658.8L323 658.8L323.9 658.7L324.3 658.7L324.5 658.6L325 658.4L325.4 657.7L325.6 656.7L325.7 655.9L325.8 651.7L325.9 648.9L326 652L326.2 656L326.4 657.8L326.8 658.4L326.9 658.4L327.3 658.6L327.9 658.7L328.2 658.7L329.5 658.8L330.6 658.7L330.8 658.7L331.2 658.6L331.7 658.4L332.1 657.9L332.1 657.8L332.4 656.3L332.5 652.6L332.6 649.8L332.7 652.4L332.9 656.2L333.1 657.8L333.4 658.3L333.5 658.4L334 658.6L334.6 658.7L334.7 658.7L336 658.7L337.3 658.7L337.3 658.7L337.9 658.6L338.4 658.4L338.6 658.1L338.8 657.8L339 656.1L339.2 652.3L339.3 649.5L339.4 652.2L339.5 656.1L339.8 657.8L339.9 658L340.2 658.3L340.7 658.6L341.2 658.7L341.3 658.7L342.5 658.7L343.8 658.7L343.9 658.7L344.4 658.6L344.9 658.4L345.1 658.3L345.4 657.9L345.6 656.6L345.8 653.6L345.9 651.4L345.9 653.6L346.1 656.6L346.4 657.9L346.4 658L346.8 658.4L347.2 658.6L347.7 658.6L347.9 658.6L349 658.7L350.3 658.6L350.4 658.6L351 658.6L351.5 658.4L351.6 658.4L351.9 658.1L352.1 657.1L352.3 654.7L352.4 653.1L352.5 654.8L352.6 657.1L352.9 658.1L352.9 658.1L353.3 658.4L353.8 658.6L354.2 658.6L354.4 658.6L355.5 658.6L356.8 658.6L357.4 658.6L357.9 658.5L358.1 658.4L358.3 658.2L358.6 657.5L358.7 655.8L358.8 654.6L358.9 655.8L359.1 657.5L359.3 658.2L359.4 658.3L359.7 658.5L360.2 658.6L360.7 658.6L360.8 658.6L362 658.6L363.2 658.6L363.3 658.6L363.8 658.5L364.3 658.4L364.6 658.3L364.7 658.2L364.9 657.6L365.1 656L365.2 655L365.3 656.1L365.4 657.6L365.7 658.2L365.9 658.4L366.1 658.4L366.6 658.5L367.2 658.6L367.2 658.6L368.5 658.6L369.5 658.5L369.8 658.5L370.1 658.5L370.6 658.4L371 658.3L371.1 658.1L371.2 657.7L371.4 656.5L371.5 655.6L371.6 656.5L371.7 657.7L372 658.2L372.4 658.4L372.4 658.4L372.9 658.5L373.5 658.5L373.7 658.5L375 658.5L375.7 658.5L376.3 658.5L376.8 658.5L377.2 658.4L377.4 658.1L377.6 657.5L377.7 657L377.8 657.5L377.9 658.1L378.2 658.4L378.6 658.5L378.9 658.5L379.1 658.5L379.7 658.5L380.2 658.5L381.5 658.5L381.9 658.5L382.5 658.5L382.8 658.5L383 658.4L383.4 658.3L383.6 658.1L383.8 657.5L383.9 657.1L384 657.5L384.1 658.1L384.1 658.1L384.4 658.3L384.8 658.4L385.3 658.5L385.4 658.5L385.9 658.5L386.7 658.5L387.9 658.5L388 658.5L388.6 658.4L389.1 658.4L389.3 658.4L389.4 658.4L389.7 658.2L389.9 657.8L389.9 657.5L390.1 657.8L390.2 658.2L390.4 658.4L390.6 658.4L390.9 658.4L391.4 658.4L391.9 658.4L391.9 658.4L393.2 658.4L394.5 658.4L395.8 658.4L397.1 658.4L398.4 658.4L399.7 658.4L401 658.4L402.3 658.4L403.6 658.4L404.9 658.4L406.2 658.4L407.5 658.4L408.8 658.4L410.1 658.4L411.4 658.4L412.7 658.4L414 658.4L415.3 658.4L416.6 658.4L417.9 658.4L419.2 658.3L420.5 658.3L421.8 658.3L423.1 658.3L424.4 658.3L425.7 658.3L427 658.3L428.3 658.3L429.6 658.3L430.9 658.3L432.2 658.3L433.5 658.3L434.8 658.2L436.1 658.3L437.4 658.2L438.7 658.1L440 658.2L441.3 658.2L442.6 658.1L443.9 658.2L445.2 658.1L446.5 658.1L447.8 658.2L448.9 658.1L449.1 658.1L449.6 658.2L450.1 658.1L450.4 658.1L450.4 658.1L450.7 658L450.9 657.9L450.9 657.9L451.1 657.9L451.2 658L451.4 658L451.7 658.1L451.9 658.1L452.4 658.1L452.9 657.9L452.9 657.9L453 657.9L453.5 658L454 658L454.3 657.9L454.4 657.8L454.6 657.5L454.8 657L454.8 656.9L454.9 656.6L455 657L455.1 657.6L455.4 657.9L455.4 657.9L455.6 657.9L455.8 658L455.9 658L456.3 657.9L456.3 657.9L456.6 657.8L456.7 657.7L456.7 657.7L456.8 657.7L456.9 657.7L456.9 657.7L457 657.7L457.1 657.8L457.3 657.9L457.3 657.9L457.6 657.9L457.7 657.9L457.8 657.9L458.1 657.8L458.2 657.8L458.2 657.7L458.4 657.4L458.5 657.3L458.6 656.7L458.7 656.2L458.7 656.3L458.8 656.6L458.8 656.7L458.9 657L458.9 657.2L459 657.2L459.1 657.4L459.1 657.4L459.2 657.5L459.2 657.6L459.5 657.8L459.5 657.8L459.6 657.8L459.7 657.9L459.9 657.9L460.1 658L460.2 658L460.4 658L460.6 657.9L460.6 657.9L460.7 657.8L460.8 657.8L460.8 657.8L461 657.7L461 657.7L461.1 657.7L461.1 657.7L461.2 657.7L461.2 657.7L461.3 657.7L461.6 657.8L461.7 657.8L461.7 657.8L462 657.8L462.1 657.7L462.2 657.6L462.4 657.3L462.5 656.7L462.5 656.5L462.6 655.9L462.6 656L462.7 656.4L462.9 657.1L462.9 657.2L463 657.3L463.1 657.4L463.1 657.4L463.1 657.4L463.2 657.4L463.2 657.5L463.4 657.6L463.4 657.6L463.5 657.7L463.6 657.8L463.8 657.9L464 657.9L464 657.9L464.3 658L464.4 658L464.5 657.9L464.6 657.9L464.7 657.9L464.7 657.9L464.9 657.8L465 657.7L465.1 657.7L465.1 657.7L465.2 657.7L465.3 657.6L465.3 657.7L465.4 657.7L465.5 657.7L465.7 657.7L465.9 657.6L465.9 657.6L466 657.6L466.1 657.4L466.1 657.3L466.3 656.4L466.4 655.7L466.4 655.8L466.5 656.3L466.6 656.9L466.6 657.2L466.8 657.5L466.9 657.6L467.1 657.6L467.2 657.6L467.2 657.6L467.3 657.6L467.3 657.6L467.4 657.6L467.4 657.6L467.6 657.7L467.8 657.8L467.8 657.9L468 657.9L468.2 657.9L468.2 657.9L468.4 657.9L468.5 657.9L468.6 657.9L468.7 657.9L468.8 657.8L468.9 657.8L469.1 657.6L469.3 657.5L469.3 657.5L469.3 657.4L469.4 657.4L469.5 657.4L469.5 657.4L469.6 657.4L469.7 657.4L469.9 657.3L469.9 657.2L469.9 657.1L470.1 656.2L470.1 655.9L470.2 655.6L470.3 655.9L470.3 656.3L470.4 657.2L470.6 657.6L470.7 657.6L470.8 657.7L471 657.7L471.1 657.7L471.2 657.7L471.3 657.7L471.4 657.7L471.4 657.6L471.5 657.6L471.6 657.6L471.6 657.7L471.6 657.7L471.8 657.7L472 657.8L472 657.9L472.2 657.9L472.2 657.9L472.4 657.9L472.5 657.9L472.6 657.9L472.7 657.9L472.9 657.8L473.1 657.7L473.1 657.7L473.3 657.5L473.5 657.4L473.5 657.4L473.5 657.3L473.6 657.3L473.7 657.2L473.8 657L473.8 656.8L473.8 656.7L473.9 656.2L474 655.6L474.1 656L474.1 656.3L474.1 656.6L474.2 657.2L474.5 657.6L474.5 657.6L474.6 657.7L474.9 657.8L475 657.8L475 657.8L475.1 657.7L475.3 657.7L475.4 657.6L475.4 657.6L475.5 657.6L475.5 657.6L475.6 657.6L475.6 657.7L475.7 657.7L475.8 657.7L476 657.8L476 657.8L476.1 657.8L476.3 657.9L476.4 657.9L476.4 657.9L476.6 657.8L476.8 657.8L476.9 657.7L477 657.6L477.2 657.4L477.2 657.2L477.4 656.3L477.4 656.1L477.5 655.6L477.5 655.7L477.6 655.9L477.6 656.2L477.7 656.7L477.7 656.8L477.7 656.9L477.8 657L477.8 657.1L477.9 657.4L478 657.5L478.2 657.7L478.3 657.8L478.4 657.8L478.6 657.9L478.8 657.9L478.9 657.9L479 657.9L479.1 657.9L479.1 657.9L479.2 657.8L479.5 657.7L479.5 657.7L479.6 657.6L479.7 657.6L479.7 657.6L479.7 657.6L479.8 657.6L479.8 657.6L480 657.6L480.2 657.7L480.2 657.7L480.3 657.7L480.4 657.7L480.6 657.6L480.6 657.6L480.9 657.1L480.9 657L481 656.2L481.1 655.5L481.1 655.5L481.2 656.1L481.3 656.7L481.4 657L481.5 657.2L481.6 657.2L481.7 657.2L481.7 657.2L481.7 657.2L481.8 657.2L481.9 657.3L482 657.4L482 657.4L482.3 657.7L482.3 657.7L482.5 657.8L482.7 657.8L482.7 657.8L482.8 657.8L482.9 657.8L483.1 657.8L483.2 657.7L483.2 657.7L483.3 657.7L483.5 657.6L483.6 657.4L483.7 657.4L483.7 657.4L483.8 657.4L483.8 657.4L483.8 657.4L484 657.4L484.2 657.4L484.2 657.4L484.3 657.4L484.4 657.1L484.6 656.2L484.6 655.9L484.7 655.5L484.8 656L484.8 656.2L484.9 657.1L485.1 657.4L485.2 657.4L485.2 657.4L485.4 657.4L485.5 657.4L485.6 657.3L485.6 657.3L485.7 657.3L485.7 657.4L485.8 657.4L485.8 657.4L485.9 657.5L486.1 657.7L486.2 657.7L486.3 657.8L486.4 657.8L486.6 657.9L486.7 657.9L486.8 657.9L486.9 657.8L486.9 657.8L487.1 657.8L487.3 657.7L487.4 657.6L487.5 657.5L487.7 657.4L487.7 657.4L487.8 657.3L487.8 657.3L487.8 657.3L487.9 657.2L488 657L488.1 657L488.1 656.8L488.2 656.1L488.3 655.5L488.3 655.5L488.4 655.7L488.4 656.2L488.6 657.1L488.7 657.4L488.8 657.6L488.9 657.6L489.2 657.7L489.2 657.7L489.2 657.7L489.4 657.6L489.5 657.6L489.6 657.5L489.7 657.5L489.8 657.5L489.8 657.5L489.8 657.5L489.9 657.6L490 657.6L490.2 657.7L490.3 657.8L490.4 657.8L490.4 657.8L490.6 657.8L490.7 657.8L490.9 657.7L490.9 657.7L491.1 657.5L491.2 657.4L491.3 657.4L491.5 657L491.6 656.8L491.6 656.4L491.7 656L491.8 655.7L491.8 655.5L491.9 655.7L491.9 656.1L491.9 656.2L492 656.7L492.1 656.9L492.2 657.4L492.3 657.4L492.5 657.6L492.6 657.7L492.7 657.7L493 657.7L493.1 657.7L493.2 657.7L493.3 657.7L493.4 657.6L493.7 657.4L493.8 657.4L493.8 657.3L493.8 657.3L493.9 657.3L493.9 657.3L493.9 657.3L494 657.3L494.2 657.4L494.4 657.5L494.4 657.5L494.5 657.5L494.6 657.5L494.8 657.5L494.8 657.5L495 657.1L495.1 657.1L495.2 656.2L495.3 655.5L495.3 655.5L495.4 656.1L495.4 656.3L495.6 656.9L495.7 657.1L495.8 657.2L495.8 657.2L495.9 657.2L495.9 657.2L495.9 657.2L495.9 657.2L496 657.3L496.2 657.4L496.2 657.4L496.4 657.6L496.5 657.7L496.7 657.8L496.8 657.8L497 657.8L497.2 657.7L497.3 657.7L497.3 657.7L497.4 657.7L497.6 657.5L497.8 657.3L497.8 657.3L497.9 657.3L497.9 657.3L498 657.3L498.1 657.3L498.1 657.3L498.2 657.3L498.4 657.1L498.4 657L498.5 656.8L498.6 656.1L498.7 655.5L498.7 655.5L498.8 656.1L498.8 656.2L498.9 657.1L499.2 657.5L499.2 657.5L499.3 657.6L499.6 657.6L499.6 657.6L499.8 657.6L499.8 657.6L499.9 657.6L500 657.6L500 657.6L500.1 657.6L500.1 657.6L500.2 657.6L500.3 657.7L500.6 657.8L500.6 657.8L500.7 657.8L501 657.8L501.1 657.7L501.2 657.7L501.5 657.5L501.5 657.5L501.6 657.4L501.8 657L501.9 656.5L501.9 656.1L502 655.5L502.1 655.9L502.1 656.1L502.2 656.7L502.2 656.9L502.4 657.2L502.4 657.3L502.5 657.4L502.6 657.5L502.9 657.7L502.9 657.7L503 657.8L503.3 657.8L503.4 657.8L503.4 657.8L503.5 657.8L503.7 657.7L503.8 657.7L503.9 657.6L504 657.5L504.1 657.5L504.1 657.4L504.2 657.4L504.3 657.4L504.4 657.4L504.4 657.4L504.5 657.4L504.8 657.5L504.8 657.4L504.9 657.4L505 657.2L505.1 657.1L505.1 656.6L505.2 656.2L505.3 655.6L505.4 656.2L505.6 657.1L505.6 657.3L505.8 657.5L506.1 657.5L506.2 657.5L506.2 657.5L506.3 657.5L506.4 657.5L506.6 657.6L506.6 657.6L506.7 657.7L506.8 657.7L507 657.8L507.2 657.8L507.3 657.8L507.5 657.7L507.6 657.7L507.7 657.7L507.9 657.5L508.1 657.3L508.1 657.2L508.3 656.9L508.4 656.8L508.4 656.6L508.5 656.1L508.5 655.8L508.6 655.6L508.6 655.8L508.7 656.2L508.9 657L508.9 657.2L509.1 657.5L509.1 657.5L509.3 657.6L509.5 657.7L509.6 657.7L509.8 657.7L510 657.6L510 657.6L510.2 657.5L510.3 657.4L510.4 657.3L510.4 657.3L510.5 657.3L510.6 657.3L510.6 657.3L510.7 657.4L510.8 657.4L511 657.7L511.3 657.8L511.4 657.8L511.5 657.8L511.8 657.9L511.9 657.8L512.2 657.8L512.4 657.6L512.5 657.6L512.6 657.6L512.7 657.6L512.8 657.6L512.9 657.7L513.2 657.8L513.6 658"/></defs>
<use href="#p3" stroke="#f9cf9f" stroke-width="2.8" stroke-opacity="0.55"/>
<use href="#p3" stroke="#7587a6" stroke-width="1.4" stroke-opacity="1" transform="translate(0 0.7)"/>
<path d="M118.4 654.4h0M126.9 653.9h0M135.4 655.7h0M152.4 655.5h0M160.6 649.3h0M168.7 655.4h0M169 656.3h0M176.9 650.9h0M185.1 648h0M193.2 649.7h0M201 654.3h0M209.2 656.2h0M216.8 654.4h0M254.9 653.7h0M262.3 652.2h0M269.8 654.1h0M276.8 655.8h0M277.1 656.4h0M284 654.2h0M284.3 656h0M291.1 655.8h0M291.4 654.8h0M298.3 647.5h0M305.2 652.2h0M312.2 650.5h0M319.2 652.8h0M325.7 656.3h0M332.5 656.2h0M339.1 655.8h0M345.9 651.4h0M352.3 654.8h0" stroke="#6c788a" stroke-width="2" stroke-linecap="round"/>
<path d="M65.5 658.9h0M67.2 659.8h0M68.8 660.2h0M70.3 660.6h0M71.3 659.3h0M72.5 660h0M73.6 658.6h0M74.7 658.6h0M76.2 659.6h0M77.5 658.6h0M79 659.1h0M80 658.7h0M81.2 659.5h0M82.3 659.6h0M83.4 659.7h0M85.1 659.3h0M86.2 660.7h0M87.2 660h0M88.9 659.6h0M90.6 658.9h0M92.1 659.9h0M93.9 660.4h0M95.2 659.7h0M96.9 659.4h0M98.1 658.6h0M99.3 658.8h0M101 656.9h0M102.3 660.6h0M103.8 659.5h0M104.9 659.3h0M106.1 660.6h0M107.5 660.7h0M108.7 658.5h0M110.4 658.5h0M112.1 659.8h0M113.3 660.3h0M114.6 660.7h0M116.1 660.6h0M117.8 658.9h0M119.4 660h0M120.9 658.5h0M122.4 660.2h0M123.6 658.7h0M124.6 659.7h0M125.7 660.2h0M127.1 657.7h0M128.7 659.4h0M129.8 659.4h0M131.3 660.4h0M133 659.2h0M134 659.8h0M135.6 655.7h0M137.2 660.2h0M138.7 660.3h0M139.8 660.5h0M141.3 658.7h0M142.5 659.8h0M143.7 657.1h0M144.9 659.3h0M146.3 660.5h0M147.6 660.4h0M149.2 659.7h0M150.9 660.2h0M152.5 657h0M153.6 658.7h0M155.1 658.7h0M156.6 659.2h0M157.9 660.2h0M159.6 659.7h0M160.9 657.7h0M162.7 660.4h0M164.2 658.6h0M165.9 658.5h0M167 659.8h0M168.2 659.2h0M169.7 658.3h0M171.5 660.6h0M173 660.6h0M174.6 659.4h0M176.3 659.7h0M177.8 658h0M179.1 659.9h0M180.4 658.7h0M181.8 658.7h0M183.2 658.5h0M184.8 656.6h0M186.5 658.4h0M188 659.8h0M189.2 659.8h0M190.6 659.7h0M191.8 659.3h0M193.4 657.2h0M194.6 659h0M196.3 658.5h0M197.7 659.5h0M199.1 658.3h0M200.1 659.9h0M201.5 657.5h0M202.9 658.4h0M203.9 660.2h0M205.5 658.8h0M206.8 658.5h0M208 659.1h0M209.6 658.8h0M211.3 660.5h0M212.8 658.4h0M213.9 659.8h0M215 660.3h0M216 658.1h0M217.8 659h0M219.3 659.6h0M220.4 659.1h0M221.7 660h0M223.3 659.8h0M224.4 656.7h0M226.2 658.7h0M227.4 659.7h0M229.2 658.4h0M230.8 659.3h0M232.2 657.3h0M233.3 659.5h0M234.5 660h0M236.1 659.2h0M237.2 660h0M238.8 659.6h0M240.4 660.4h0M241.6 659.8h0M243.2 658.9h0M245 659h0M246.7 659.5h0M248.5 660.2h0M250.1 659.1h0M251.5 659.6h0M253.1 659.2h0M254.9 654.3h0M256.3 658.5h0M257.4 658.9h0M258.5 659.5h0M259.9 659.1h0M261.6 659h0M263.1 658.1h0M264.4 658.3h0M265.5 660.1h0M266.6 659.6h0M267.9 659.7h0M269.6 649.9h0M271.4 660.3h0M272.7 660.4h0M274.3 658.8h0M275.6 659.2h0M277.3 656.3h0M279 659.7h0M280.5 659.1h0M281.8 659.1h0M283.3 658.5h0M284.9 659.4h0M286 658.2h0M287.7 658.6h0M289.4 659h0M290.6 657.4h0M291.9 658.5h0M292.9 658.1h0M294.2 660.1h0M295.8 658.7h0M297.1 658.8h0M298.7 655.6h0M300 659.1h0M301.1 659.1h0M302.7 659.3h0M303.8 658.8h0M305.2 648.9h0M306.6 659.1h0M307.8 658.6h0M309.5 658.3h0M311.3 658h0M312.7 657.9h0M314 659.5h0M315.7 658.9h0M316.8 658.6h0M318.5 658.7h0M320.1 658.7h0M321.4 659.7h0M322.8 660.2h0M323.9 658.9h0M325.5 658.8h0M326.9 659.6h0M328 659.5h0M329.2 659.7h0M330.5 658.5h0M331.7 659.4h0M333.2 659.5h0M334.6 658.2h0M336.2 658.7h0M337.8 659.1h0M339.1 652.5h0M340.3 659.5h0M341.7 660h0M343.3 659.3h0M345.1 657.7h0M346.5 658.7h0M347.5 659.9h0M348.6 659.3h0M349.8 658.9h0M351.2 658.6h0M352.3 654h0M353.8 658.1h0M355.6 658.3h0M356.8 658.6h0M358.1 658.9h0M359.8 658.1h0M361.3 659.4h0M362.5 658.8h0M363.8 659.9h0M365.5 658.2h0M366.5 658.7h0M368.2 658.9h0M369.5 659.4h0M370.5 659.3h0M372.1 658h0M373.4 659.8h0M374.6 659.1h0M375.9 659.1h0M377.2 658.5h0M378.9 659.4h0M380.7 658.6h0M382.1 658.7h0M383.8 657.5h0M385.3 658.2h0M386.8 658.5h0M388.5 658.7h0M390.3 658.9h0M391.5 659h0M393.3 659.4h0M394.9 659.1h0M396.4 658.1h0M398.1 659.2h0M399.6 658.5h0M401.2 659h0M402.5 660h0M404.1 659.3h0M405.8 659.3h0M407.1 659.9h0M408.8 659.3h0M410.2 658.9h0M411.2 659.7h0M412.9 659.1h0M414.2 659.5h0M415.3 658.6h0M416.5 659.1h0M417.7 659.1h0M419.5 658.7h0M420.5 657.8h0M422.2 658.8h0M423.6 657.8h0M424.6 657.7h0M426.4 657.8h0M427.6 658.8h0M429.1 658.2h0M430.6 659.1h0M432.4 657.9h0M433.6 657.9h0M434.9 658.1h0M435.9 659.4h0M437.1 659.3h0M438.7 659.3h0M439.8 658.9h0M441.4 659h0M442.9 658.5h0M444.6 658.6h0M445.9 658.7h0M447.2 658h0M448.8 659.3h0M450.3 657.5h0M451.6 659.2h0M452.7 658.4h0M454.3 658.5h0M455.6 657.4h0M457.1 657.6h0M458.6 657.3h0M460.2 657.6h0M462 658.8h0M463.7 657.6h0M465.2 657.9h0M466.8 658.4h0M468.1 659.4h0M469.5 657.8h0M471 657.5h0M472.8 658h0M474.5 657.3h0M475.6 658.3h0M476.8 658.1h0M477.9 658.4h0M479.5 658.6h0M480.6 657.1h0M482.1 657h0M483.7 658h0M485.4 658.6h0M486.9 659.1h0M488.3 655.6h0M489.4 658.6h0M490.9 658.5h0M492.3 657.8h0M494.1 657.6h0M495.2 657.9h0M496.8 659.1h0M498.6 656.8h0M499.7 658.1h0M501.1 658h0M502.7 657.6h0M504.5 657.3h0M505.7 658.6h0M506.9 658.8h0M508.1 657.6h0M509.5 657.6h0" stroke="#6d85aa" stroke-width="1.5" stroke-linecap="round"/>
<use href="#p3" stroke="#eb8d3e" stroke-width="1.3" stroke-opacity="1"/>
</g>
<rect x="65" y="520.6" width="445.8" height="145" fill="none" stroke="#000" stroke-width="1.6"/>
<path d="M104.6 665.6v3.6M104.6 520.6v-3.6M154.2 665.6v7.4M154.2 520.6v-7.4M203.7 665.6v3.6M203.7 520.6v-3.6M253.2 665.6v7.4M253.2 520.6v-7.4M302.8 665.6v3.6M302.8 520.6v-3.6M352.3 665.6v7.4M352.3 520.6v-7.4M401.8 665.6v3.6M401.8 520.6v-3.6M451.4 665.6v7.4M451.4 520.6v-7.4M500.9 665.6v3.6M500.9 520.6v-3.6M65 651.6h-7.2M510.8 651.6h7.2M65 628.2h-3.8M510.8 628.2h3.8M65 604.8h-7.2M510.8 604.8h7.2M65 581.4h-3.8M510.8 581.4h3.8M65 558h-7.2M510.8 558h7.2M65 534.6h-3.8M510.8 534.6h3.8" stroke="#000" stroke-width="1.5" fill="none"/>
<text x="52.1" y="656.8" font-size="17" text-anchor="end">0.5</text>
<text x="52.1" y="610" font-size="17" text-anchor="end">1.0</text>
<text x="52.1" y="563.2" font-size="17" text-anchor="end">1.5</text>
<text transform="translate(16.8 593.7) rotate(-90)" font-size="20.2" text-anchor="middle">Absorbance</text>
<text x="70.5" y="541.4" font-size="17.5">(d)</text>
<text x="70.5" y="561.5" font-size="17.5">NM-AP</text>
<text x="153.7" y="692" font-size="17.3" text-anchor="middle">2100</text>
<text x="252.7" y="692" font-size="17.3" text-anchor="middle">2150</text>
<text x="351.8" y="692" font-size="17.3" text-anchor="middle">2200</text>
<text x="450.9" y="692" font-size="17.3" text-anchor="middle">2250</text>
<text x="189.6" y="715.8" font-size="20.4">Wavenumber</text>
<text x="317.3" y="715.8" font-size="20">(cm</text>
<text x="349.6" y="707.8" font-size="11.5">-</text>
<text x="355.6" y="707.8" font-size="11.5">1</text>
<text x="363.1" y="715.8" font-size="20">)</text>
</svg></body></html>
